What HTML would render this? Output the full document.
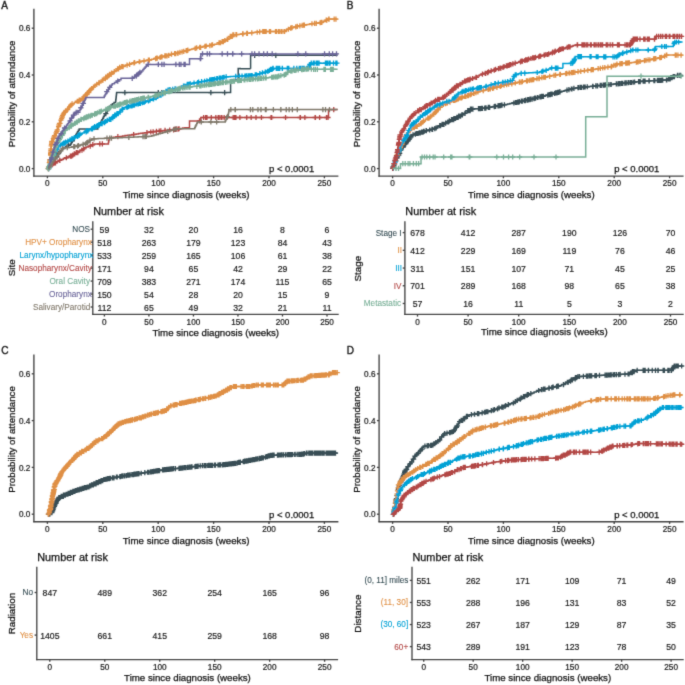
<!DOCTYPE html>
<html><head><meta charset="utf-8"><style>
html,body{margin:0;padding:0;background:#fff;width:685px;height:685px;overflow:hidden}
svg{display:block;font-family:"Liberation Sans", sans-serif}
</style></head><body>
<svg width="685" height="685" viewBox="0 0 685 685">
<defs><filter id="bl" x="0" y="0" width="685" height="685" filterUnits="userSpaceOnUse"><feConvolveMatrix order="3" kernelMatrix="0.0144 0.0912 0.0144 0.0912 0.5776 0.0912 0.0144 0.0912 0.0144" divisor="1" preserveAlpha="false" edgeMode="duplicate"/></filter></defs>
<rect width="685" height="685" fill="#fff"/>
<g filter="url(#bl)">
<text x="1.30" y="9.00" font-size="10.0" text-anchor="start" fill="#222" font-weight="normal" stroke="#222" stroke-width="0.4" >A</text>
<text x="346.70" y="9.00" font-size="10.0" text-anchor="start" fill="#222" font-weight="normal" stroke="#222" stroke-width="0.4" >B</text>
<text x="1.30" y="354.40" font-size="10.0" text-anchor="start" fill="#222" font-weight="normal" stroke="#222" stroke-width="0.4" >C</text>
<text x="346.70" y="354.40" font-size="10.0" text-anchor="start" fill="#222" font-weight="normal" stroke="#222" stroke-width="0.4" >D</text>
<line x1="33.90" y1="8.80" x2="33.90" y2="176.70" stroke="#444" stroke-width="1.35"/>
<line x1="33.30" y1="176.10" x2="338.40" y2="176.10" stroke="#444" stroke-width="1.35"/>
<line x1="47.40" y1="176.10" x2="47.40" y2="178.30" stroke="#444" stroke-width="1.35"/>
<text transform="translate(47.40,186.00) scale(1,1.07)" x="0" y="0" font-size="8.2" text-anchor="middle" fill="#222" font-weight="normal" stroke="#222" stroke-width="0.22" >0</text>
<line x1="102.80" y1="176.10" x2="102.80" y2="178.30" stroke="#444" stroke-width="1.35"/>
<text transform="translate(102.80,186.00) scale(1,1.07)" x="0" y="0" font-size="8.2" text-anchor="middle" fill="#222" font-weight="normal" stroke="#222" stroke-width="0.22" >50</text>
<line x1="158.20" y1="176.10" x2="158.20" y2="178.30" stroke="#444" stroke-width="1.35"/>
<text transform="translate(158.20,186.00) scale(1,1.07)" x="0" y="0" font-size="8.2" text-anchor="middle" fill="#222" font-weight="normal" stroke="#222" stroke-width="0.22" >100</text>
<line x1="213.60" y1="176.10" x2="213.60" y2="178.30" stroke="#444" stroke-width="1.35"/>
<text transform="translate(213.60,186.00) scale(1,1.07)" x="0" y="0" font-size="8.2" text-anchor="middle" fill="#222" font-weight="normal" stroke="#222" stroke-width="0.22" >150</text>
<line x1="269.00" y1="176.10" x2="269.00" y2="178.30" stroke="#444" stroke-width="1.35"/>
<text transform="translate(269.00,186.00) scale(1,1.07)" x="0" y="0" font-size="8.2" text-anchor="middle" fill="#222" font-weight="normal" stroke="#222" stroke-width="0.22" >200</text>
<line x1="324.40" y1="176.10" x2="324.40" y2="178.30" stroke="#444" stroke-width="1.35"/>
<text transform="translate(324.40,186.00) scale(1,1.07)" x="0" y="0" font-size="8.2" text-anchor="middle" fill="#222" font-weight="normal" stroke="#222" stroke-width="0.22" >250</text>
<line x1="31.70" y1="168.60" x2="33.90" y2="168.60" stroke="#444" stroke-width="1.35"/>
<text transform="translate(30.30,171.85) scale(1,1.07)" x="0" y="0" font-size="8.2" text-anchor="end" fill="#222" font-weight="normal" stroke="#222" stroke-width="0.22" >0.0</text>
<line x1="31.70" y1="121.80" x2="33.90" y2="121.80" stroke="#444" stroke-width="1.35"/>
<text transform="translate(30.30,125.05) scale(1,1.07)" x="0" y="0" font-size="8.2" text-anchor="end" fill="#222" font-weight="normal" stroke="#222" stroke-width="0.22" >0.2</text>
<line x1="31.70" y1="75.00" x2="33.90" y2="75.00" stroke="#444" stroke-width="1.35"/>
<text transform="translate(30.30,78.25) scale(1,1.07)" x="0" y="0" font-size="8.2" text-anchor="end" fill="#222" font-weight="normal" stroke="#222" stroke-width="0.22" >0.4</text>
<line x1="31.70" y1="28.20" x2="33.90" y2="28.20" stroke="#444" stroke-width="1.35"/>
<text transform="translate(30.30,31.45) scale(1,1.07)" x="0" y="0" font-size="8.2" text-anchor="end" fill="#222" font-weight="normal" stroke="#222" stroke-width="0.22" >0.6</text>
<text x="186.15" y="197.90" font-size="9.7" text-anchor="middle" fill="#111" font-weight="normal" stroke="#111" stroke-width="0.25" >Time since diagnosis (weeks)</text>
<text x="15.00" y="93.90" font-size="9.7" text-anchor="middle" fill="#111" font-weight="normal" stroke="#111" stroke-width="0.25" transform="rotate(-90 15.00 93.90)">Probability of attendance</text>
<text x="269.00" y="172.40" font-size="9.5" text-anchor="start" fill="#111" font-weight="normal" stroke="#111" stroke-width="0.25" >p &lt; 0.0001</text>
<line x1="379.10" y1="8.80" x2="379.10" y2="176.70" stroke="#444" stroke-width="1.35"/>
<line x1="378.50" y1="176.10" x2="683.60" y2="176.10" stroke="#444" stroke-width="1.35"/>
<line x1="392.60" y1="176.10" x2="392.60" y2="178.30" stroke="#444" stroke-width="1.35"/>
<text transform="translate(392.60,186.00) scale(1,1.07)" x="0" y="0" font-size="8.2" text-anchor="middle" fill="#222" font-weight="normal" stroke="#222" stroke-width="0.22" >0</text>
<line x1="448.00" y1="176.10" x2="448.00" y2="178.30" stroke="#444" stroke-width="1.35"/>
<text transform="translate(448.00,186.00) scale(1,1.07)" x="0" y="0" font-size="8.2" text-anchor="middle" fill="#222" font-weight="normal" stroke="#222" stroke-width="0.22" >50</text>
<line x1="503.40" y1="176.10" x2="503.40" y2="178.30" stroke="#444" stroke-width="1.35"/>
<text transform="translate(503.40,186.00) scale(1,1.07)" x="0" y="0" font-size="8.2" text-anchor="middle" fill="#222" font-weight="normal" stroke="#222" stroke-width="0.22" >100</text>
<line x1="558.80" y1="176.10" x2="558.80" y2="178.30" stroke="#444" stroke-width="1.35"/>
<text transform="translate(558.80,186.00) scale(1,1.07)" x="0" y="0" font-size="8.2" text-anchor="middle" fill="#222" font-weight="normal" stroke="#222" stroke-width="0.22" >150</text>
<line x1="614.20" y1="176.10" x2="614.20" y2="178.30" stroke="#444" stroke-width="1.35"/>
<text transform="translate(614.20,186.00) scale(1,1.07)" x="0" y="0" font-size="8.2" text-anchor="middle" fill="#222" font-weight="normal" stroke="#222" stroke-width="0.22" >200</text>
<line x1="669.60" y1="176.10" x2="669.60" y2="178.30" stroke="#444" stroke-width="1.35"/>
<text transform="translate(669.60,186.00) scale(1,1.07)" x="0" y="0" font-size="8.2" text-anchor="middle" fill="#222" font-weight="normal" stroke="#222" stroke-width="0.22" >250</text>
<line x1="376.90" y1="168.60" x2="379.10" y2="168.60" stroke="#444" stroke-width="1.35"/>
<text transform="translate(375.50,171.85) scale(1,1.07)" x="0" y="0" font-size="8.2" text-anchor="end" fill="#222" font-weight="normal" stroke="#222" stroke-width="0.22" >0.0</text>
<line x1="376.90" y1="121.80" x2="379.10" y2="121.80" stroke="#444" stroke-width="1.35"/>
<text transform="translate(375.50,125.05) scale(1,1.07)" x="0" y="0" font-size="8.2" text-anchor="end" fill="#222" font-weight="normal" stroke="#222" stroke-width="0.22" >0.2</text>
<line x1="376.90" y1="75.00" x2="379.10" y2="75.00" stroke="#444" stroke-width="1.35"/>
<text transform="translate(375.50,78.25) scale(1,1.07)" x="0" y="0" font-size="8.2" text-anchor="end" fill="#222" font-weight="normal" stroke="#222" stroke-width="0.22" >0.4</text>
<line x1="376.90" y1="28.20" x2="379.10" y2="28.20" stroke="#444" stroke-width="1.35"/>
<text transform="translate(375.50,31.45) scale(1,1.07)" x="0" y="0" font-size="8.2" text-anchor="end" fill="#222" font-weight="normal" stroke="#222" stroke-width="0.22" >0.6</text>
<text x="531.35" y="197.90" font-size="9.7" text-anchor="middle" fill="#111" font-weight="normal" stroke="#111" stroke-width="0.25" >Time since diagnosis (weeks)</text>
<text x="360.20" y="93.90" font-size="9.7" text-anchor="middle" fill="#111" font-weight="normal" stroke="#111" stroke-width="0.25" transform="rotate(-90 360.20 93.90)">Probability of attendance</text>
<text x="614.20" y="172.40" font-size="9.5" text-anchor="start" fill="#111" font-weight="normal" stroke="#111" stroke-width="0.25" >p &lt; 0.0001</text>
<line x1="33.90" y1="354.40" x2="33.90" y2="522.30" stroke="#444" stroke-width="1.35"/>
<line x1="33.30" y1="521.70" x2="338.40" y2="521.70" stroke="#444" stroke-width="1.35"/>
<line x1="47.40" y1="521.70" x2="47.40" y2="523.90" stroke="#444" stroke-width="1.35"/>
<text transform="translate(47.40,531.60) scale(1,1.07)" x="0" y="0" font-size="8.2" text-anchor="middle" fill="#222" font-weight="normal" stroke="#222" stroke-width="0.22" >0</text>
<line x1="102.80" y1="521.70" x2="102.80" y2="523.90" stroke="#444" stroke-width="1.35"/>
<text transform="translate(102.80,531.60) scale(1,1.07)" x="0" y="0" font-size="8.2" text-anchor="middle" fill="#222" font-weight="normal" stroke="#222" stroke-width="0.22" >50</text>
<line x1="158.20" y1="521.70" x2="158.20" y2="523.90" stroke="#444" stroke-width="1.35"/>
<text transform="translate(158.20,531.60) scale(1,1.07)" x="0" y="0" font-size="8.2" text-anchor="middle" fill="#222" font-weight="normal" stroke="#222" stroke-width="0.22" >100</text>
<line x1="213.60" y1="521.70" x2="213.60" y2="523.90" stroke="#444" stroke-width="1.35"/>
<text transform="translate(213.60,531.60) scale(1,1.07)" x="0" y="0" font-size="8.2" text-anchor="middle" fill="#222" font-weight="normal" stroke="#222" stroke-width="0.22" >150</text>
<line x1="269.00" y1="521.70" x2="269.00" y2="523.90" stroke="#444" stroke-width="1.35"/>
<text transform="translate(269.00,531.60) scale(1,1.07)" x="0" y="0" font-size="8.2" text-anchor="middle" fill="#222" font-weight="normal" stroke="#222" stroke-width="0.22" >200</text>
<line x1="324.40" y1="521.70" x2="324.40" y2="523.90" stroke="#444" stroke-width="1.35"/>
<text transform="translate(324.40,531.60) scale(1,1.07)" x="0" y="0" font-size="8.2" text-anchor="middle" fill="#222" font-weight="normal" stroke="#222" stroke-width="0.22" >250</text>
<line x1="31.70" y1="514.20" x2="33.90" y2="514.20" stroke="#444" stroke-width="1.35"/>
<text transform="translate(30.30,517.45) scale(1,1.07)" x="0" y="0" font-size="8.2" text-anchor="end" fill="#222" font-weight="normal" stroke="#222" stroke-width="0.22" >0.0</text>
<line x1="31.70" y1="467.40" x2="33.90" y2="467.40" stroke="#444" stroke-width="1.35"/>
<text transform="translate(30.30,470.65) scale(1,1.07)" x="0" y="0" font-size="8.2" text-anchor="end" fill="#222" font-weight="normal" stroke="#222" stroke-width="0.22" >0.2</text>
<line x1="31.70" y1="420.60" x2="33.90" y2="420.60" stroke="#444" stroke-width="1.35"/>
<text transform="translate(30.30,423.85) scale(1,1.07)" x="0" y="0" font-size="8.2" text-anchor="end" fill="#222" font-weight="normal" stroke="#222" stroke-width="0.22" >0.4</text>
<line x1="31.70" y1="373.80" x2="33.90" y2="373.80" stroke="#444" stroke-width="1.35"/>
<text transform="translate(30.30,377.05) scale(1,1.07)" x="0" y="0" font-size="8.2" text-anchor="end" fill="#222" font-weight="normal" stroke="#222" stroke-width="0.22" >0.6</text>
<text x="186.15" y="543.50" font-size="9.7" text-anchor="middle" fill="#111" font-weight="normal" stroke="#111" stroke-width="0.25" >Time since diagnosis (weeks)</text>
<text x="15.00" y="439.50" font-size="9.7" text-anchor="middle" fill="#111" font-weight="normal" stroke="#111" stroke-width="0.25" transform="rotate(-90 15.00 439.50)">Probability of attendance</text>
<text x="269.00" y="518.00" font-size="9.5" text-anchor="start" fill="#111" font-weight="normal" stroke="#111" stroke-width="0.25" >p &lt; 0.0001</text>
<line x1="379.10" y1="354.40" x2="379.10" y2="522.30" stroke="#444" stroke-width="1.35"/>
<line x1="378.50" y1="521.70" x2="683.60" y2="521.70" stroke="#444" stroke-width="1.35"/>
<line x1="392.60" y1="521.70" x2="392.60" y2="523.90" stroke="#444" stroke-width="1.35"/>
<text transform="translate(392.60,531.60) scale(1,1.07)" x="0" y="0" font-size="8.2" text-anchor="middle" fill="#222" font-weight="normal" stroke="#222" stroke-width="0.22" >0</text>
<line x1="448.00" y1="521.70" x2="448.00" y2="523.90" stroke="#444" stroke-width="1.35"/>
<text transform="translate(448.00,531.60) scale(1,1.07)" x="0" y="0" font-size="8.2" text-anchor="middle" fill="#222" font-weight="normal" stroke="#222" stroke-width="0.22" >50</text>
<line x1="503.40" y1="521.70" x2="503.40" y2="523.90" stroke="#444" stroke-width="1.35"/>
<text transform="translate(503.40,531.60) scale(1,1.07)" x="0" y="0" font-size="8.2" text-anchor="middle" fill="#222" font-weight="normal" stroke="#222" stroke-width="0.22" >100</text>
<line x1="558.80" y1="521.70" x2="558.80" y2="523.90" stroke="#444" stroke-width="1.35"/>
<text transform="translate(558.80,531.60) scale(1,1.07)" x="0" y="0" font-size="8.2" text-anchor="middle" fill="#222" font-weight="normal" stroke="#222" stroke-width="0.22" >150</text>
<line x1="614.20" y1="521.70" x2="614.20" y2="523.90" stroke="#444" stroke-width="1.35"/>
<text transform="translate(614.20,531.60) scale(1,1.07)" x="0" y="0" font-size="8.2" text-anchor="middle" fill="#222" font-weight="normal" stroke="#222" stroke-width="0.22" >200</text>
<line x1="669.60" y1="521.70" x2="669.60" y2="523.90" stroke="#444" stroke-width="1.35"/>
<text transform="translate(669.60,531.60) scale(1,1.07)" x="0" y="0" font-size="8.2" text-anchor="middle" fill="#222" font-weight="normal" stroke="#222" stroke-width="0.22" >250</text>
<line x1="376.90" y1="514.20" x2="379.10" y2="514.20" stroke="#444" stroke-width="1.35"/>
<text transform="translate(375.50,517.45) scale(1,1.07)" x="0" y="0" font-size="8.2" text-anchor="end" fill="#222" font-weight="normal" stroke="#222" stroke-width="0.22" >0.0</text>
<line x1="376.90" y1="467.40" x2="379.10" y2="467.40" stroke="#444" stroke-width="1.35"/>
<text transform="translate(375.50,470.65) scale(1,1.07)" x="0" y="0" font-size="8.2" text-anchor="end" fill="#222" font-weight="normal" stroke="#222" stroke-width="0.22" >0.2</text>
<line x1="376.90" y1="420.60" x2="379.10" y2="420.60" stroke="#444" stroke-width="1.35"/>
<text transform="translate(375.50,423.85) scale(1,1.07)" x="0" y="0" font-size="8.2" text-anchor="end" fill="#222" font-weight="normal" stroke="#222" stroke-width="0.22" >0.4</text>
<line x1="376.90" y1="373.80" x2="379.10" y2="373.80" stroke="#444" stroke-width="1.35"/>
<text transform="translate(375.50,377.05) scale(1,1.07)" x="0" y="0" font-size="8.2" text-anchor="end" fill="#222" font-weight="normal" stroke="#222" stroke-width="0.22" >0.6</text>
<text x="531.35" y="543.50" font-size="9.7" text-anchor="middle" fill="#111" font-weight="normal" stroke="#111" stroke-width="0.25" >Time since diagnosis (weeks)</text>
<text x="360.20" y="439.50" font-size="9.7" text-anchor="middle" fill="#111" font-weight="normal" stroke="#111" stroke-width="0.25" transform="rotate(-90 360.20 439.50)">Probability of attendance</text>
<text x="614.20" y="518.00" font-size="9.5" text-anchor="start" fill="#111" font-weight="normal" stroke="#111" stroke-width="0.25" >p &lt; 0.0001</text>
<path d="M48.20,168.60H49.17V167.09H50.14V165.57H51.11V164.06H52.09V162.54H53.06V161.03H54.03V159.51H55.00V158.00H56.13V156.53H57.26V155.06H58.39V153.59H59.51V152.11H60.64V150.64H61.77V149.17H62.90V147.70H65.40V146.43H67.90V145.17H70.40V143.90H71.32V142.32H72.24V140.74H73.16V139.16H74.08V137.58H75.00V136.00H75.84V134.58H76.68V133.16H77.52V131.74H78.36V130.32H79.20V128.90L97.00,128.90H97.81V127.36H98.62V125.83H99.44V124.29H100.25V122.75H101.06V121.21H101.88V119.67H102.69V118.14H103.50V116.60H104.33V115.13H105.16V113.66H105.99V112.19H106.81V110.71H107.64V109.24H108.47V107.77H109.30V106.30H110.88V105.05H112.45V103.80H114.02V102.55H115.60V101.30H115.77V99.85H115.93V98.40H116.10V96.95H116.27V95.50H116.43V94.05H116.60V92.60L230.60,92.60L230.60,80.00L238.20,80.00L238.20,68.60H240.27V68.63H242.33V68.67H244.40V68.70H246.47V68.73H248.53V68.77H250.60V68.80L250.60,55.30L337.60,55.30" fill="none" stroke="#374E55" stroke-width="1.5"/>
<path d="M104.34,110.71h5.20M106.94,108.11v5.20M122.26,92.60h5.20M124.86,90.00v5.20M155.69,92.60h5.20M158.29,90.00v5.20M54.10,156.53h5.20M56.70,153.93v5.20M50.88,161.03h5.20M53.48,158.43v5.20M55.89,153.59h5.20M58.49,150.99v5.20M208.26,92.60h5.20M210.86,90.00v5.20M65.86,145.17h5.20M68.46,142.57v5.20M222.04,92.60h5.20M224.64,90.00v5.20M159.22,92.60h5.20M161.82,90.00v5.20M252.05,55.30h5.20M254.65,52.70v5.20M273.20,55.30h5.20M275.80,52.70v5.20M69.75,140.74h5.20M72.35,138.14v5.20M103.23,113.66h5.20M105.83,111.06v5.20" fill="none" stroke="#374E55" stroke-width="1.3"/>
<path d="M48.20,168.60H48.46V167.09H48.71V165.58H48.97V164.07H49.22V162.56H49.48V161.04H49.73V159.53H49.99V158.02H50.24V156.51H50.50V155.00H50.62V153.49H50.74V151.98H50.87V150.47H50.99V148.96H51.11V147.44H51.23V145.93H51.36V144.42H51.48V142.91H51.60V141.40H52.31V139.97H53.03V138.54H53.74V137.11H54.46V135.69H55.17V134.26H55.89V132.83H56.60V131.40H57.17V129.80H57.75V128.20H58.32V126.60H58.89V125.00H59.46V123.40H60.04V121.80H60.61V120.20H61.18V118.60H61.75V117.00H62.33V115.40H62.90V113.80H64.16V112.37H65.41V110.94H66.67V109.51H67.93V108.09H69.19V106.66H70.44V105.23H71.70V103.80H74.20V102.53H76.70V101.27H79.20V100.00H81.50V98.45H83.80V96.90H85.06V95.50H86.31V94.10H87.57V92.70H88.83V91.30H90.09V89.90H91.34V88.50H92.60V87.10H94.47V85.69H96.34V84.27H98.21V82.86H100.09V81.44H101.96V80.03H103.83V78.61H105.70V77.20H107.57V75.80H109.44V74.40H111.31V73.00H113.19V71.60H115.06V70.20H116.93V68.80H118.80V67.40H121.00V66.67H123.20V65.93H125.40V65.20H127.60V64.47H129.80V63.73H132.00V63.00H134.19V62.59H136.38V62.17H138.56V61.76H140.75V61.35H142.94V60.94H145.12V60.53H147.31V60.11H149.50V59.70H151.69V59.15H153.88V58.60H156.07V58.05H158.26V57.50H160.45V56.95H162.64V56.40H164.83V55.85H167.02V55.30H169.21V54.75H171.40V54.20H173.67V53.62H175.93V53.03H178.20V52.45H180.47V51.87H182.73V51.28H185.00V50.70H187.27V50.13H189.53V49.57H191.80V49.00H194.07V48.43H196.33V47.87H198.60V47.30H200.86V46.88H203.12V46.45H205.39V46.02H207.65V45.60H209.91V45.17H212.17V44.75H214.44V44.32H216.70V43.90H218.95V42.77H221.20V41.65H223.45V40.52H225.70V39.40H227.97V37.90H230.23V36.40H232.50V34.90H234.77V34.64H237.03V34.39H239.30V34.13H241.57V33.88H243.83V33.62H246.10V33.37H248.37V33.11H250.63V32.86H252.90V32.60H255.17V32.23H257.43V31.87H259.70V31.50L282.30,31.50H284.57V30.37H286.83V29.23H289.10V28.10H291.35V27.53H293.60V26.95H295.85V26.38H298.10V25.80H300.37V25.46H302.64V25.12H304.91V24.78H307.18V24.44H309.45V24.10H311.72V23.76H313.99V23.42H316.26V23.08H318.53V22.74H320.80V22.40H323.07V21.30H325.33V20.20H327.60V19.10L337.60,19.10" fill="none" stroke="#DF8F44" stroke-width="1.5"/>
<path d="M64.80,109.51h5.20M67.40,106.91v5.20M203.63,46.02h5.20M206.23,43.42v5.20M168.94,54.20h5.20M171.54,51.60v5.20M48.66,145.93h5.20M51.26,143.33v5.20M217.31,42.77h5.20M219.91,40.17v5.20M96.71,82.86h5.20M99.31,80.26v5.20M136.62,61.76h5.20M139.22,59.16v5.20M272.90,31.50h5.20M275.50,28.90v5.20M80.22,98.45h5.20M82.82,95.85v5.20M164.15,55.85h5.20M166.75,53.25v5.20M230.55,34.90h5.20M233.15,32.30v5.20M326.18,19.10h5.20M328.78,16.50v5.20M124.47,65.20h5.20M127.07,62.60v5.20M59.43,117.00h5.20M62.03,114.40v5.20M47.98,155.00h5.20M50.58,152.40v5.20M244.80,33.37h5.20M247.40,30.77v5.20M289.46,27.53h5.20M292.06,24.93v5.20M222.19,40.52h5.20M224.79,37.92v5.20M181.17,51.28h5.20M183.77,48.68v5.20M278.45,31.50h5.20M281.05,28.90v5.20M146.17,60.11h5.20M148.77,57.51v5.20M48.72,145.93h5.20M51.32,143.33v5.20M207.30,45.60h5.20M209.90,43.00v5.20M263.53,31.50h5.20M266.13,28.90v5.20M115.58,68.80h5.20M118.18,66.20v5.20M47.00,161.04h5.20M49.60,158.44v5.20M61.70,112.37h5.20M64.30,109.77v5.20M48.73,145.93h5.20M51.33,143.33v5.20M57.01,123.40h5.20M59.61,120.80v5.20M115.96,68.80h5.20M118.56,66.20v5.20M50.75,138.54h5.20M53.35,135.94v5.20M173.07,53.62h5.20M175.67,51.02v5.20M276.63,31.50h5.20M279.23,28.90v5.20M88.01,89.90h5.20M90.61,87.30v5.20M108.50,74.40h5.20M111.10,71.80v5.20M318.54,22.40h5.20M321.14,19.80v5.20M63.11,110.94h5.20M65.71,108.34v5.20M77.72,100.00h5.20M80.32,97.40v5.20M185.26,50.13h5.20M187.86,47.53v5.20M45.96,167.09h5.20M48.56,164.49v5.20M111.65,71.60h5.20M114.25,69.00v5.20M317.50,22.74h5.20M320.10,20.14v5.20M159.20,56.95h5.20M161.80,54.35v5.20M216.47,42.77h5.20M219.07,40.17v5.20M297.27,25.80h5.20M299.87,23.20v5.20M288.30,28.10h5.20M290.90,25.50v5.20M117.08,67.40h5.20M119.68,64.80v5.20M53.74,132.83h5.20M56.34,130.23v5.20M48.64,145.93h5.20M51.24,143.33v5.20M69.51,103.80h5.20M72.11,101.20v5.20M103.20,77.20h5.20M105.80,74.60v5.20M45.64,168.60h5.20M48.24,166.00v5.20M53.55,132.83h5.20M56.15,130.23v5.20M47.36,159.53h5.20M49.96,156.93v5.20M194.07,47.87h5.20M196.67,45.27v5.20M82.89,95.50h5.20M85.49,92.90v5.20M108.94,73.00h5.20M111.54,70.40v5.20M281.95,31.50h5.20M284.55,28.90v5.20M141.40,60.94h5.20M144.00,58.34v5.20M51.22,137.11h5.20M53.82,134.51v5.20M103.60,77.20h5.20M106.20,74.60v5.20M260.75,31.50h5.20M263.35,28.90v5.20M47.12,161.04h5.20M49.72,158.44v5.20M162.55,55.85h5.20M165.15,53.25v5.20M168.86,54.20h5.20M171.46,51.60v5.20M164.37,55.85h5.20M166.97,53.25v5.20M285.81,29.23h5.20M288.41,26.63v5.20M84.18,94.10h5.20M86.78,91.50v5.20M62.53,112.37h5.20M65.13,109.77v5.20M166.13,55.30h5.20M168.73,52.70v5.20M99.77,80.03h5.20M102.37,77.43v5.20M279.36,31.50h5.20M281.96,28.90v5.20M281.53,31.50h5.20M284.13,28.90v5.20M273.82,31.50h5.20M276.42,28.90v5.20M75.39,101.27h5.20M77.99,98.67v5.20M106.90,74.40h5.20M109.50,71.80v5.20M47.20,159.53h5.20M49.80,156.93v5.20M84.58,94.10h5.20M87.18,91.50v5.20M319.21,22.40h5.20M321.81,19.80v5.20M313.63,23.42h5.20M316.23,20.82v5.20M319.03,22.40h5.20M321.63,19.80v5.20M74.67,101.27h5.20M77.27,98.67v5.20M68.10,105.23h5.20M70.70,102.63v5.20M198.04,47.30h5.20M200.64,44.70v5.20M267.94,31.50h5.20M270.54,28.90v5.20M209.12,45.17h5.20M211.72,42.57v5.20M51.61,137.11h5.20M54.21,134.51v5.20M301.82,25.12h5.20M304.42,22.52v5.20M240.05,33.88h5.20M242.65,31.28v5.20M65.06,109.51h5.20M67.66,106.91v5.20M102.73,78.61h5.20M105.33,76.01v5.20M323.63,20.20h5.20M326.23,17.60v5.20M120.48,66.67h5.20M123.08,64.07v5.20M230.29,34.90h5.20M232.89,32.30v5.20M56.38,125.00h5.20M58.98,122.40v5.20M299.60,25.46h5.20M302.20,22.86v5.20M59.06,118.60h5.20M61.66,116.00v5.20M331.57,19.10h5.20M334.17,16.50v5.20M106.00,75.80h5.20M108.60,73.20v5.20M56.87,123.40h5.20M59.47,120.80v5.20M324.21,20.20h5.20M326.81,17.60v5.20M164.27,55.85h5.20M166.87,53.25v5.20M131.31,63.00h5.20M133.91,60.40v5.20M261.87,31.50h5.20M264.47,28.90v5.20M82.83,95.50h5.20M85.43,92.90v5.20M80.25,98.45h5.20M82.85,95.85v5.20M84.24,94.10h5.20M86.84,91.50v5.20M57.38,123.40h5.20M59.98,120.80v5.20M105.83,75.80h5.20M108.43,73.20v5.20M184.45,50.70h5.20M187.05,48.10v5.20M127.02,64.47h5.20M129.62,61.87v5.20M154.63,58.05h5.20M157.23,55.45v5.20M162.27,55.85h5.20M164.87,53.25v5.20M131.99,62.59h5.20M134.59,59.99v5.20M45.80,168.60h5.20M48.40,166.00v5.20M63.41,110.94h5.20M66.01,108.34v5.20M231.16,34.90h5.20M233.76,32.30v5.20M100.33,80.03h5.20M102.93,77.43v5.20M175.11,53.03h5.20M177.71,50.43v5.20M54.32,131.40h5.20M56.92,128.80v5.20M81.55,96.90h5.20M84.15,94.30v5.20M249.18,32.86h5.20M251.78,30.26v5.20M177.32,52.45h5.20M179.92,49.85v5.20M301.05,25.12h5.20M303.65,22.52v5.20M192.61,48.43h5.20M195.21,45.83v5.20M159.37,56.95h5.20M161.97,54.35v5.20M137.13,61.76h5.20M139.73,59.16v5.20M146.77,60.11h5.20M149.37,57.51v5.20M225.09,39.40h5.20M227.69,36.80v5.20M311.98,23.42h5.20M314.58,20.82v5.20M175.47,53.03h5.20M178.07,50.43v5.20M260.20,31.50h5.20M262.80,28.90v5.20M55.97,126.60h5.20M58.57,124.00v5.20M49.17,141.40h5.20M51.77,138.80v5.20M49.48,141.40h5.20M52.08,138.80v5.20M254.60,32.23h5.20M257.20,29.63v5.20M60.14,115.40h5.20M62.74,112.80v5.20M209.90,44.75h5.20M212.50,42.15v5.20M293.18,26.95h5.20M295.78,24.35v5.20M76.48,101.27h5.20M79.08,98.67v5.20M119.47,66.67h5.20M122.07,64.07v5.20M333.32,19.10h5.20M335.92,16.50v5.20M60.84,113.80h5.20M63.44,111.20v5.20M158.59,56.95h5.20M161.19,54.35v5.20M68.24,105.23h5.20M70.84,102.63v5.20M227.68,36.40h5.20M230.28,33.80v5.20M172.07,53.62h5.20M174.67,51.02v5.20M46.71,162.56h5.20M49.31,159.96v5.20M197.16,47.30h5.20M199.76,44.70v5.20M48.88,144.42h5.20M51.48,141.82v5.20M257.04,31.87h5.20M259.64,29.27v5.20M54.15,131.40h5.20M56.75,128.80v5.20M48.00,155.00h5.20M50.60,152.40v5.20M86.39,91.30h5.20M88.99,88.70v5.20M127.01,64.47h5.20M129.61,61.87v5.20M262.94,31.50h5.20M265.54,28.90v5.20M59.68,117.00h5.20M62.28,114.40v5.20M179.45,51.87h5.20M182.05,49.27v5.20M51.90,135.69h5.20M54.50,133.09v5.20M219.56,41.65h5.20M222.16,39.05v5.20M49.67,141.40h5.20M52.27,138.80v5.20M202.34,46.45h5.20M204.94,43.85v5.20M51.04,138.54h5.20M53.64,135.94v5.20M48.98,142.91h5.20M51.58,140.31v5.20M136.70,61.76h5.20M139.30,59.16v5.20M173.17,53.62h5.20M175.77,51.02v5.20M85.13,92.70h5.20M87.73,90.10v5.20M162.75,55.85h5.20M165.35,53.25v5.20M54.67,129.80h5.20M57.27,127.20v5.20M48.29,150.47h5.20M50.89,147.87v5.20M96.19,82.86h5.20M98.79,80.26v5.20M244.16,33.37h5.20M246.76,30.77v5.20M153.86,58.05h5.20M156.46,55.45v5.20M105.01,75.80h5.20M107.61,73.20v5.20M81.22,96.90h5.20M83.82,94.30v5.20M233.42,34.64h5.20M236.02,32.04v5.20M67.18,106.66h5.20M69.78,104.06v5.20M309.36,23.76h5.20M311.96,21.16v5.20M266.87,31.50h5.20M269.47,28.90v5.20M153.11,58.60h5.20M155.71,56.00v5.20M117.31,67.40h5.20M119.91,64.80v5.20M220.81,41.65h5.20M223.41,39.05v5.20M104.66,77.20h5.20M107.26,74.60v5.20M224.54,39.40h5.20M227.14,36.80v5.20M119.16,66.67h5.20M121.76,64.07v5.20M48.40,148.96h5.20M51.00,146.36v5.20M49.53,141.40h5.20M52.13,138.80v5.20M82.66,95.50h5.20M85.26,92.90v5.20M51.74,137.11h5.20M54.34,134.51v5.20M288.01,28.10h5.20M290.61,25.50v5.20M89.05,88.50h5.20M91.65,85.90v5.20M90.86,87.10h5.20M93.46,84.50v5.20M59.98,115.40h5.20M62.58,112.80v5.20M86.18,92.70h5.20M88.78,90.10v5.20M323.97,20.20h5.20M326.57,17.60v5.20M81.12,98.45h5.20M83.72,95.85v5.20M96.28,82.86h5.20M98.88,80.26v5.20M45.70,168.60h5.20M48.30,166.00v5.20M145.81,60.11h5.20M148.41,57.51v5.20M68.48,105.23h5.20M71.08,102.63v5.20M45.92,167.09h5.20M48.52,164.49v5.20M52.14,135.69h5.20M54.74,133.09v5.20M48.02,153.49h5.20M50.62,150.89v5.20M94.18,84.27h5.20M96.78,81.67v5.20M183.60,50.70h5.20M186.20,48.10v5.20M240.46,33.88h5.20M243.06,31.28v5.20M229.63,36.40h5.20M232.23,33.80v5.20M114.94,68.80h5.20M117.54,66.20v5.20M326.49,19.10h5.20M329.09,16.50v5.20M229.09,36.40h5.20M231.69,33.80v5.20M48.25,151.98h5.20M50.85,149.38v5.20M294.66,26.38h5.20M297.26,23.77v5.20M234.01,34.64h5.20M236.61,32.04v5.20M58.31,120.20h5.20M60.91,117.60v5.20M157.49,57.50h5.20M160.09,54.90v5.20M275.78,31.50h5.20M278.38,28.90v5.20M184.42,50.70h5.20M187.02,48.10v5.20M217.91,42.77h5.20M220.51,40.17v5.20M76.67,100.00h5.20M79.27,97.40v5.20M57.07,123.40h5.20M59.67,120.80v5.20" fill="none" stroke="#DF8F44" stroke-width="1.3"/>
<path d="M48.20,168.60H48.90V167.20H49.60V165.80H50.30V164.40H51.00V163.00H51.62V161.44H52.24V159.88H52.86V158.32H53.48V156.76H54.10V155.20H54.81V153.77H55.53V152.34H56.24V150.91H56.96V149.49H57.67V148.06H58.39V146.63H59.10V145.20H61.20V144.15H63.30V143.10H65.40V142.05H67.50V141.00H69.60V139.95H71.70V138.90H73.78V137.68H75.85V136.45H77.92V135.22H80.00V134.00H82.09V132.96H84.17V131.91H86.26V130.87H88.34V129.83H90.43V128.79H92.51V127.74H94.60V126.70H96.69V125.66H98.77V124.61H100.86V123.57H102.94V122.53H105.03V121.49H107.11V120.44H109.20V119.40H111.03V117.94H112.85V116.48H114.67V115.01H116.50V113.55H118.33V112.09H120.15V110.62H121.97V109.16H123.80V107.70H125.89V107.09H127.97V106.47H130.06V105.86H132.14V105.24H134.23V104.63H136.31V104.01H138.40V103.40H140.49V102.77H142.57V102.14H144.66V101.51H146.74V100.89H148.83V100.26H150.91V99.63H153.00V99.00H155.09V97.74H157.17V96.49H159.26V95.23H161.34V93.97H163.43V92.71H165.51V91.46H167.60V90.20H169.67V89.72H171.73V89.23H173.80V88.75H175.87V88.27H177.93V87.78H180.00V87.30H182.50V86.00H185.00V84.70H187.26V84.28H189.53V83.85H191.79V83.42H194.05V83.00H196.31V82.58H198.57V82.15H200.84V81.72H203.10V81.30H205.36V80.85H207.62V80.40H209.88V79.95H212.14V79.50H214.40V79.05H216.66V78.60H218.92V78.15H221.18V77.70H223.44V77.25H225.70V76.80H227.97V76.70H230.23V76.60H232.50V76.50H234.77V76.40H237.03V76.30H239.30V76.20H241.57V76.10H243.83V76.00H246.10V75.90H248.37V75.80H250.63V75.70H252.90V75.60H255.16V74.92H257.42V74.24H259.68V73.56H261.94V72.88H264.20V72.20H266.18V71.25H268.15V70.30H270.12V69.35H272.10V68.40L307.20,68.40H308.05V67.10H308.90V65.80H309.75V64.50H310.60V63.20L337.60,63.20" fill="none" stroke="#00A1D5" stroke-width="1.5"/>
<path d="M62.46,143.10h5.20M65.06,140.50v5.20M181.47,86.00h5.20M184.07,83.40v5.20M204.30,80.85h5.20M206.90,78.25v5.20M160.84,92.71h5.20M163.44,90.11v5.20M263.08,72.20h5.20M265.68,69.60v5.20M166.11,90.20h5.20M168.71,87.60v5.20M214.21,78.60h5.20M216.81,76.00v5.20M244.07,75.90h5.20M246.67,73.30v5.20M54.55,149.49h5.20M57.15,146.89v5.20M239.43,76.10h5.20M242.03,73.50v5.20M245.71,75.90h5.20M248.31,73.30v5.20M163.71,91.46h5.20M166.31,88.86v5.20M160.17,93.97h5.20M162.77,91.37v5.20M253.95,74.92h5.20M256.55,72.32v5.20M209.72,79.50h5.20M212.32,76.90v5.20M71.70,137.68h5.20M74.30,135.08v5.20M246.46,75.80h5.20M249.06,73.20v5.20M184.69,84.28h5.20M187.29,81.68v5.20M53.12,152.34h5.20M55.72,149.74v5.20M220.14,77.70h5.20M222.74,75.10v5.20M221.50,77.25h5.20M224.10,74.65v5.20M170.09,89.23h5.20M172.69,86.63v5.20M154.82,96.49h5.20M157.42,93.89v5.20M276.49,68.40h5.20M279.09,65.80v5.20M333.28,63.20h5.20M335.88,60.60v5.20M48.02,164.40h5.20M50.62,161.80v5.20M269.44,69.35h5.20M272.04,66.75v5.20M150.96,99.00h5.20M153.56,96.40v5.20M89.80,128.79h5.20M92.40,126.19v5.20M89.04,128.79h5.20M91.64,126.19v5.20M70.19,138.90h5.20M72.79,136.30v5.20M311.58,63.20h5.20M314.18,60.60v5.20M268.53,69.35h5.20M271.13,66.75v5.20M294.19,68.40h5.20M296.79,65.80v5.20M93.87,126.70h5.20M96.47,124.10v5.20M160.88,92.71h5.20M163.48,90.11v5.20M45.94,168.60h5.20M48.54,166.00v5.20M153.12,97.74h5.20M155.72,95.14v5.20M69.81,138.90h5.20M72.41,136.30v5.20M115.43,113.55h5.20M118.03,110.95v5.20M46.13,168.60h5.20M48.73,166.00v5.20M273.71,68.40h5.20M276.31,65.80v5.20M307.76,64.50h5.20M310.36,61.90v5.20M279.67,68.40h5.20M282.27,65.80v5.20M128.28,105.86h5.20M130.88,103.26v5.20M323.91,63.20h5.20M326.51,60.60v5.20M126.26,106.47h5.20M128.86,103.87v5.20M104.61,120.44h5.20M107.21,117.84v5.20M60.35,144.15h5.20M62.95,141.55v5.20M108.31,119.40h5.20M110.91,116.80v5.20M98.81,123.57h5.20M101.41,120.97v5.20M167.46,89.72h5.20M170.06,87.12v5.20M131.54,105.24h5.20M134.14,102.64v5.20M298.00,68.40h5.20M300.60,65.80v5.20M207.08,80.40h5.20M209.68,77.80v5.20M322.83,63.20h5.20M325.43,60.60v5.20M236.81,76.20h5.20M239.41,73.60v5.20M242.26,76.00h5.20M244.86,73.40v5.20M249.49,75.70h5.20M252.09,73.10v5.20M106.69,119.40h5.20M109.29,116.80v5.20M307.26,64.50h5.20M309.86,61.90v5.20M157.37,95.23h5.20M159.97,92.63v5.20M111.60,116.48h5.20M114.20,113.88v5.20M315.02,63.20h5.20M317.62,60.60v5.20M214.74,78.60h5.20M217.34,76.00v5.20M180.89,86.00h5.20M183.49,83.40v5.20M75.66,135.22h5.20M78.26,132.62v5.20M89.72,128.79h5.20M92.32,126.19v5.20M163.37,91.46h5.20M165.97,88.86v5.20M304.48,68.40h5.20M307.08,65.80v5.20M150.69,99.00h5.20M153.29,96.40v5.20M83.85,130.87h5.20M86.45,128.27v5.20M119.54,109.16h5.20M122.14,106.56v5.20M94.62,125.66h5.20M97.22,123.06v5.20M186.67,84.28h5.20M189.27,81.68v5.20M248.97,75.70h5.20M251.57,73.10v5.20M141.06,102.14h5.20M143.66,99.54v5.20M130.25,105.24h5.20M132.85,102.64v5.20M53.13,152.34h5.20M55.73,149.74v5.20M311.40,63.20h5.20M314.00,60.60v5.20M166.30,90.20h5.20M168.90,87.60v5.20M277.08,68.40h5.20M279.68,65.80v5.20M102.95,121.49h5.20M105.55,118.89v5.20M136.73,103.40h5.20M139.33,100.80v5.20M330.91,63.20h5.20M333.51,60.60v5.20M270.27,68.40h5.20M272.87,65.80v5.20M49.46,161.44h5.20M52.06,158.84v5.20M286.11,68.40h5.20M288.71,65.80v5.20M191.45,83.00h5.20M194.05,80.40v5.20M135.65,104.01h5.20M138.25,101.41v5.20M299.53,68.40h5.20M302.13,65.80v5.20M314.71,63.20h5.20M317.31,60.60v5.20M61.02,143.10h5.20M63.62,140.50v5.20M172.61,88.75h5.20M175.21,86.15v5.20M327.49,63.20h5.20M330.09,60.60v5.20M211.27,79.50h5.20M213.87,76.90v5.20M153.64,97.74h5.20M156.24,95.14v5.20M50.75,158.32h5.20M53.35,155.72v5.20M96.00,125.66h5.20M98.60,123.06v5.20M210.23,79.50h5.20M212.83,76.90v5.20M67.53,139.95h5.20M70.13,137.35v5.20M208.86,79.95h5.20M211.46,77.35v5.20M62.95,142.05h5.20M65.55,139.45v5.20M172.40,88.75h5.20M175.00,86.15v5.20M134.18,104.01h5.20M136.78,101.41v5.20M196.00,82.15h5.20M198.60,79.55v5.20M111.09,116.48h5.20M113.69,113.88v5.20M325.40,63.20h5.20M328.00,60.60v5.20M286.18,68.40h5.20M288.78,65.80v5.20M94.60,125.66h5.20M97.20,123.06v5.20M327.03,63.20h5.20M329.63,60.60v5.20M112.11,115.01h5.20M114.71,112.41v5.20M164.32,91.46h5.20M166.92,88.86v5.20M142.59,101.51h5.20M145.19,98.91v5.20M218.41,78.15h5.20M221.01,75.55v5.20M92.07,126.70h5.20M94.67,124.10v5.20M120.14,109.16h5.20M122.74,106.56v5.20M223.55,76.80h5.20M226.15,74.20v5.20M263.06,72.20h5.20M265.66,69.60v5.20M165.42,90.20h5.20M168.02,87.60v5.20M316.42,63.20h5.20M319.02,60.60v5.20M267.98,69.35h5.20M270.58,66.75v5.20M91.50,127.74h5.20M94.10,125.14v5.20M110.16,117.94h5.20M112.76,115.34v5.20M163.30,91.46h5.20M165.90,88.86v5.20M90.78,127.74h5.20M93.38,125.14v5.20M218.46,78.15h5.20M221.06,75.55v5.20M71.99,137.68h5.20M74.59,135.08v5.20M89.86,128.79h5.20M92.46,126.19v5.20M69.21,138.90h5.20M71.81,136.30v5.20M53.21,152.34h5.20M55.81,149.74v5.20M300.51,68.40h5.20M303.11,65.80v5.20M243.49,76.00h5.20M246.09,73.40v5.20M307.43,64.50h5.20M310.03,61.90v5.20M83.52,131.91h5.20M86.12,129.31v5.20M245.84,75.80h5.20M248.44,73.20v5.20M217.18,78.15h5.20M219.78,75.55v5.20M130.23,105.24h5.20M132.83,102.64v5.20M77.41,134.00h5.20M80.01,131.40v5.20M107.24,119.40h5.20M109.84,116.80v5.20M311.34,63.20h5.20M313.94,60.60v5.20M313.60,63.20h5.20M316.20,60.60v5.20M125.00,107.09h5.20M127.60,104.49v5.20M284.68,68.40h5.20M287.28,65.80v5.20M51.84,155.20h5.20M54.44,152.60v5.20M129.37,105.86h5.20M131.97,103.26v5.20M84.42,130.87h5.20M87.02,128.27v5.20M270.56,68.40h5.20M273.16,65.80v5.20M141.66,102.14h5.20M144.26,99.54v5.20M252.65,74.92h5.20M255.25,72.32v5.20M49.68,159.88h5.20M52.28,157.28v5.20M305.67,67.10h5.20M308.27,64.50v5.20M247.80,75.80h5.20M250.40,73.20v5.20M119.87,109.16h5.20M122.47,106.56v5.20M324.66,63.20h5.20M327.26,60.60v5.20M101.84,122.53h5.20M104.44,119.93v5.20M114.40,113.55h5.20M117.00,110.95v5.20M46.13,168.60h5.20M48.73,166.00v5.20M305.99,67.10h5.20M308.59,64.50v5.20M308.65,63.20h5.20M311.25,60.60v5.20M95.08,125.66h5.20M97.68,123.06v5.20M333.76,63.20h5.20M336.36,60.60v5.20M132.15,104.63h5.20M134.75,102.03v5.20M147.26,100.26h5.20M149.86,97.66v5.20M307.31,64.50h5.20M309.91,61.90v5.20M265.03,71.25h5.20M267.63,68.65v5.20M296.63,68.40h5.20M299.23,65.80v5.20M198.98,81.72h5.20M201.58,79.12v5.20M114.56,113.55h5.20M117.16,110.95v5.20M257.26,73.56h5.20M259.86,70.96v5.20M85.23,130.87h5.20M87.83,128.27v5.20M96.31,124.61h5.20M98.91,122.01v5.20M49.98,159.88h5.20M52.58,157.28v5.20M117.51,112.09h5.20M120.11,109.49v5.20M304.17,68.40h5.20M306.77,65.80v5.20M102.60,121.49h5.20M105.20,118.89v5.20M59.65,144.15h5.20M62.25,141.55v5.20M233.18,76.40h5.20M235.78,73.80v5.20M94.96,125.66h5.20M97.56,123.06v5.20M202.02,81.30h5.20M204.62,78.70v5.20M247.69,75.80h5.20M250.29,73.20v5.20M216.59,78.15h5.20M219.19,75.55v5.20M279.81,68.40h5.20M282.41,65.80v5.20M185.51,84.28h5.20M188.11,81.68v5.20M243.95,75.90h5.20M246.55,73.30v5.20M96.68,124.61h5.20M99.28,122.01v5.20M75.08,136.45h5.20M77.68,133.85v5.20M187.66,83.85h5.20M190.26,81.25v5.20M137.87,103.40h5.20M140.47,100.80v5.20M165.48,90.20h5.20M168.08,87.60v5.20M266.84,70.30h5.20M269.44,67.70v5.20M310.76,63.20h5.20M313.36,60.60v5.20M158.37,95.23h5.20M160.97,92.63v5.20M301.59,68.40h5.20M304.19,65.80v5.20M50.44,158.32h5.20M53.04,155.72v5.20M65.30,141.00h5.20M67.90,138.40v5.20M323.75,63.20h5.20M326.35,60.60v5.20M307.47,64.50h5.20M310.07,61.90v5.20M285.26,68.40h5.20M287.86,65.80v5.20M101.97,122.53h5.20M104.57,119.93v5.20M310.86,63.20h5.20M313.46,60.60v5.20M195.12,82.58h5.20M197.72,79.98v5.20M90.68,127.74h5.20M93.28,125.14v5.20M69.52,138.90h5.20M72.12,136.30v5.20M99.51,123.57h5.20M102.11,120.97v5.20M212.26,79.05h5.20M214.86,76.45v5.20M47.23,165.80h5.20M49.83,163.20v5.20M221.26,77.25h5.20M223.86,74.65v5.20M112.45,115.01h5.20M115.05,112.41v5.20M262.68,72.20h5.20M265.28,69.60v5.20M53.00,152.34h5.20M55.60,149.74v5.20M136.95,103.40h5.20M139.55,100.80v5.20M207.49,79.95h5.20M210.09,77.35v5.20M76.77,135.22h5.20M79.37,132.62v5.20M140.56,102.14h5.20M143.16,99.54v5.20M113.81,115.01h5.20M116.41,112.41v5.20M113.11,115.01h5.20M115.71,112.41v5.20M124.15,107.09h5.20M126.75,104.49v5.20M304.48,68.40h5.20M307.08,65.80v5.20M125.78,106.47h5.20M128.38,103.87v5.20M239.43,76.10h5.20M242.03,73.50v5.20M46.93,167.20h5.20M49.53,164.60v5.20M145.85,100.89h5.20M148.45,98.29v5.20M139.73,102.77h5.20M142.33,100.17v5.20M154.91,96.49h5.20M157.51,93.89v5.20M47.39,165.80h5.20M49.99,163.20v5.20M209.34,79.95h5.20M211.94,77.35v5.20M57.81,145.20h5.20M60.41,142.60v5.20M128.51,105.86h5.20M131.11,103.26v5.20M71.76,137.68h5.20M74.36,135.08v5.20M173.11,88.75h5.20M175.71,86.15v5.20M61.73,143.10h5.20M64.33,140.50v5.20M265.48,71.25h5.20M268.08,68.65v5.20M83.92,130.87h5.20M86.52,128.27v5.20M334.34,63.20h5.20M336.94,60.60v5.20M158.85,93.97h5.20M161.45,91.37v5.20M307.48,64.50h5.20M310.08,61.90v5.20M291.27,68.40h5.20M293.87,65.80v5.20M275.13,68.40h5.20M277.73,65.80v5.20M259.84,72.88h5.20M262.44,70.28v5.20" fill="none" stroke="#00A1D5" stroke-width="1.3"/>
<path d="M48.20,168.60H49.13V167.40H50.07V166.20H51.00V165.00H52.55V163.90H54.10V162.80H56.60V161.55H59.10V160.30H61.20V159.45H63.30V158.60H65.40V157.75H67.50V156.90H69.60V156.05H71.70V155.20H73.78V153.95H75.87V152.70H77.95V151.45H80.03V150.20H82.12V148.95H84.20V147.70H86.22V146.94H88.24V146.18H90.26V145.42H92.28V144.66H94.30V143.90L108.10,143.90H108.40V142.35H108.70V140.80H109.00V139.25H109.30V137.70H111.44V137.44H113.58V137.18H115.72V136.92H117.86V136.66H120.00V136.40H122.53V136.00H125.07V135.60H127.60V135.20H129.79V134.88H131.98V134.56H134.17V134.24H136.36V133.92H138.55V133.60H140.74V133.28H142.93V132.96H145.12V132.64H147.31V132.32H149.50V132.00H151.69V131.78H153.88V131.56H156.07V131.34H158.26V131.12H160.45V130.90H162.64V130.68H164.83V130.46H167.02V130.24H169.21V130.02H171.40V129.80H173.67V129.45H175.93V129.10H178.20V128.75H180.47V128.40H182.73V128.05H185.00V127.70L189.50,127.70L189.50,120.90L200.80,120.90L200.80,117.50L328.50,117.50L328.50,109.60L337.60,109.60" fill="none" stroke="#B24745" stroke-width="1.5"/>
<path d="M144.37,132.64h5.20M146.97,130.04v5.20M221.56,117.50h5.20M224.16,114.90v5.20M97.22,143.90h5.20M99.82,141.30v5.20M176.47,128.75h5.20M179.07,126.15v5.20M71.70,153.95h5.20M74.30,151.35v5.20M312.78,117.50h5.20M315.38,114.90v5.20M52.91,162.80h5.20M55.51,160.20v5.20M203.07,117.50h5.20M205.67,114.90v5.20M213.23,117.50h5.20M215.83,114.90v5.20M268.44,117.50h5.20M271.04,114.90v5.20M237.30,117.50h5.20M239.90,114.90v5.20M148.18,132.00h5.20M150.78,129.40v5.20M150.53,131.78h5.20M153.13,129.18v5.20M156.62,131.12h5.20M159.22,128.52v5.20M49.36,165.00h5.20M51.96,162.40v5.20M167.13,130.02h5.20M169.73,127.42v5.20M297.80,117.50h5.20M300.40,114.90v5.20M158.24,130.90h5.20M160.84,128.30v5.20M162.46,130.46h5.20M165.06,127.86v5.20M72.08,153.95h5.20M74.68,151.35v5.20M63.73,157.75h5.20M66.33,155.15v5.20M173.43,129.10h5.20M176.03,126.50v5.20M208.70,117.50h5.20M211.30,114.90v5.20M297.50,117.50h5.20M300.10,114.90v5.20M173.46,129.10h5.20M176.06,126.50v5.20M171.92,129.45h5.20M174.52,126.85v5.20M215.59,117.50h5.20M218.19,114.90v5.20M325.41,117.50h5.20M328.01,114.90v5.20M302.27,117.50h5.20M304.87,114.90v5.20M87.62,146.18h5.20M90.22,143.58v5.20M170.97,129.80h5.20M173.57,127.20v5.20M219.28,117.50h5.20M221.88,114.90v5.20M317.04,117.50h5.20M319.64,114.90v5.20M57.24,160.30h5.20M59.84,157.70v5.20M218.47,117.50h5.20M221.07,114.90v5.20M233.32,117.50h5.20M235.92,114.90v5.20M216.53,117.50h5.20M219.13,114.90v5.20M173.15,129.45h5.20M175.75,126.85v5.20M90.21,144.66h5.20M92.81,142.06v5.20M171.79,129.45h5.20M174.39,126.85v5.20M51.96,162.80h5.20M54.56,160.20v5.20M79.38,150.20h5.20M81.98,147.60v5.20M312.54,117.50h5.20M315.14,114.90v5.20M81.15,148.95h5.20M83.75,146.35v5.20M70.21,155.20h5.20M72.81,152.60v5.20M244.14,117.50h5.20M246.74,114.90v5.20M269.10,117.50h5.20M271.70,114.90v5.20M196.87,120.90h5.20M199.47,118.30v5.20M69.09,156.05h5.20M71.69,153.45v5.20M248.55,117.50h5.20M251.15,114.90v5.20M232.01,117.50h5.20M234.61,114.90v5.20M331.15,109.60h5.20M333.75,107.00v5.20M131.05,134.56h5.20M133.65,131.96v5.20M153.86,131.34h5.20M156.46,128.74v5.20M204.37,117.50h5.20M206.97,114.90v5.20M230.59,117.50h5.20M233.19,114.90v5.20M323.86,117.50h5.20M326.46,114.90v5.20M282.95,117.50h5.20M285.55,114.90v5.20M115.26,136.66h5.20M117.86,134.06v5.20M50.18,163.90h5.20M52.78,161.30v5.20M253.40,117.50h5.20M256.00,114.90v5.20M175.36,129.10h5.20M177.96,126.50v5.20M73.74,152.70h5.20M76.34,150.10v5.20M201.05,117.50h5.20M203.65,114.90v5.20M45.93,168.60h5.20M48.53,166.00v5.20M67.75,156.05h5.20M70.35,153.45v5.20M99.75,143.90h5.20M102.35,141.30v5.20M224.27,117.50h5.20M226.87,114.90v5.20M258.84,117.50h5.20M261.44,114.90v5.20M75.22,152.70h5.20M77.82,150.10v5.20" fill="none" stroke="#B24745" stroke-width="1.3"/>
<path d="M48.20,168.60H48.77V167.00H49.33V165.40H49.90V163.80H50.47V162.20H51.03V160.60H51.60V159.00H52.05V157.52H52.51V156.04H52.96V154.55H53.42V153.07H53.87V151.59H54.33V150.11H54.78V148.63H55.24V147.15H55.69V145.66H56.15V144.18H56.60V142.70H57.58V141.17H58.56V139.63H59.53V138.10H60.51V136.57H61.49V135.03H62.47V133.50H63.44V131.97H64.42V130.43H65.40V128.90H67.49V127.54H69.57V126.19H71.66V124.83H73.74V123.47H75.83V122.11H77.91V120.76H80.00V119.40H82.09V118.57H84.17V117.74H86.26V116.91H88.34V116.09H90.43V115.26H92.51V114.43H94.60V113.60H96.69V112.76H98.77V111.91H100.86V111.07H102.94V110.23H105.03V109.39H107.11V108.54H109.20V107.70H111.29V106.97H113.37V106.24H115.46V105.51H117.54V104.79H119.63V104.06H121.71V103.33H123.80V102.60H125.89V102.09H127.97V101.57H130.06V101.06H132.14V100.54H134.23V100.03H136.31V99.51H138.40V99.00H140.49V98.59H142.57V98.17H144.66V97.76H146.74V97.34H148.83V96.93H150.91V96.51H153.00V96.10H155.09V95.47H157.17V94.84H159.26V94.21H161.34V93.59H163.43V92.96H165.51V92.33H167.60V91.70H169.67V91.12H171.73V90.53H173.80V89.95H175.87V89.37H177.93V88.78H180.00V88.20H182.12V87.93H184.25V87.66H186.37V87.39H188.49V87.12H190.62V86.85H192.74V86.58H194.86V86.32H196.98V86.05H199.11V85.78H201.23V85.51H203.35V85.24H205.48V84.97H207.60V84.70H209.87V84.36H212.14V84.02H214.41V83.68H216.68V83.34H218.95V83.00H221.22V82.66H223.49V82.32H225.76V81.98H228.03V81.64H230.30V81.30H232.56V81.07H234.82V80.84H237.08V80.61H239.34V80.38H241.60V80.15H243.86V79.92H246.12V79.69H248.38V79.46H250.64V79.23H252.90V79.00H255.16V78.78H257.42V78.56H259.68V78.34H261.94V78.12H264.20V77.90H266.46V77.68H268.72V77.46H270.98V77.24H273.24V77.02H275.50V76.80H277.77V76.22H280.05V75.65H282.33V75.08H284.60V74.50H286.10V73.37H287.60V72.23H289.10V71.10H291.36V70.81H293.62V70.52H295.89V70.24H298.15V69.95H300.41V69.66H302.68V69.38H304.94V69.09H307.20V68.80H309.45V69.05H311.70V69.30L337.60,69.30" fill="none" stroke="#79AF97" stroke-width="1.5"/>
<path d="M86.05,116.09h5.20M88.65,113.49v5.20M55.60,141.17h5.20M58.20,138.57v5.20M288.27,71.10h5.20M290.87,68.50v5.20M132.18,100.03h5.20M134.78,97.43v5.20M47.10,165.40h5.20M49.70,162.80v5.20M182.39,87.66h5.20M184.99,85.06v5.20M212.82,83.68h5.20M215.42,81.08v5.20M328.10,69.30h5.20M330.70,66.70v5.20M89.71,115.26h5.20M92.31,112.66v5.20M50.15,156.04h5.20M52.75,153.44v5.20M134.21,99.51h5.20M136.81,96.91v5.20M51.63,151.59h5.20M54.23,148.99v5.20M47.05,165.40h5.20M49.65,162.80v5.20M312.78,69.30h5.20M315.38,66.70v5.20M76.58,120.76h5.20M79.18,118.16v5.20M166.33,91.70h5.20M168.93,89.10v5.20M271.03,77.02h5.20M273.63,74.42v5.20M105.14,108.54h5.20M107.74,105.94v5.20M50.77,154.55h5.20M53.37,151.95v5.20M260.96,78.12h5.20M263.56,75.52v5.20M46.65,167.00h5.20M49.25,164.40v5.20M246.83,79.46h5.20M249.43,76.86v5.20M244.54,79.69h5.20M247.14,77.09v5.20M81.79,117.74h5.20M84.39,115.14v5.20M83.74,116.91h5.20M86.34,114.31v5.20M114.42,105.51h5.20M117.02,102.91v5.20M229.61,81.30h5.20M232.21,78.70v5.20M235.08,80.61h5.20M237.68,78.01v5.20M180.45,87.93h5.20M183.05,85.33v5.20M262.78,77.90h5.20M265.38,75.30v5.20M93.34,113.60h5.20M95.94,111.00v5.20M314.72,69.30h5.20M317.32,66.70v5.20M288.80,70.81h5.20M291.40,68.21v5.20M92.49,113.60h5.20M95.09,111.00v5.20M247.92,79.46h5.20M250.52,76.86v5.20M246.52,79.46h5.20M249.12,76.86v5.20M289.51,70.81h5.20M292.11,68.21v5.20M87.64,116.09h5.20M90.24,113.49v5.20M206.57,84.70h5.20M209.17,82.10v5.20M220.84,82.66h5.20M223.44,80.06v5.20M156.32,94.84h5.20M158.92,92.24v5.20M229.64,81.30h5.20M232.24,78.70v5.20M145.65,97.34h5.20M148.25,94.74v5.20M186.55,87.12h5.20M189.15,84.52v5.20M78.70,119.40h5.20M81.30,116.80v5.20M53.05,147.15h5.20M55.65,144.55v5.20M61.85,130.43h5.20M64.45,127.83v5.20M56.86,139.63h5.20M59.46,137.03v5.20M115.24,104.79h5.20M117.84,102.19v5.20M48.46,160.60h5.20M51.06,158.00v5.20M229.13,81.30h5.20M231.73,78.70v5.20M229.37,81.30h5.20M231.97,78.70v5.20M52.00,150.11h5.20M54.60,147.51v5.20M122.91,102.60h5.20M125.51,100.00v5.20M274.93,76.80h5.20M277.53,74.20v5.20M52.12,150.11h5.20M54.72,147.51v5.20M304.47,69.09h5.20M307.07,66.49v5.20M56.16,139.63h5.20M58.76,137.03v5.20M56.97,138.10h5.20M59.57,135.50v5.20M281.57,75.08h5.20M284.17,72.48v5.20M209.14,84.36h5.20M211.74,81.76v5.20M207.92,84.36h5.20M210.52,81.76v5.20M55.07,141.17h5.20M57.67,138.57v5.20M250.76,79.00h5.20M253.36,76.40v5.20M107.48,107.70h5.20M110.08,105.10v5.20M47.45,163.80h5.20M50.05,161.20v5.20M97.66,111.91h5.20M100.26,109.31v5.20M121.87,102.60h5.20M124.47,100.00v5.20M322.15,69.30h5.20M324.75,66.70v5.20M282.93,74.50h5.20M285.53,71.90v5.20M48.67,160.60h5.20M51.27,158.00v5.20M145.76,97.34h5.20M148.36,94.74v5.20M116.41,104.79h5.20M119.01,102.19v5.20M175.78,88.78h5.20M178.38,86.18v5.20M285.14,72.23h5.20M287.74,69.63v5.20M273.29,76.80h5.20M275.89,74.20v5.20M45.71,168.60h5.20M48.31,166.00v5.20M254.77,78.78h5.20M257.37,76.18v5.20M45.88,168.60h5.20M48.48,166.00v5.20M162.49,92.96h5.20M165.09,90.36v5.20M72.17,123.47h5.20M74.77,120.87v5.20M116.68,104.79h5.20M119.28,102.19v5.20M93.97,113.60h5.20M96.57,111.00v5.20M98.70,111.07h5.20M101.30,108.47v5.20M231.09,81.07h5.20M233.69,78.47v5.20M57.56,138.10h5.20M60.16,135.50v5.20M53.45,145.66h5.20M56.05,143.06v5.20M229.48,81.30h5.20M232.08,78.70v5.20M205.81,84.70h5.20M208.41,82.10v5.20M132.45,100.03h5.20M135.05,97.43v5.20M293.48,70.24h5.20M296.08,67.64v5.20M293.34,70.24h5.20M295.94,67.64v5.20M75.86,120.76h5.20M78.46,118.16v5.20M298.95,69.66h5.20M301.55,67.06v5.20M127.22,101.57h5.20M129.82,98.97v5.20M84.62,116.91h5.20M87.22,114.31v5.20M174.83,89.37h5.20M177.43,86.77v5.20M249.50,79.23h5.20M252.10,76.63v5.20M115.62,104.79h5.20M118.22,102.19v5.20M66.64,127.54h5.20M69.24,124.94v5.20M218.03,83.00h5.20M220.63,80.40v5.20M67.89,126.19h5.20M70.49,123.59v5.20M256.13,78.56h5.20M258.73,75.96v5.20M59.34,135.03h5.20M61.94,132.43v5.20M291.56,70.52h5.20M294.16,67.92v5.20M73.86,122.11h5.20M76.46,119.51v5.20M231.87,81.07h5.20M234.47,78.47v5.20M63.13,128.90h5.20M65.73,126.30v5.20M88.51,115.26h5.20M91.11,112.66v5.20M169.47,90.53h5.20M172.07,87.93v5.20M111.17,106.24h5.20M113.77,103.64v5.20M327.97,69.30h5.20M330.57,66.70v5.20M56.90,139.63h5.20M59.50,137.03v5.20M56.33,139.63h5.20M58.93,137.03v5.20M329.69,69.30h5.20M332.29,66.70v5.20M242.24,79.92h5.20M244.84,77.32v5.20M74.56,122.11h5.20M77.16,119.51v5.20M56.16,139.63h5.20M58.76,137.03v5.20M127.53,101.06h5.20M130.13,98.46v5.20M133.28,100.03h5.20M135.88,97.43v5.20M228.83,81.30h5.20M231.43,78.70v5.20M208.32,84.36h5.20M210.92,81.76v5.20M62.41,130.43h5.20M65.01,127.83v5.20M135.26,99.51h5.20M137.86,96.91v5.20M301.05,69.38h5.20M303.65,66.78v5.20M187.48,87.12h5.20M190.08,84.52v5.20M138.36,98.59h5.20M140.96,95.99v5.20M238.73,80.38h5.20M241.33,77.78v5.20M256.40,78.56h5.20M259.00,75.96v5.20M283.02,74.50h5.20M285.62,71.90v5.20M210.57,84.02h5.20M213.17,81.42v5.20M107.91,107.70h5.20M110.51,105.10v5.20M55.39,141.17h5.20M57.99,138.57v5.20M260.95,78.12h5.20M263.55,75.52v5.20M205.57,84.70h5.20M208.17,82.10v5.20M140.92,98.17h5.20M143.52,95.57v5.20M203.75,84.97h5.20M206.35,82.37v5.20M223.00,82.32h5.20M225.60,79.72v5.20M72.51,123.47h5.20M75.11,120.87v5.20M257.96,78.34h5.20M260.56,75.74v5.20M162.86,92.96h5.20M165.46,90.36v5.20M49.25,159.00h5.20M51.85,156.40v5.20M66.52,127.54h5.20M69.12,124.94v5.20M322.55,69.30h5.20M325.15,66.70v5.20M56.52,139.63h5.20M59.12,137.03v5.20M176.82,88.78h5.20M179.42,86.18v5.20M168.39,91.12h5.20M170.99,88.52v5.20M276.36,76.22h5.20M278.96,73.62v5.20M137.78,99.00h5.20M140.38,96.40v5.20M78.83,119.40h5.20M81.43,116.80v5.20M131.13,100.54h5.20M133.73,97.94v5.20M59.85,135.03h5.20M62.45,132.43v5.20M117.15,104.06h5.20M119.75,101.46v5.20M94.92,112.76h5.20M97.52,110.16v5.20M46.97,165.40h5.20M49.57,162.80v5.20M139.34,98.59h5.20M141.94,95.99v5.20M117.58,104.06h5.20M120.18,101.46v5.20M83.12,117.74h5.20M85.72,115.14v5.20M322.75,69.30h5.20M325.35,66.70v5.20M81.16,118.57h5.20M83.76,115.97v5.20M129.99,100.54h5.20M132.59,97.94v5.20M60.63,133.50h5.20M63.23,130.90v5.20M269.81,77.24h5.20M272.41,74.64v5.20M155.74,94.84h5.20M158.34,92.24v5.20M83.58,117.74h5.20M86.18,115.14v5.20M118.36,104.06h5.20M120.96,101.46v5.20M272.48,77.02h5.20M275.08,74.42v5.20M153.10,95.47h5.20M155.70,92.87v5.20M177.67,88.20h5.20M180.27,85.60v5.20M278.26,75.65h5.20M280.86,73.05v5.20M282.40,74.50h5.20M285.00,71.90v5.20M123.81,102.09h5.20M126.41,99.49v5.20M140.36,98.17h5.20M142.96,95.57v5.20M46.01,168.60h5.20M48.61,166.00v5.20M96.68,111.91h5.20M99.28,109.31v5.20M103.43,109.39h5.20M106.03,106.79v5.20M141.30,98.17h5.20M143.90,95.57v5.20M217.17,83.00h5.20M219.77,80.40v5.20M308.77,69.05h5.20M311.37,66.45v5.20M51.19,153.07h5.20M53.79,150.47v5.20M299.59,69.66h5.20M302.19,67.06v5.20M62.64,130.43h5.20M65.24,127.83v5.20M207.30,84.36h5.20M209.90,81.76v5.20M47.27,165.40h5.20M49.87,162.80v5.20M214.65,83.34h5.20M217.25,80.74v5.20M56.10,139.63h5.20M58.70,137.03v5.20M85.28,116.91h5.20M87.88,114.31v5.20M115.26,104.79h5.20M117.86,102.19v5.20M299.60,69.66h5.20M302.20,67.06v5.20M68.83,126.19h5.20M71.43,123.59v5.20M200.29,85.51h5.20M202.89,82.91v5.20M220.65,82.66h5.20M223.25,80.06v5.20M263.50,77.90h5.20M266.10,75.30v5.20M74.67,122.11h5.20M77.27,119.51v5.20M172.73,89.95h5.20M175.33,87.35v5.20M145.98,97.34h5.20M148.58,94.74v5.20M180.08,87.93h5.20M182.68,85.33v5.20M83.95,116.91h5.20M86.55,114.31v5.20M160.95,92.96h5.20M163.55,90.36v5.20M152.79,95.47h5.20M155.39,92.87v5.20M161.87,92.96h5.20M164.47,90.36v5.20M177.12,88.78h5.20M179.72,86.18v5.20M46.64,167.00h5.20M49.24,164.40v5.20M153.66,95.47h5.20M156.26,92.87v5.20M220.53,82.66h5.20M223.13,80.06v5.20M124.16,102.09h5.20M126.76,99.49v5.20M311.05,69.30h5.20M313.65,66.70v5.20M208.71,84.36h5.20M211.31,81.76v5.20M48.78,160.60h5.20M51.38,158.00v5.20M225.27,81.98h5.20M227.87,79.38v5.20M112.82,106.24h5.20M115.42,103.64v5.20M168.07,91.12h5.20M170.67,88.52v5.20M295.63,69.95h5.20M298.23,67.35v5.20M238.15,80.38h5.20M240.75,77.78v5.20M114.65,105.51h5.20M117.25,102.91v5.20M122.19,102.60h5.20M124.79,100.00v5.20M172.79,89.95h5.20M175.39,87.35v5.20M78.31,119.40h5.20M80.91,116.80v5.20M139.04,98.59h5.20M141.64,95.99v5.20M275.84,76.22h5.20M278.44,73.62v5.20M276.09,76.22h5.20M278.69,73.62v5.20M165.56,91.70h5.20M168.16,89.10v5.20M167.01,91.70h5.20M169.61,89.10v5.20M215.88,83.34h5.20M218.48,80.74v5.20M111.43,106.24h5.20M114.03,103.64v5.20M103.65,109.39h5.20M106.25,106.79v5.20M209.05,84.36h5.20M211.65,81.76v5.20M49.78,157.52h5.20M52.38,154.92v5.20M292.26,70.52h5.20M294.86,67.92v5.20M50.50,154.55h5.20M53.10,151.95v5.20M46.27,167.00h5.20M48.87,164.40v5.20M305.97,68.80h5.20M308.57,66.20v5.20M218.14,83.00h5.20M220.74,80.40v5.20M301.46,69.38h5.20M304.06,66.78v5.20M202.08,85.24h5.20M204.68,82.64v5.20M229.05,81.30h5.20M231.65,78.70v5.20M223.64,81.98h5.20M226.24,79.38v5.20M219.66,82.66h5.20M222.26,80.06v5.20M252.79,78.78h5.20M255.39,76.18v5.20M69.13,124.83h5.20M71.73,122.23v5.20M259.15,78.34h5.20M261.75,75.74v5.20M214.92,83.34h5.20M217.52,80.74v5.20M274.69,76.80h5.20M277.29,74.20v5.20M182.19,87.66h5.20M184.79,85.06v5.20M103.31,109.39h5.20M105.91,106.79v5.20M107.50,107.70h5.20M110.10,105.10v5.20M211.66,84.02h5.20M214.26,81.42v5.20M51.08,153.07h5.20M53.68,150.47v5.20M49.51,157.52h5.20M52.11,154.92v5.20M269.68,77.24h5.20M272.28,74.64v5.20M303.35,69.09h5.20M305.95,66.49v5.20M46.95,165.40h5.20M49.55,162.80v5.20M194.25,86.32h5.20M196.85,83.72v5.20M321.41,69.30h5.20M324.01,66.70v5.20M136.01,99.00h5.20M138.61,96.40v5.20M212.29,83.68h5.20M214.89,81.08v5.20M62.83,128.90h5.20M65.43,126.30v5.20M45.99,168.60h5.20M48.59,166.00v5.20M59.83,135.03h5.20M62.43,132.43v5.20M54.85,142.70h5.20M57.45,140.10v5.20M59.88,133.50h5.20M62.48,130.90v5.20M237.29,80.38h5.20M239.89,77.78v5.20M241.68,79.92h5.20M244.28,77.32v5.20M50.72,154.55h5.20M53.32,151.95v5.20M236.41,80.61h5.20M239.01,78.01v5.20M241.45,79.92h5.20M244.05,77.32v5.20M206.61,84.70h5.20M209.21,82.10v5.20M152.34,96.10h5.20M154.94,93.50v5.20M91.93,114.43h5.20M94.53,111.83v5.20M236.77,80.38h5.20M239.37,77.78v5.20M47.10,165.40h5.20M49.70,162.80v5.20M270.82,77.02h5.20M273.42,74.42v5.20M106.04,108.54h5.20M108.64,105.94v5.20M68.77,126.19h5.20M71.37,123.59v5.20M158.87,93.59h5.20M161.47,90.99v5.20M122.40,102.60h5.20M125.00,100.00v5.20M145.55,97.34h5.20M148.15,94.74v5.20M62.60,130.43h5.20M65.20,127.83v5.20M120.46,103.33h5.20M123.06,100.73v5.20M205.95,84.70h5.20M208.55,82.10v5.20M129.10,101.06h5.20M131.70,98.46v5.20M329.42,69.30h5.20M332.02,66.70v5.20M184.39,87.39h5.20M186.99,84.79v5.20M51.72,151.59h5.20M54.32,148.99v5.20M231.83,81.07h5.20M234.43,78.47v5.20M112.04,106.24h5.20M114.64,103.64v5.20M330.63,69.30h5.20M333.23,66.70v5.20M197.16,85.78h5.20M199.76,83.18v5.20M141.82,98.17h5.20M144.42,95.57v5.20M124.71,102.09h5.20M127.31,99.49v5.20M198.41,85.78h5.20M201.01,83.18v5.20M269.02,77.24h5.20M271.62,74.64v5.20M45.75,168.60h5.20M48.35,166.00v5.20M139.11,98.59h5.20M141.71,95.99v5.20M272.65,77.02h5.20M275.25,74.42v5.20M49.83,157.52h5.20M52.43,154.92v5.20M270.34,77.24h5.20M272.94,74.64v5.20M186.47,87.12h5.20M189.07,84.52v5.20M283.21,74.50h5.20M285.81,71.90v5.20M227.50,81.64h5.20M230.10,79.04v5.20" fill="none" stroke="#79AF97" stroke-width="1.3"/>
<path d="M48.20,168.60H48.62V167.09H49.05V165.57H49.48V164.06H49.90V162.55H50.33V161.04H50.75V159.53H51.18V158.01H51.60V156.50H52.02V155.03H52.43V153.57H52.85V152.10H53.27V150.63H53.68V149.17H54.10V147.70H54.73V146.14H55.35V144.57H55.98V143.01H56.60V141.45H57.23V139.89H57.85V138.32H58.48V136.76H59.10V135.20H60.17V133.76H61.24V132.31H62.31V130.87H63.39V129.43H64.46V127.99H65.53V126.54H66.60V125.10H67.55V123.69H68.50V122.27H69.45V120.86H70.40V119.45H71.35V118.04H72.30V116.62H73.25V115.21H74.20V113.80H76.13V112.27H78.07V110.73H80.00V109.20H80.72V107.74H81.45V106.28H82.17V104.81H82.90V103.35H83.62V101.89H84.35V100.42H85.08V98.96H85.80V97.50L103.40,97.50H104.23V96.04H105.06V94.59H105.89V93.13H106.71V91.67H107.54V90.21H108.37V88.76H109.20V87.30H110.23V86.13H111.27V84.97H112.30V83.80H114.47V82.42H116.65V81.05H118.83V79.67H121.00V78.30L132.00,78.30H133.43V77.20H134.87V76.10H136.30V75.00H137.95V73.65H139.60V72.30H141.25V70.95H142.90V69.60H144.00V68.30H145.10V67.00H146.20V65.70H147.30V64.40L189.50,64.40L189.50,58.70L200.80,58.70L200.80,53.90L337.60,53.90" fill="none" stroke="#6A6599" stroke-width="1.5"/>
<path d="M104.18,91.67h5.20M106.78,89.07v5.20M178.35,64.40h5.20M180.95,61.80v5.20M71.36,115.21h5.20M73.96,112.61v5.20M230.22,53.90h5.20M232.82,51.30v5.20M173.30,64.40h5.20M175.90,61.80v5.20M134.04,75.00h5.20M136.64,72.40v5.20M80.84,103.35h5.20M83.44,100.75v5.20M261.09,53.90h5.20M263.69,51.30v5.20M53.88,143.01h5.20M56.48,140.41v5.20M230.06,53.90h5.20M232.66,51.30v5.20M182.55,64.40h5.20M185.15,61.80v5.20M269.59,53.90h5.20M272.19,51.30v5.20M136.32,73.65h5.20M138.92,71.05v5.20M68.93,118.04h5.20M71.53,115.44v5.20M67.52,120.86h5.20M70.12,118.26v5.20M107.18,87.30h5.20M109.78,84.70v5.20M115.17,81.05h5.20M117.77,78.45v5.20M61.90,127.99h5.20M64.50,125.39v5.20M249.37,53.90h5.20M251.97,51.30v5.20M55.65,138.32h5.20M58.25,135.72v5.20M219.56,53.90h5.20M222.16,51.30v5.20M159.26,64.40h5.20M161.86,61.80v5.20M145.57,64.40h5.20M148.17,61.80v5.20M48.57,159.53h5.20M51.17,156.93v5.20M264.73,53.90h5.20M267.33,51.30v5.20M155.74,64.40h5.20M158.34,61.80v5.20M256.47,53.90h5.20M259.07,51.30v5.20M303.16,53.90h5.20M305.76,51.30v5.20M330.00,53.90h5.20M332.60,51.30v5.20M80.33,103.35h5.20M82.93,100.75v5.20M70.82,115.21h5.20M73.42,112.61v5.20M52.78,144.57h5.20M55.38,141.97v5.20M181.44,64.40h5.20M184.04,61.80v5.20M133.62,76.10h5.20M136.22,73.50v5.20M206.98,53.90h5.20M209.58,51.30v5.20M161.47,64.40h5.20M164.07,61.80v5.20M58.60,133.76h5.20M61.20,131.16v5.20M80.71,103.35h5.20M83.31,100.75v5.20M197.71,58.70h5.20M200.31,56.10v5.20M251.98,53.90h5.20M254.58,51.30v5.20M129.63,78.30h5.20M132.23,75.70v5.20M333.87,53.90h5.20M336.47,51.30v5.20M73.61,112.27h5.20M76.21,109.67v5.20M80.56,103.35h5.20M83.16,100.75v5.20M321.95,53.90h5.20M324.55,51.30v5.20M204.64,53.90h5.20M207.24,51.30v5.20M295.27,53.90h5.20M297.87,51.30v5.20M198.04,58.70h5.20M200.64,56.10v5.20M50.31,152.10h5.20M52.91,149.50v5.20M326.71,53.90h5.20M329.31,51.30v5.20M239.07,53.90h5.20M241.67,51.30v5.20M176.68,64.40h5.20M179.28,61.80v5.20M55.45,138.32h5.20M58.05,135.72v5.20M80.39,103.35h5.20M82.99,100.75v5.20M137.28,72.30h5.20M139.88,69.70v5.20M78.23,107.74h5.20M80.83,105.14v5.20M199.93,53.90h5.20M202.53,51.30v5.20M224.89,53.90h5.20M227.49,51.30v5.20M48.97,158.01h5.20M51.57,155.41v5.20M75.34,112.27h5.20M77.94,109.67v5.20" fill="none" stroke="#6A6599" stroke-width="1.3"/>
<path d="M48.20,168.60H49.17V167.17H50.13V165.73H51.10V164.30H52.07V162.87H53.03V161.43H54.00V160.00H55.02V158.54H56.04V157.08H57.06V155.62H58.08V154.16H59.10V152.70H60.05V151.45H61.00V150.20H61.95V148.95H62.90V147.70H65.10V147.55H67.30V147.40H69.50V147.25H71.70V147.10H73.78V146.57H75.87V146.03H77.95V145.50H80.03V144.97H82.12V144.43H84.20V143.90H86.10V142.65H88.00V141.40H89.90V140.15H91.80V138.90H93.88V138.80H95.97V138.70H98.05V138.60H100.13V138.50H102.22V138.40H104.30V138.30H106.54V138.21H108.79V138.13H111.03V138.04H113.27V137.96H115.51V137.87H117.76V137.79H120.00V137.70H122.27V137.59H124.54V137.48H126.81V137.38H129.08V137.27H131.35V137.16H133.62V137.05H135.88V136.95H138.15V136.84H140.42V136.73H142.69V136.62H144.96V136.52H147.23V136.41H149.50V136.30H151.69V135.68H153.88V135.05H156.07V134.43H158.27V133.80H160.46V133.18H162.65V132.55H164.84V131.93H167.03V131.30H169.23V130.68H171.42V130.05H173.61V129.43H175.80V128.80L194.00,128.80H194.68V127.44H195.36V126.08H196.04V124.72H196.72V123.36H197.40V122.00L224.60,122.00H225.28V120.64H225.96V119.28H226.64V117.92H227.32V116.56H228.00V115.20H228.28V113.80H228.55V112.40H228.82V111.00H229.10V109.60L337.60,109.60" fill="none" stroke="#80796B" stroke-width="1.5"/>
<path d="M322.92,109.60h5.20M325.52,107.00v5.20M72.12,146.57h5.20M74.72,143.97v5.20M60.23,148.95h5.20M62.83,146.35v5.20M294.68,109.60h5.20M297.28,107.00v5.20M165.18,131.30h5.20M167.78,128.70v5.20M278.31,109.60h5.20M280.91,107.00v5.20M198.68,122.00h5.20M201.28,119.40v5.20M91.40,138.80h5.20M94.00,136.20v5.20M286.54,109.60h5.20M289.14,107.00v5.20M75.08,146.03h5.20M77.68,143.43v5.20M107.11,138.13h5.20M109.71,135.53v5.20M75.91,145.50h5.20M78.51,142.90v5.20M262.79,109.60h5.20M265.39,107.00v5.20M80.54,144.43h5.20M83.14,141.83v5.20M126.26,137.38h5.20M128.86,134.78v5.20M64.65,147.55h5.20M67.25,144.95v5.20M54.35,157.08h5.20M56.95,154.48v5.20M224.86,116.56h5.20M227.46,113.96v5.20M171.64,129.43h5.20M174.24,126.83v5.20M104.40,138.21h5.20M107.00,135.61v5.20M142.34,136.62h5.20M144.94,134.02v5.20M326.87,109.60h5.20M329.47,107.00v5.20M59.62,148.95h5.20M62.22,146.35v5.20M232.74,109.60h5.20M235.34,107.00v5.20M258.35,109.60h5.20M260.95,107.00v5.20M228.24,109.60h5.20M230.84,107.00v5.20M263.49,109.60h5.20M266.09,107.00v5.20M71.19,146.57h5.20M73.79,143.97v5.20M283.63,109.60h5.20M286.23,107.00v5.20M84.33,142.65h5.20M86.93,140.05v5.20M250.18,109.60h5.20M252.78,107.00v5.20M198.56,122.00h5.20M201.16,119.40v5.20M83.06,143.90h5.20M85.66,141.30v5.20M247.84,109.60h5.20M250.44,107.00v5.20M56.58,152.70h5.20M59.18,150.10v5.20M208.28,122.00h5.20M210.88,119.40v5.20M108.89,138.04h5.20M111.49,135.44v5.20M214.05,122.00h5.20M216.65,119.40v5.20M289.75,109.60h5.20M292.35,107.00v5.20M87.42,140.15h5.20M90.02,137.55v5.20M270.78,109.60h5.20M273.38,107.00v5.20M232.51,109.60h5.20M235.11,107.00v5.20M262.87,109.60h5.20M265.47,107.00v5.20M320.30,109.60h5.20M322.90,107.00v5.20M173.48,128.80h5.20M176.08,126.20v5.20M278.21,109.60h5.20M280.81,107.00v5.20M255.39,109.60h5.20M257.99,107.00v5.20M85.08,142.65h5.20M87.68,140.05v5.20M140.46,136.62h5.20M143.06,134.02v5.20M143.71,136.52h5.20M146.31,133.92v5.20" fill="none" stroke="#80796B" stroke-width="1.3"/>
<path d="M392.50,168.40H393.11V166.91H393.72V165.42H394.33V163.93H394.94V162.44H395.56V160.96H396.17V159.47H396.78V157.98H397.39V156.49H398.00V155.00H398.92V153.40H399.83V151.80H400.75V150.20H401.67V148.60H402.58V147.00H403.50V145.40H404.67V143.90H405.84V142.40H407.01V140.90H408.19V139.40H409.36V137.90H410.53V136.40H411.70V134.90H414.04V134.20H416.38V133.50H418.72V132.80H421.06V132.10H423.40V131.40H425.72V130.70H428.04V130.00H430.36V129.30H432.68V128.60H435.00V127.90H437.34V126.72H439.68V125.54H442.02V124.36H444.36V123.18H446.70V122.00H449.04V120.84H451.38V119.68H453.72V118.52H456.06V117.36H458.40V116.20H460.74V114.80H463.08V113.40H465.42V112.00H467.76V110.60H470.10V109.20H472.33V109.03H474.57V108.87H476.80V108.70H479.03V108.53H481.27V108.37H483.50V108.20H485.69V107.82H487.88V107.44H490.07V107.06H492.26V106.68H494.45V106.30H496.64V105.92H498.83V105.54H501.02V105.16H503.21V104.78H505.40V104.40H507.64V103.93H509.87V103.45H512.11V102.98H514.35V102.51H516.58V102.04H518.82V101.56H521.05V101.09H523.29V100.62H525.53V100.15H527.76V99.67H530.00V99.20H532.26V98.63H534.52V98.06H536.78V97.49H539.04V96.92H541.30V96.35H543.56V95.78H545.82V95.21H548.08V94.64H550.34V94.07H552.60V93.50H554.87V92.94H557.14V92.38H559.41V91.82H561.68V91.26H563.95V90.70H566.22V90.14H568.49V89.58H570.76V89.02H573.03V88.46H575.30V87.90H577.56V87.67H579.82V87.44H582.08V87.21H584.34V86.98H586.60V86.75H588.86V86.52H591.12V86.29H593.38V86.06H595.64V85.83H597.90V85.60H600.16V85.38H602.42V85.16H604.68V84.94H606.94V84.72H609.20V84.50H611.46V84.28H613.72V84.06H615.98V83.84H618.24V83.62H620.50V83.40H622.76V83.17H625.02V82.94H627.28V82.71H629.54V82.48H631.80V82.25H634.06V82.02H636.32V81.79H638.58V81.56H640.84V81.33H643.10V81.10H645.37V80.99H647.64V80.88H649.91V80.77H652.18V80.66H654.45V80.55H656.72V80.44H658.99V80.33H661.26V80.22H663.53V80.11H665.80V80.00H668.05V78.85H670.30V77.70H672.55V76.55H674.80V75.40L682.60,75.40" fill="none" stroke="#374E55" stroke-width="1.5"/>
<path d="M390.22,168.40h5.20M392.82,165.80v5.20M497.36,105.54h5.20M499.96,102.94v5.20M406.42,139.40h5.20M409.02,136.80v5.20M617.60,83.62h5.20M620.20,81.02v5.20M459.80,114.80h5.20M462.40,112.20v5.20M475.88,108.70h5.20M478.48,106.10v5.20M397.12,153.40h5.20M399.72,150.80v5.20M666.56,78.85h5.20M669.16,76.25v5.20M519.64,101.09h5.20M522.24,98.49v5.20M525.21,99.67h5.20M527.81,97.07v5.20M668.20,77.70h5.20M670.80,75.10v5.20M421.04,131.40h5.20M423.64,128.80v5.20M441.33,124.36h5.20M443.93,121.76v5.20M393.01,160.96h5.20M395.61,158.36v5.20M575.40,87.67h5.20M578.00,85.07v5.20M392.10,163.93h5.20M394.70,161.33v5.20M539.88,96.35h5.20M542.48,93.75v5.20M577.45,87.44h5.20M580.05,84.84v5.20M637.60,81.56h5.20M640.20,78.96v5.20M394.86,156.49h5.20M397.46,153.89v5.20M512.87,102.51h5.20M515.47,99.91v5.20M446.73,120.84h5.20M449.33,118.24v5.20M483.39,107.82h5.20M485.99,105.22v5.20M545.17,95.21h5.20M547.77,92.61v5.20M412.78,134.20h5.20M415.38,131.60v5.20M593.41,85.83h5.20M596.01,83.23v5.20M622.28,83.17h5.20M624.88,80.57v5.20M479.61,108.37h5.20M482.21,105.77v5.20M625.87,82.71h5.20M628.47,80.11v5.20M482.96,108.20h5.20M485.56,105.60v5.20M602.85,84.94h5.20M605.45,82.34v5.20M437.86,125.54h5.20M440.46,122.94v5.20M496.19,105.92h5.20M498.79,103.32v5.20M615.44,83.84h5.20M618.04,81.24v5.20M617.56,83.62h5.20M620.16,81.02v5.20M395.87,155.00h5.20M398.47,152.40v5.20M667.55,78.85h5.20M670.15,76.25v5.20M440.41,124.36h5.20M443.01,121.76v5.20M555.37,92.38h5.20M557.97,89.78v5.20M523.08,100.15h5.20M525.68,97.55v5.20M492.96,106.30h5.20M495.56,103.70v5.20M391.82,163.93h5.20M394.42,161.33v5.20M669.45,77.70h5.20M672.05,75.10v5.20M660.10,80.22h5.20M662.70,77.62v5.20M615.38,83.84h5.20M617.98,81.24v5.20M640.58,81.10h5.20M643.18,78.50v5.20M557.41,91.82h5.20M560.01,89.22v5.20M568.78,89.02h5.20M571.38,86.42v5.20M529.49,99.20h5.20M532.09,96.60v5.20M552.84,92.94h5.20M555.44,90.34v5.20M521.66,100.62h5.20M524.26,98.02v5.20M663.85,80.00h5.20M666.45,77.40v5.20M454.98,117.36h5.20M457.58,114.76v5.20M406.28,139.40h5.20M408.88,136.80v5.20M666.61,78.85h5.20M669.21,76.25v5.20M445.19,122.00h5.20M447.79,119.40v5.20M525.50,99.67h5.20M528.10,97.07v5.20M406.91,137.90h5.20M409.51,135.30v5.20M452.07,118.52h5.20M454.67,115.92v5.20M449.35,119.68h5.20M451.95,117.08v5.20M400.48,147.00h5.20M403.08,144.40v5.20M626.06,82.71h5.20M628.66,80.11v5.20M537.91,96.92h5.20M540.51,94.32v5.20M429.41,129.30h5.20M432.01,126.70v5.20M501.81,104.78h5.20M504.41,102.18v5.20M548.80,94.07h5.20M551.40,91.47v5.20M456.37,116.20h5.20M458.97,113.60v5.20M433.60,127.90h5.20M436.20,125.30v5.20M477.74,108.53h5.20M480.34,105.93v5.20M391.34,165.42h5.20M393.94,162.82v5.20M632.00,82.02h5.20M634.60,79.42v5.20M533.03,98.06h5.20M535.63,95.46v5.20M451.09,119.68h5.20M453.69,117.08v5.20M452.93,118.52h5.20M455.53,115.92v5.20M413.94,133.50h5.20M416.54,130.90v5.20M636.97,81.56h5.20M639.57,78.96v5.20M396.67,153.40h5.20M399.27,150.80v5.20M495.65,105.92h5.20M498.25,103.32v5.20M403.51,142.40h5.20M406.11,139.80v5.20M667.11,78.85h5.20M669.71,76.25v5.20M414.57,133.50h5.20M417.17,130.90v5.20M466.74,110.60h5.20M469.34,108.00v5.20M551.93,93.50h5.20M554.53,90.90v5.20M619.07,83.40h5.20M621.67,80.80v5.20M590.20,86.29h5.20M592.80,83.69v5.20M598.63,85.38h5.20M601.23,82.78v5.20M608.20,84.50h5.20M610.80,81.90v5.20M652.14,80.55h5.20M654.74,77.95v5.20M635.99,81.56h5.20M638.59,78.96v5.20M601.14,85.16h5.20M603.74,82.56v5.20M516.13,102.04h5.20M518.73,99.44v5.20M537.38,96.92h5.20M539.98,94.32v5.20M606.31,84.72h5.20M608.91,82.12v5.20M548.60,94.07h5.20M551.20,91.47v5.20M499.42,105.16h5.20M502.02,102.56v5.20M584.66,86.75h5.20M587.26,84.15v5.20M479.91,108.37h5.20M482.51,105.77v5.20M477.15,108.53h5.20M479.75,105.93v5.20M608.52,84.50h5.20M611.12,81.90v5.20M514.97,102.04h5.20M517.57,99.44v5.20M421.51,131.40h5.20M424.11,128.80v5.20M410.45,134.90h5.20M413.05,132.30v5.20M538.90,96.35h5.20M541.50,93.75v5.20M654.86,80.44h5.20M657.46,77.84v5.20M628.83,82.48h5.20M631.43,79.88v5.20M665.91,78.85h5.20M668.51,76.25v5.20M491.65,106.68h5.20M494.25,104.08v5.20M390.54,166.91h5.20M393.14,164.31v5.20M535.30,97.49h5.20M537.90,94.89v5.20M655.88,80.44h5.20M658.48,77.84v5.20M527.40,99.67h5.20M530.00,97.07v5.20M519.61,101.09h5.20M522.21,98.49v5.20M571.31,88.46h5.20M573.91,85.86v5.20M468.83,109.20h5.20M471.43,106.60v5.20M467.38,110.60h5.20M469.98,108.00v5.20M569.35,89.02h5.20M571.95,86.42v5.20M402.51,143.90h5.20M405.11,141.30v5.20M482.13,108.20h5.20M484.73,105.60v5.20M538.43,96.92h5.20M541.03,94.32v5.20M668.80,77.70h5.20M671.40,75.10v5.20M495.41,105.92h5.20M498.01,103.32v5.20M674.88,75.40h5.20M677.48,72.80v5.20M524.75,100.15h5.20M527.35,97.55v5.20M419.20,132.10h5.20M421.80,129.50v5.20M671.81,76.55h5.20M674.41,73.95v5.20M518.70,101.09h5.20M521.30,98.49v5.20M646.61,80.88h5.20M649.21,78.28v5.20M620.14,83.40h5.20M622.74,80.80v5.20M641.46,81.10h5.20M644.06,78.50v5.20M414.46,133.50h5.20M417.06,130.90v5.20M519.58,101.09h5.20M522.18,98.49v5.20M423.54,130.70h5.20M426.14,128.10v5.20M555.91,92.38h5.20M558.51,89.78v5.20M467.49,110.60h5.20M470.09,108.00v5.20M556.91,91.82h5.20M559.51,89.22v5.20M487.00,107.44h5.20M489.60,104.84v5.20M455.08,117.36h5.20M457.68,114.76v5.20M390.09,168.40h5.20M392.69,165.80v5.20M626.00,82.71h5.20M628.60,80.11v5.20M566.34,89.58h5.20M568.94,86.98v5.20M515.22,102.04h5.20M517.82,99.44v5.20M445.61,122.00h5.20M448.21,119.40v5.20M525.16,100.15h5.20M527.76,97.55v5.20M537.37,96.92h5.20M539.97,94.32v5.20M405.77,139.40h5.20M408.37,136.80v5.20M597.80,85.38h5.20M600.40,82.78v5.20M402.27,143.90h5.20M404.87,141.30v5.20M522.53,100.62h5.20M525.13,98.02v5.20M549.56,94.07h5.20M552.16,91.47v5.20M396.33,153.40h5.20M398.93,150.80v5.20M600.55,85.16h5.20M603.15,82.56v5.20M582.54,86.98h5.20M585.14,84.38v5.20M419.08,132.10h5.20M421.68,129.50v5.20M403.13,143.90h5.20M405.73,141.30v5.20M539.49,96.35h5.20M542.09,93.75v5.20M499.26,105.16h5.20M501.86,102.56v5.20M396.22,155.00h5.20M398.82,152.40v5.20M540.87,96.35h5.20M543.47,93.75v5.20M495.40,105.92h5.20M498.00,103.32v5.20M439.52,124.36h5.20M442.12,121.76v5.20M658.33,80.33h5.20M660.93,77.73v5.20M457.90,116.20h5.20M460.50,113.60v5.20M616.33,83.62h5.20M618.93,81.02v5.20M547.65,94.64h5.20M550.25,92.04v5.20M513.87,102.51h5.20M516.47,99.91v5.20M437.99,125.54h5.20M440.59,122.94v5.20M582.24,86.98h5.20M584.84,84.38v5.20M457.85,116.20h5.20M460.45,113.60v5.20M511.28,102.98h5.20M513.88,100.38v5.20M437.49,125.54h5.20M440.09,122.94v5.20M467.92,109.20h5.20M470.52,106.60v5.20M670.60,76.55h5.20M673.20,73.95v5.20M532.18,98.06h5.20M534.78,95.46v5.20M526.03,99.67h5.20M528.63,97.07v5.20M483.23,107.82h5.20M485.83,105.22v5.20M406.55,139.40h5.20M409.15,136.80v5.20M465.73,110.60h5.20M468.33,108.00v5.20M423.78,130.70h5.20M426.38,128.10v5.20M437.16,125.54h5.20M439.76,122.94v5.20M564.40,90.14h5.20M567.00,87.54v5.20M415.43,133.50h5.20M418.03,130.90v5.20M401.22,145.40h5.20M403.82,142.80v5.20M622.71,82.94h5.20M625.31,80.34v5.20M498.06,105.54h5.20M500.66,102.94v5.20M613.74,83.84h5.20M616.34,81.24v5.20M466.85,110.60h5.20M469.45,108.00v5.20M476.34,108.70h5.20M478.94,106.10v5.20M429.97,129.30h5.20M432.57,126.70v5.20M516.73,101.56h5.20M519.33,98.96v5.20M498.71,105.16h5.20M501.31,102.56v5.20M577.81,87.44h5.20M580.41,84.84v5.20M646.37,80.88h5.20M648.97,78.28v5.20M470.28,109.03h5.20M472.88,106.43v5.20M548.22,94.07h5.20M550.82,91.47v5.20M636.26,81.56h5.20M638.86,78.96v5.20M519.67,101.09h5.20M522.27,98.49v5.20M445.91,122.00h5.20M448.51,119.40v5.20M477.90,108.53h5.20M480.50,105.93v5.20M534.88,97.49h5.20M537.48,94.89v5.20M478.86,108.37h5.20M481.46,105.77v5.20M420.45,132.10h5.20M423.05,129.50v5.20M459.69,114.80h5.20M462.29,112.20v5.20M403.90,142.40h5.20M406.50,139.80v5.20M468.62,109.20h5.20M471.22,106.60v5.20M451.27,118.52h5.20M453.87,115.92v5.20M456.33,116.20h5.20M458.93,113.60v5.20M407.60,137.90h5.20M410.20,135.30v5.20M449.72,119.68h5.20M452.32,117.08v5.20M651.34,80.66h5.20M653.94,78.06v5.20M642.46,81.10h5.20M645.06,78.50v5.20M408.25,136.40h5.20M410.85,133.80v5.20M393.37,160.96h5.20M395.97,158.36v5.20M564.42,90.14h5.20M567.02,87.54v5.20M486.72,107.44h5.20M489.32,104.84v5.20M575.52,87.67h5.20M578.12,85.07v5.20M627.74,82.48h5.20M630.34,79.88v5.20M554.95,92.38h5.20M557.55,89.78v5.20M405.48,140.90h5.20M408.08,138.30v5.20M590.13,86.29h5.20M592.73,83.69v5.20M394.20,157.98h5.20M396.80,155.38v5.20M416.58,132.80h5.20M419.18,130.20v5.20M454.35,117.36h5.20M456.95,114.76v5.20M394.37,157.98h5.20M396.97,155.38v5.20M557.22,91.82h5.20M559.82,89.22v5.20M625.97,82.71h5.20M628.57,80.11v5.20M582.32,86.98h5.20M584.92,84.38v5.20M495.54,105.92h5.20M498.14,103.32v5.20M465.16,110.60h5.20M467.76,108.00v5.20M624.17,82.94h5.20M626.77,80.34v5.20M448.88,119.68h5.20M451.48,117.08v5.20M630.57,82.25h5.20M633.17,79.65v5.20M394.94,156.49h5.20M397.54,153.89v5.20M405.34,140.90h5.20M407.94,138.30v5.20M432.20,128.60h5.20M434.80,126.00v5.20M593.23,85.83h5.20M595.83,83.23v5.20M575.85,87.67h5.20M578.45,85.07v5.20M594.91,85.83h5.20M597.51,83.23v5.20M448.99,119.68h5.20M451.59,117.08v5.20M664.15,80.00h5.20M666.75,77.40v5.20M657.96,80.33h5.20M660.56,77.73v5.20M590.40,86.29h5.20M593.00,83.69v5.20M553.30,92.94h5.20M555.90,90.34v5.20M396.04,155.00h5.20M398.64,152.40v5.20M492.97,106.30h5.20M495.57,103.70v5.20M656.68,80.33h5.20M659.28,77.73v5.20M597.66,85.38h5.20M600.26,82.78v5.20M579.04,87.44h5.20M581.64,84.84v5.20M443.04,123.18h5.20M445.64,120.58v5.20M669.13,77.70h5.20M671.73,75.10v5.20M527.96,99.20h5.20M530.56,96.60v5.20M396.64,153.40h5.20M399.24,150.80v5.20M485.72,107.44h5.20M488.32,104.84v5.20M456.12,116.20h5.20M458.72,113.60v5.20M580.99,87.21h5.20M583.59,84.61v5.20M437.65,125.54h5.20M440.25,122.94v5.20M519.45,101.09h5.20M522.05,98.49v5.20M659.46,80.22h5.20M662.06,77.62v5.20M455.53,117.36h5.20M458.13,114.76v5.20M410.42,134.90h5.20M413.02,132.30v5.20M462.39,113.40h5.20M464.99,110.80v5.20M531.38,98.63h5.20M533.98,96.03v5.20M417.68,132.80h5.20M420.28,130.20v5.20M546.52,94.64h5.20M549.12,92.04v5.20M601.70,85.16h5.20M604.30,82.56v5.20M404.75,140.90h5.20M407.35,138.30v5.20M467.96,109.20h5.20M470.56,106.60v5.20M396.57,153.40h5.20M399.17,150.80v5.20M427.07,130.00h5.20M429.67,127.40v5.20M496.48,105.54h5.20M499.08,102.94v5.20M459.24,114.80h5.20M461.84,112.20v5.20M467.88,109.20h5.20M470.48,106.60v5.20M398.16,150.20h5.20M400.76,147.60v5.20M678.05,75.40h5.20M680.65,72.80v5.20M400.64,147.00h5.20M403.24,144.40v5.20M676.60,75.40h5.20M679.20,72.80v5.20M403.82,142.40h5.20M406.42,139.80v5.20M492.27,106.30h5.20M494.87,103.70v5.20M527.42,99.20h5.20M530.02,96.60v5.20M655.58,80.44h5.20M658.18,77.84v5.20M554.39,92.94h5.20M556.99,90.34v5.20" fill="none" stroke="#374E55" stroke-width="1.3"/>
<path d="M392.50,168.40H393.00V166.91H393.50V165.42H394.00V163.93H394.50V162.44H395.00V160.95H395.50V159.45H396.00V157.96H396.50V156.47H397.00V154.98H397.50V153.49H398.00V152.00H398.71V150.45H399.42V148.89H400.13V147.34H400.84V145.78H401.55V144.23H402.25V142.67H402.96V141.12H403.67V139.56H404.38V138.01H405.09V136.45H405.80V134.90H407.27V133.43H408.75V131.95H410.23V130.47H411.70V129.00H413.65V127.65H415.60V126.30H417.55V124.95H419.50V123.60H421.45V122.25H423.40V120.90H425.33V119.53H427.27V118.17H429.20V116.80H431.13V115.43H433.07V114.07H435.00V112.70H436.17V111.33H437.33V109.97H438.50V108.60H439.67V107.23H440.83V105.87H442.00V104.50H444.12V103.68H446.24V102.86H448.36V102.04H450.48V101.22H452.60V100.40H454.92V99.60H457.24V98.80H459.56V98.00H461.88V97.20H464.20V96.40H466.46V95.64H468.71V94.89H470.97V94.13H473.23V93.37H475.49V92.61H477.74V91.86H480.00V91.10H482.12V90.57H484.23V90.03H486.35V89.50H488.47V88.97H490.58V88.43H492.70V87.90H494.82V87.37H496.93V86.83H499.05V86.30H501.17V85.77H503.28V85.23H505.40V84.70H507.64V84.27H509.87V83.85H512.11V83.42H514.35V82.99H516.58V82.56H518.82V82.14H521.05V81.71H523.29V81.28H525.53V80.85H527.76V80.43H530.00V80.00H532.26V79.54H534.52V79.08H536.78V78.62H539.04V78.16H541.30V77.70H543.56V77.24H545.82V76.78H548.08V76.32H550.34V75.86H552.60V75.40H554.87V75.06H557.14V74.72H559.41V74.38H561.68V74.04H563.95V73.70H566.22V73.36H568.49V73.02H570.76V72.68H573.03V72.34H575.30V72.00H577.56V71.67H579.82V71.34H582.08V71.01H584.34V70.68H586.60V70.35H588.86V70.02H591.12V69.69H593.38V69.36H595.64V69.03H597.90V68.70H600.17V68.32H602.43V67.93H604.70V67.55H606.97V67.17H609.23V66.78H611.50V66.40H613.75V65.25H616.00V64.10H618.27V63.86H620.53V63.61H622.80V63.37H625.07V63.12H627.33V62.88H629.60V62.63H631.87V62.39H634.13V62.14H636.40V61.90H638.66V61.48H640.93V61.06H643.19V60.65H645.45V60.23H647.72V59.81H649.98V59.39H652.25V58.97H654.51V58.55H656.77V58.14H659.04V57.72H661.30V57.30H663.55V56.20H665.80V55.10L682.60,55.10" fill="none" stroke="#DF8F44" stroke-width="1.5"/>
<path d="M557.38,74.38h5.20M559.98,71.78v5.20M432.56,112.70h5.20M435.16,110.10v5.20M392.79,160.95h5.20M395.39,158.35v5.20M623.14,63.12h5.20M625.74,60.52v5.20M418.14,123.60h5.20M420.74,121.00v5.20M626.83,62.88h5.20M629.43,60.28v5.20M414.53,126.30h5.20M417.13,123.70v5.20M619.62,63.61h5.20M622.22,61.01v5.20M452.75,99.60h5.20M455.35,97.00v5.20M618.66,63.61h5.20M621.26,61.01v5.20M465.10,95.64h5.20M467.70,93.04v5.20M465.73,95.64h5.20M468.33,93.04v5.20M430.55,114.07h5.20M433.15,111.47v5.20M531.08,79.54h5.20M533.68,76.94v5.20M617.27,63.86h5.20M619.87,61.26v5.20M647.26,59.81h5.20M649.86,57.21v5.20M506.15,84.27h5.20M508.75,81.67v5.20M411.63,127.65h5.20M414.23,125.05v5.20M534.36,78.62h5.20M536.96,76.02v5.20M570.80,72.34h5.20M573.40,69.74v5.20M490.04,88.43h5.20M492.64,85.83v5.20M399.68,142.67h5.20M402.28,140.07v5.20M486.27,88.97h5.20M488.87,86.37v5.20M581.75,70.68h5.20M584.35,68.08v5.20M624.41,63.12h5.20M627.01,60.52v5.20M605.33,67.17h5.20M607.93,64.57v5.20M440.80,104.50h5.20M443.40,101.90v5.20M512.69,82.99h5.20M515.29,80.39v5.20M455.66,98.80h5.20M458.26,96.20v5.20M563.23,73.70h5.20M565.83,71.10v5.20M645.49,59.81h5.20M648.09,57.21v5.20M444.58,102.86h5.20M447.18,100.26v5.20M528.19,80.00h5.20M530.79,77.40v5.20M420.96,120.90h5.20M423.56,118.30v5.20M451.07,100.40h5.20M453.67,97.80v5.20M678.47,55.10h5.20M681.07,52.50v5.20M633.74,62.14h5.20M636.34,59.54v5.20M673.61,55.10h5.20M676.21,52.50v5.20M611.29,65.25h5.20M613.89,62.65v5.20M567.27,73.02h5.20M569.87,70.42v5.20M444.85,102.86h5.20M447.45,100.26v5.20M662.03,56.20h5.20M664.63,53.60v5.20M557.49,74.38h5.20M560.09,71.78v5.20M459.01,98.00h5.20M461.61,95.40v5.20M392.49,160.95h5.20M395.09,158.35v5.20M566.91,73.02h5.20M569.51,70.42v5.20M399.41,144.23h5.20M402.01,141.63v5.20M467.43,94.89h5.20M470.03,92.29v5.20M480.64,90.57h5.20M483.24,87.97v5.20M528.30,80.00h5.20M530.90,77.40v5.20M402.62,136.45h5.20M405.22,133.85v5.20M641.83,60.65h5.20M644.43,58.05v5.20M403.10,136.45h5.20M405.70,133.85v5.20M433.68,111.33h5.20M436.28,108.73v5.20M516.78,82.14h5.20M519.38,79.54v5.20M504.04,84.70h5.20M506.64,82.10v5.20M427.71,116.80h5.20M430.31,114.20v5.20M402.85,136.45h5.20M405.45,133.85v5.20M536.62,78.16h5.20M539.22,75.56v5.20M475.31,91.86h5.20M477.91,89.26v5.20M487.69,88.97h5.20M490.29,86.37v5.20M524.53,80.85h5.20M527.13,78.25v5.20M595.56,68.70h5.20M598.16,66.10v5.20M675.32,55.10h5.20M677.92,52.50v5.20M401.66,139.56h5.20M404.26,136.96v5.20M471.02,93.37h5.20M473.62,90.77v5.20M672.66,55.10h5.20M675.26,52.50v5.20M600.14,67.93h5.20M602.74,65.33v5.20M602.23,67.55h5.20M604.83,64.95v5.20M431.19,114.07h5.20M433.79,111.47v5.20M391.70,163.93h5.20M394.30,161.33v5.20M425.25,118.17h5.20M427.85,115.57v5.20M578.18,71.34h5.20M580.78,68.74v5.20M642.00,60.65h5.20M644.60,58.05v5.20M635.07,61.90h5.20M637.67,59.30v5.20M651.62,58.97h5.20M654.22,56.37v5.20M414.45,126.30h5.20M417.05,123.70v5.20M458.73,98.00h5.20M461.33,95.40v5.20M570.03,72.68h5.20M572.63,70.08v5.20M403.75,134.90h5.20M406.35,132.30v5.20M590.66,69.69h5.20M593.26,67.09v5.20M581.84,70.68h5.20M584.44,68.08v5.20M541.19,77.24h5.20M543.79,74.64v5.20M524.72,80.85h5.20M527.32,78.25v5.20M403.15,136.45h5.20M405.75,133.85v5.20M566.47,73.02h5.20M569.07,70.42v5.20M419.72,122.25h5.20M422.32,119.65v5.20M623.78,63.12h5.20M626.38,60.52v5.20M402.51,136.45h5.20M405.11,133.85v5.20M403.06,136.45h5.20M405.66,133.85v5.20M417.98,123.60h5.20M420.58,121.00v5.20M442.98,103.68h5.20M445.58,101.08v5.20M468.70,94.13h5.20M471.30,91.53v5.20M637.28,61.48h5.20M639.88,58.88v5.20M572.26,72.34h5.20M574.86,69.74v5.20M658.73,57.30h5.20M661.33,54.70v5.20M457.31,98.00h5.20M459.91,95.40v5.20M509.23,83.85h5.20M511.83,81.25v5.20M608.98,66.40h5.20M611.58,63.80v5.20M418.50,123.60h5.20M421.10,121.00v5.20M569.05,72.68h5.20M571.65,70.08v5.20M498.90,85.77h5.20M501.50,83.17v5.20M625.63,62.88h5.20M628.23,60.28v5.20M635.18,61.90h5.20M637.78,59.30v5.20M397.76,147.34h5.20M400.36,144.74v5.20M426.40,118.17h5.20M429.00,115.57v5.20M536.54,78.16h5.20M539.14,75.56v5.20M413.70,126.30h5.20M416.30,123.70v5.20M497.67,86.30h5.20M500.27,83.70v5.20M471.43,93.37h5.20M474.03,90.77v5.20M390.69,166.91h5.20M393.29,164.31v5.20M454.69,98.80h5.20M457.29,96.20v5.20M494.30,87.37h5.20M496.90,84.77v5.20M394.47,154.98h5.20M397.07,152.38v5.20M564.24,73.36h5.20M566.84,70.76v5.20M437.65,107.23h5.20M440.25,104.63v5.20M435.40,109.97h5.20M438.00,107.37v5.20M518.36,82.14h5.20M520.96,79.54v5.20M663.77,55.10h5.20M666.37,52.50v5.20M529.14,80.00h5.20M531.74,77.40v5.20M635.55,61.90h5.20M638.15,59.30v5.20M551.44,75.40h5.20M554.04,72.80v5.20M462.24,96.40h5.20M464.84,93.80v5.20M608.61,66.78h5.20M611.21,64.18v5.20M657.98,57.72h5.20M660.58,55.12v5.20M447.38,102.04h5.20M449.98,99.44v5.20M589.67,69.69h5.20M592.27,67.09v5.20M553.07,75.06h5.20M555.67,72.46v5.20M523.84,80.85h5.20M526.44,78.25v5.20M396.35,150.45h5.20M398.95,147.85v5.20M452.29,100.40h5.20M454.89,97.80v5.20M501.46,85.23h5.20M504.06,82.63v5.20M430.92,114.07h5.20M433.52,111.47v5.20M459.59,97.20h5.20M462.19,94.60v5.20M390.84,166.91h5.20M393.44,164.31v5.20M491.04,87.90h5.20M493.64,85.30v5.20M530.34,79.54h5.20M532.94,76.94v5.20M413.13,126.30h5.20M415.73,123.70v5.20M444.29,102.86h5.20M446.89,100.26v5.20M585.25,70.35h5.20M587.85,67.75v5.20M657.21,57.72h5.20M659.81,55.12v5.20M650.97,58.97h5.20M653.57,56.37v5.20M398.36,145.78h5.20M400.96,143.18v5.20M536.41,78.62h5.20M539.01,76.02v5.20M463.35,96.40h5.20M465.95,93.80v5.20M485.59,89.50h5.20M488.19,86.90v5.20M397.16,148.89h5.20M399.76,146.29v5.20M643.48,60.23h5.20M646.08,57.63v5.20M434.76,109.97h5.20M437.36,107.37v5.20M413.52,126.30h5.20M416.12,123.70v5.20M575.45,71.67h5.20M578.05,69.07v5.20M473.34,92.61h5.20M475.94,90.01v5.20M542.91,77.24h5.20M545.51,74.64v5.20M557.26,74.38h5.20M559.86,71.78v5.20M588.44,70.02h5.20M591.04,67.42v5.20M541.14,77.24h5.20M543.74,74.64v5.20M613.12,65.25h5.20M615.72,62.65v5.20M457.28,98.00h5.20M459.88,95.40v5.20M419.90,122.25h5.20M422.50,119.65v5.20M637.51,61.48h5.20M640.11,58.88v5.20M652.39,58.55h5.20M654.99,55.95v5.20M454.06,99.60h5.20M456.66,97.00v5.20M557.73,74.38h5.20M560.33,71.78v5.20M566.66,73.02h5.20M569.26,70.42v5.20M395.69,152.00h5.20M398.29,149.40v5.20M394.71,154.98h5.20M397.31,152.38v5.20M455.79,98.80h5.20M458.39,96.20v5.20M539.28,77.70h5.20M541.88,75.10v5.20M494.36,86.83h5.20M496.96,84.23v5.20M653.19,58.55h5.20M655.79,55.95v5.20M664.14,55.10h5.20M666.74,52.50v5.20M547.12,76.32h5.20M549.72,73.72v5.20M452.54,99.60h5.20M455.14,97.00v5.20M411.33,127.65h5.20M413.93,125.05v5.20M597.77,68.32h5.20M600.37,65.72v5.20M614.36,64.10h5.20M616.96,61.50v5.20M519.77,81.71h5.20M522.37,79.11v5.20M526.63,80.43h5.20M529.23,77.83v5.20M541.71,77.24h5.20M544.31,74.64v5.20M589.10,69.69h5.20M591.70,67.09v5.20" fill="none" stroke="#DF8F44" stroke-width="1.3"/>
<path d="M392.50,168.40H393.01V166.91H393.52V165.42H394.03V163.93H394.54V162.44H395.05V160.95H395.55V159.45H396.06V157.96H396.57V156.47H397.08V154.98H397.59V153.49H398.10V152.00H398.78V150.59H399.45V149.18H400.12V147.76H400.80V146.35H401.48V144.94H402.15V143.52H402.82V142.11H403.50V140.70H404.25V139.22H404.99V137.74H405.74V136.25H406.48V134.77H407.23V133.29H407.97V131.81H408.72V130.33H409.46V128.85H410.21V127.36H410.95V125.88H411.70V124.40H413.37V122.90H415.04V121.40H416.71V119.90H418.39V118.40H420.06V116.90H421.73V115.40H423.40V113.90H425.33V112.53H427.27V111.17H429.20V109.80H431.13V108.43H433.07V107.07H435.00V105.70H437.35V104.83H439.70V103.95H442.05V103.08H444.40V102.20H446.73V101.43H449.07V100.67H451.40V99.90H452.80V98.48H454.20V97.06H455.60V95.64H457.00V94.22H458.40V92.80H460.74V92.10H463.08V91.40H465.42V90.70H467.76V90.00H470.10V89.30H472.38V88.90H474.67V88.50H476.95V88.10H479.23V87.70H481.52V87.30H483.80V86.90H485.98V86.24H488.16V85.58H490.34V84.92H492.52V84.26H494.70V83.60H496.90V83.20H499.10V82.80H501.30V82.40H503.50V82.00H505.70V81.60H507.90V81.20H510.10V80.80H512.30V80.40H512.82V79.03H513.35V77.65H513.88V76.28H514.40V74.90H516.27V74.37H518.13V73.83H520.00V73.30H522.19V73.19H524.38V73.08H526.56V72.96H528.75V72.85H530.94V72.74H533.12V72.62H535.31V72.51H537.50V72.40H539.70V71.75H541.90V71.10H544.10V70.45H546.30V69.80H548.45V68.90H550.60V68.00H552.65V68.05H554.70V68.10H556.75V68.15H558.80V68.20H560.85V68.25H562.90V68.30L562.90,63.60H565.30V63.50H567.70V63.40H570.10V63.30H572.50V63.20H573.04V61.88H573.58V60.56H574.12V59.24H574.66V57.92H575.20V56.60H577.35V56.62H579.49V56.63H581.64V56.65H583.79V56.66H585.94V56.68H588.08V56.69H590.23V56.71H592.38V56.73H594.53V56.74H596.67V56.76H598.82V56.77H600.97V56.79H603.12V56.81H605.26V56.82H607.41V56.84H609.56V56.85H611.71V56.87H613.85V56.88H616.00V56.90H617.50V55.77H619.00V54.63H620.50V53.50H622.76V52.80H625.02V52.10H627.28V51.40H629.54V50.70H631.80V50.00L654.50,50.00H654.87V48.83H655.23V47.67H655.60V46.50L672.60,46.50H673.33V45.00H674.07V43.50H674.80V42.00L682.60,42.00" fill="none" stroke="#00A1D5" stroke-width="1.5"/>
<path d="M576.39,56.62h5.20M578.99,54.02v5.20M601.18,56.81h5.20M603.78,54.21v5.20M602.61,56.81h5.20M605.21,54.21v5.20M492.71,83.60h5.20M495.31,81.00v5.20M513.56,74.90h5.20M516.16,72.30v5.20M406.12,130.33h5.20M408.72,127.73v5.20M500.14,82.40h5.20M502.74,79.80v5.20M601.29,56.81h5.20M603.89,54.21v5.20M673.98,42.00h5.20M676.58,39.40v5.20M594.27,56.76h5.20M596.87,54.16v5.20M392.51,160.95h5.20M395.11,158.35v5.20M396.51,150.59h5.20M399.11,147.99v5.20M522.17,73.08h5.20M524.77,70.48v5.20M659.22,46.50h5.20M661.82,43.90v5.20M408.49,125.88h5.20M411.09,123.28v5.20M587.46,56.69h5.20M590.06,54.09v5.20M410.82,122.90h5.20M413.42,120.30v5.20M603.18,56.82h5.20M605.78,54.22v5.20M676.09,42.00h5.20M678.69,39.40v5.20M552.81,68.10h5.20M555.41,65.50v5.20M612.24,56.88h5.20M614.84,54.28v5.20M452.86,97.06h5.20M455.46,94.46v5.20M402.94,137.74h5.20M405.54,135.14v5.20M397.29,149.18h5.20M399.89,146.58v5.20M476.32,88.10h5.20M478.92,85.50v5.20M396.56,150.59h5.20M399.16,147.99v5.20M478.73,87.70h5.20M481.33,85.10v5.20M663.66,46.50h5.20M666.26,43.90v5.20M425.15,111.17h5.20M427.75,108.57v5.20M433.42,105.70h5.20M436.02,103.10v5.20M426.99,109.80h5.20M429.59,107.20v5.20M595.45,56.76h5.20M598.05,54.16v5.20M446.45,101.43h5.20M449.05,98.83v5.20M423.83,112.53h5.20M426.43,109.93v5.20M410.54,124.40h5.20M413.14,121.80v5.20M635.27,50.00h5.20M637.87,47.40v5.20M593.69,56.74h5.20M596.29,54.14v5.20M440.23,103.08h5.20M442.83,100.48v5.20M505.06,81.60h5.20M507.66,79.00v5.20M411.91,122.90h5.20M414.51,120.30v5.20M540.30,71.10h5.20M542.90,68.50v5.20M534.64,72.51h5.20M537.24,69.91v5.20M422.51,113.90h5.20M425.11,111.30v5.20M462.30,91.40h5.20M464.90,88.80v5.20M633.34,50.00h5.20M635.94,47.40v5.20M651.78,50.00h5.20M654.38,47.40v5.20M444.19,101.43h5.20M446.79,98.83v5.20M403.86,136.25h5.20M406.46,133.65v5.20M390.87,166.91h5.20M393.47,164.31v5.20M408.90,125.88h5.20M411.50,123.28v5.20M401.03,140.70h5.20M403.63,138.10v5.20M569.95,63.20h5.20M572.55,60.60v5.20M455.69,94.22h5.20M458.29,91.62v5.20M578.79,56.63h5.20M581.39,54.03v5.20M671.49,43.50h5.20M674.09,40.90v5.20M428.13,109.80h5.20M430.73,107.20v5.20M570.46,61.88h5.20M573.06,59.28v5.20M509.82,80.40h5.20M512.42,77.80v5.20M483.61,86.24h5.20M486.21,83.64v5.20M392.44,162.44h5.20M395.04,159.84v5.20M451.43,98.48h5.20M454.03,95.88v5.20M404.25,134.77h5.20M406.85,132.17v5.20M406.44,130.33h5.20M409.04,127.73v5.20M415.26,119.90h5.20M417.86,117.30v5.20M408.90,125.88h5.20M411.50,123.28v5.20M507.75,80.80h5.20M510.35,78.20v5.20M459.30,92.10h5.20M461.90,89.50v5.20M652.39,48.83h5.20M654.99,46.23v5.20M424.60,112.53h5.20M427.20,109.93v5.20M645.80,50.00h5.20M648.40,47.40v5.20M437.52,103.95h5.20M440.12,101.35v5.20M434.91,104.83h5.20M437.51,102.23v5.20M394.23,156.47h5.20M396.83,153.87v5.20M477.90,87.70h5.20M480.50,85.10v5.20M460.50,91.40h5.20M463.10,88.80v5.20M570.79,61.88h5.20M573.39,59.28v5.20M518.60,73.30h5.20M521.20,70.70v5.20M571.51,60.56h5.20M574.11,57.96v5.20M645.49,50.00h5.20M648.09,47.40v5.20M475.08,88.10h5.20M477.68,85.50v5.20M483.32,86.90h5.20M485.92,84.30v5.20M470.66,88.90h5.20M473.26,86.30v5.20M476.96,87.70h5.20M479.56,85.10v5.20M672.24,42.00h5.20M674.84,39.40v5.20M543.54,70.45h5.20M546.14,67.85v5.20M431.65,107.07h5.20M434.25,104.47v5.20M465.72,90.00h5.20M468.32,87.40v5.20M417.65,116.90h5.20M420.25,114.30v5.20M624.19,52.10h5.20M626.79,49.50v5.20M630.32,50.00h5.20M632.92,47.40v5.20M571.70,59.24h5.20M574.30,56.64v5.20M555.28,68.15h5.20M557.88,65.55v5.20M451.56,98.48h5.20M454.16,95.88v5.20M390.28,168.40h5.20M392.88,165.80v5.20M628.09,50.70h5.20M630.69,48.10v5.20M539.29,71.75h5.20M541.89,69.15v5.20M427.82,109.80h5.20M430.42,107.20v5.20M588.45,56.71h5.20M591.05,54.11v5.20M575.59,56.62h5.20M578.19,54.02v5.20M512.94,74.90h5.20M515.54,72.30v5.20M568.27,63.30h5.20M570.87,60.70v5.20M549.11,68.00h5.20M551.71,65.40v5.20M425.85,111.17h5.20M428.45,108.57v5.20M436.89,104.83h5.20M439.49,102.23v5.20M500.29,82.40h5.20M502.89,79.80v5.20M512.69,74.90h5.20M515.29,72.30v5.20M423.01,112.53h5.20M425.61,109.93v5.20M661.99,46.50h5.20M664.59,43.90v5.20M512.78,74.90h5.20M515.38,72.30v5.20M615.26,55.77h5.20M617.86,53.17v5.20M413.82,121.40h5.20M416.42,118.80v5.20M495.71,83.20h5.20M498.31,80.60v5.20M619.92,53.50h5.20M622.52,50.90v5.20M630.18,50.00h5.20M632.78,47.40v5.20M469.40,89.30h5.20M472.00,86.70v5.20M616.58,54.63h5.20M619.18,52.03v5.20M409.52,124.40h5.20M412.12,121.80v5.20M401.91,139.22h5.20M404.51,136.62v5.20M614.18,56.90h5.20M616.78,54.30v5.20M492.29,83.60h5.20M494.89,81.00v5.20M474.34,88.50h5.20M476.94,85.90v5.20M571.76,59.24h5.20M574.36,56.64v5.20M502.66,82.00h5.20M505.26,79.40v5.20M594.40,56.76h5.20M597.00,54.16v5.20M568.38,63.30h5.20M570.98,60.70v5.20M511.40,76.28h5.20M514.00,73.68v5.20M463.62,90.70h5.20M466.22,88.10v5.20M467.54,89.30h5.20M470.14,86.70v5.20M420.08,115.40h5.20M422.68,112.80v5.20M395.62,152.00h5.20M398.22,149.40v5.20M577.48,56.63h5.20M580.08,54.03v5.20M451.94,97.06h5.20M454.54,94.46v5.20M620.37,52.80h5.20M622.97,50.20v5.20M553.86,68.10h5.20M556.46,65.50v5.20M419.84,115.40h5.20M422.44,112.80v5.20M610.43,56.87h5.20M613.03,54.27v5.20M462.92,90.70h5.20M465.52,88.10v5.20M488.54,84.92h5.20M491.14,82.32v5.20M575.38,56.62h5.20M577.98,54.02v5.20M478.11,87.70h5.20M480.71,85.10v5.20" fill="none" stroke="#00A1D5" stroke-width="1.3"/>
<path d="M392.50,168.40H392.95V166.82H393.40V165.24H393.85V163.66H394.30V162.08H394.75V160.50H395.20V158.92H395.65V157.34H396.10V155.76H396.55V154.18H397.00V152.60H397.25V151.12H397.50V149.65H397.75V148.18H398.00V146.70H398.25V145.22H398.50V143.75H398.75V142.28H399.00V140.80H399.25V139.32H399.50V137.85H399.75V136.38H400.00V134.90H400.83V133.40H401.66V131.90H402.49V130.40H403.31V128.90H404.14V127.40H404.97V125.90H405.80V124.40H406.78V122.83H407.77V121.27H408.75V119.70H409.73V118.13H410.72V116.57H411.70V115.00H413.65V113.65H415.60V112.30H417.55V110.95H419.50V109.60H421.45V108.25H423.40V106.90H425.72V105.60H428.04V104.30H430.36V103.00H432.68V101.70H435.00V100.40H437.35V99.40H439.70V98.40H442.05V97.40H444.40V96.40H446.33V94.83H448.27V93.27H450.20V91.70H451.68V90.22H453.15V88.75H454.62V87.28H456.10V85.80H458.43V84.27H460.77V82.73H463.10V81.20H465.43V80.53H467.75V79.85H470.07V79.17H472.40V78.50H474.67V77.30H476.93V76.10H479.20V74.90H481.39V74.11H483.57V73.33H485.76V72.54H487.94V71.76H490.13V70.97H492.31V70.19H494.50V69.40H496.69V68.71H498.88V68.03H501.06V67.34H503.25V66.65H505.44V65.96H507.62V65.28H509.81V64.59H512.00V63.90H514.25V63.23H516.50V62.55H518.75V61.88H521.00V61.20H523.25V60.52H525.50V59.85H527.75V59.17H530.00V58.50H532.26V57.92H534.52V57.35H536.79V56.77H539.05V56.20H541.31V55.62H543.58V55.05H545.84V54.48H548.10V53.90H550.36V53.00H552.62V52.10H554.88V51.20H557.14V50.30H559.40V49.40H561.67V48.76H563.94V48.11H566.21V47.47H568.49V46.83H570.76V46.19H573.03V45.54H575.30V44.90L630.10,44.90H630.83V43.48H631.55V42.05H632.27V40.62H633.00V39.20L654.50,39.20H655.00V37.75H655.50V36.30L682.60,36.30" fill="none" stroke="#B24745" stroke-width="1.5"/>
<path d="M592.01,44.90h5.20M594.61,42.30v5.20M464.17,80.53h5.20M466.77,77.93v5.20M634.52,39.20h5.20M637.12,36.60v5.20M672.19,36.30h5.20M674.79,33.70v5.20M459.72,82.73h5.20M462.32,80.13v5.20M449.18,90.22h5.20M451.78,87.62v5.20M593.49,44.90h5.20M596.09,42.30v5.20M508.30,64.59h5.20M510.90,61.99v5.20M646.68,39.20h5.20M649.28,36.60v5.20M392.42,160.50h5.20M395.02,157.90v5.20M488.54,70.97h5.20M491.14,68.37v5.20M595.44,44.90h5.20M598.04,42.30v5.20M491.66,70.19h5.20M494.26,67.59v5.20M479.86,74.11h5.20M482.46,71.51v5.20M504.64,65.96h5.20M507.24,63.36v5.20M556.21,50.30h5.20M558.81,47.70v5.20M467.57,79.17h5.20M470.17,76.58v5.20M558.06,49.40h5.20M560.66,46.80v5.20M614.89,44.90h5.20M617.49,42.30v5.20M400.07,130.40h5.20M402.67,127.80v5.20M396.35,142.28h5.20M398.95,139.68v5.20M397.47,134.90h5.20M400.07,132.30v5.20M603.63,44.90h5.20M606.23,42.30v5.20M394.82,151.12h5.20M397.42,148.53v5.20M566.98,46.83h5.20M569.58,44.23v5.20M394.82,151.12h5.20M397.42,148.53v5.20M473.39,77.30h5.20M475.99,74.70v5.20M675.04,36.30h5.20M677.64,33.70v5.20M629.78,40.62h5.20M632.38,38.02v5.20M451.31,88.75h5.20M453.91,86.15v5.20M390.79,166.82h5.20M393.39,164.22v5.20M435.37,99.40h5.20M437.97,96.80v5.20M446.16,93.27h5.20M448.76,90.67v5.20M627.90,44.90h5.20M630.50,42.30v5.20M503.76,65.96h5.20M506.36,63.36v5.20M394.48,152.60h5.20M397.08,150.00v5.20M629.53,42.05h5.20M632.13,39.45v5.20M627.69,44.90h5.20M630.29,42.30v5.20M415.05,110.95h5.20M417.65,108.35v5.20M510.24,63.90h5.20M512.84,61.30v5.20M488.60,70.97h5.20M491.20,68.37v5.20M525.97,59.17h5.20M528.57,56.57v5.20M583.67,44.90h5.20M586.27,42.30v5.20M642.36,39.20h5.20M644.96,36.60v5.20M394.48,152.60h5.20M397.08,150.00v5.20M510.32,63.90h5.20M512.92,61.30v5.20M519.13,61.20h5.20M521.73,58.60v5.20M436.62,99.40h5.20M439.22,96.80v5.20M441.12,97.40h5.20M443.72,94.80v5.20M605.15,44.90h5.20M607.75,42.30v5.20M485.20,72.54h5.20M487.80,69.94v5.20M482.89,73.33h5.20M485.49,70.73v5.20M395.01,149.65h5.20M397.61,147.05v5.20M543.35,54.48h5.20M545.95,51.88v5.20M628.28,43.48h5.20M630.88,40.88v5.20M530.07,57.92h5.20M532.67,55.32v5.20M642.46,39.20h5.20M645.06,36.60v5.20M600.00,44.90h5.20M602.60,42.30v5.20M556.07,50.30h5.20M558.67,47.70v5.20M442.21,96.40h5.20M444.81,93.80v5.20M580.69,44.90h5.20M583.29,42.30v5.20M634.85,39.20h5.20M637.45,36.60v5.20M397.48,134.90h5.20M400.08,132.30v5.20M624.81,44.90h5.20M627.41,42.30v5.20M473.56,77.30h5.20M476.16,74.70v5.20M432.18,101.70h5.20M434.78,99.10v5.20M559.42,48.76h5.20M562.02,46.16v5.20M395.07,149.65h5.20M397.67,147.05v5.20M393.88,155.76h5.20M396.48,153.16v5.20M442.25,96.40h5.20M444.85,93.80v5.20M525.87,59.17h5.20M528.47,56.57v5.20M518.75,61.20h5.20M521.35,58.60v5.20M637.37,39.20h5.20M639.97,36.60v5.20M581.02,44.90h5.20M583.62,42.30v5.20M626.41,44.90h5.20M629.01,42.30v5.20M465.23,79.85h5.20M467.83,77.25v5.20M461.99,81.20h5.20M464.59,78.60v5.20M422.07,106.90h5.20M424.67,104.30v5.20M397.27,136.38h5.20M399.87,133.78v5.20M596.26,44.90h5.20M598.86,42.30v5.20M557.06,49.40h5.20M559.66,46.80v5.20M579.39,44.90h5.20M581.99,42.30v5.20M651.82,39.20h5.20M654.42,36.60v5.20M667.16,36.30h5.20M669.76,33.70v5.20M440.27,97.40h5.20M442.87,94.80v5.20M599.91,44.90h5.20M602.51,42.30v5.20M651.95,39.20h5.20M654.55,36.60v5.20M495.98,68.71h5.20M498.58,66.11v5.20M530.89,57.92h5.20M533.49,55.32v5.20M396.68,139.32h5.20M399.28,136.72v5.20M436.85,99.40h5.20M439.45,96.80v5.20M585.15,44.90h5.20M587.75,42.30v5.20M631.10,39.20h5.20M633.70,36.60v5.20M531.85,57.92h5.20M534.45,55.32v5.20M453.42,87.28h5.20M456.02,84.68v5.20M550.13,52.10h5.20M552.73,49.50v5.20M451.21,88.75h5.20M453.81,86.15v5.20M429.48,103.00h5.20M432.08,100.40v5.20M410.64,115.00h5.20M413.24,112.40v5.20M441.93,96.40h5.20M444.53,93.80v5.20M518.62,61.20h5.20M521.22,58.60v5.20M517.92,61.88h5.20M520.52,59.27v5.20M530.71,57.92h5.20M533.31,55.32v5.20M393.28,157.34h5.20M395.88,154.74v5.20M397.94,134.90h5.20M400.54,132.30v5.20M402.85,125.90h5.20M405.45,123.30v5.20M454.37,85.80h5.20M456.97,83.20v5.20M552.65,51.20h5.20M555.25,48.60v5.20M409.04,116.57h5.20M411.64,113.97v5.20M450.32,90.22h5.20M452.92,87.62v5.20M630.02,40.62h5.20M632.62,38.02v5.20M405.26,121.27h5.20M407.86,118.67v5.20M632.92,39.20h5.20M635.52,36.60v5.20M497.45,68.03h5.20M500.05,65.43v5.20M400.27,130.40h5.20M402.87,127.80v5.20M407.66,118.13h5.20M410.26,115.53v5.20M501.45,66.65h5.20M504.05,64.05v5.20M415.74,110.95h5.20M418.34,108.35v5.20M417.15,109.60h5.20M419.75,107.00v5.20M427.46,104.30h5.20M430.06,101.70v5.20M500.41,67.34h5.20M503.01,64.74v5.20M391.67,163.66h5.20M394.27,161.06v5.20M495.82,68.71h5.20M498.42,66.11v5.20M522.20,60.52h5.20M524.80,57.92v5.20M424.86,105.60h5.20M427.46,103.00v5.20M405.43,121.27h5.20M408.03,118.67v5.20M392.78,158.92h5.20M395.38,156.32v5.20M505.66,65.28h5.20M508.26,62.68v5.20M632.21,39.20h5.20M634.81,36.60v5.20M523.43,59.85h5.20M526.03,57.25v5.20M531.44,57.92h5.20M534.04,55.32v5.20M566.03,46.83h5.20M568.63,44.23v5.20M429.15,103.00h5.20M431.75,100.40v5.20M654.02,36.30h5.20M656.62,33.70v5.20M538.02,56.20h5.20M540.62,53.60v5.20M591.45,44.90h5.20M594.05,42.30v5.20M598.01,44.90h5.20M600.61,42.30v5.20M630.63,39.20h5.20M633.23,36.60v5.20M664.06,36.30h5.20M666.66,33.70v5.20M470.00,78.50h5.20M472.60,75.90v5.20M429.46,103.00h5.20M432.06,100.40v5.20M557.14,49.40h5.20M559.74,46.80v5.20M452.23,87.28h5.20M454.83,84.68v5.20M415.38,110.95h5.20M417.98,108.35v5.20M450.51,90.22h5.20M453.11,87.62v5.20M674.35,36.30h5.20M676.95,33.70v5.20M492.99,69.40h5.20M495.59,66.80v5.20M622.46,44.90h5.20M625.06,42.30v5.20M607.57,44.90h5.20M610.17,42.30v5.20M416.17,110.95h5.20M418.77,108.35v5.20M615.81,44.90h5.20M618.41,42.30v5.20M397.08,137.85h5.20M399.68,135.25v5.20M453.88,85.80h5.20M456.48,83.20v5.20M671.13,36.30h5.20M673.73,33.70v5.20M580.09,44.90h5.20M582.69,42.30v5.20M624.05,44.90h5.20M626.65,42.30v5.20M646.42,39.20h5.20M649.02,36.60v5.20M616.66,44.90h5.20M619.26,42.30v5.20M528.38,58.50h5.20M530.98,55.90v5.20M615.69,44.90h5.20M618.29,42.30v5.20M629.89,40.62h5.20M632.49,38.02v5.20M667.31,36.30h5.20M669.91,33.70v5.20M656.04,36.30h5.20M658.64,33.70v5.20M674.24,36.30h5.20M676.84,33.70v5.20M429.71,103.00h5.20M432.31,100.40v5.20M423.58,105.60h5.20M426.18,103.00v5.20M485.86,71.76h5.20M488.46,69.16v5.20M498.26,68.03h5.20M500.86,65.43v5.20M560.69,48.76h5.20M563.29,46.16v5.20M466.97,79.85h5.20M469.57,77.25v5.20M610.12,44.90h5.20M612.72,42.30v5.20M675.28,36.30h5.20M677.88,33.70v5.20M470.00,78.50h5.20M472.60,75.90v5.20M549.65,53.00h5.20M552.25,50.40v5.20M452.90,87.28h5.20M455.50,84.68v5.20M616.15,44.90h5.20M618.75,42.30v5.20M390.12,168.40h5.20M392.72,165.80v5.20M391.30,163.66h5.20M393.90,161.06v5.20M595.64,44.90h5.20M598.24,42.30v5.20M532.96,57.35h5.20M535.56,54.75v5.20M450.87,88.75h5.20M453.47,86.15v5.20M455.47,85.80h5.20M458.07,83.20v5.20M537.11,56.20h5.20M539.71,53.60v5.20M396.72,139.32h5.20M399.32,136.72v5.20M564.62,47.47h5.20M567.22,44.87v5.20M551.84,52.10h5.20M554.44,49.50v5.20M401.28,128.90h5.20M403.88,126.30v5.20M393.87,155.76h5.20M396.47,153.16v5.20M411.58,113.65h5.20M414.18,111.05v5.20M662.72,36.30h5.20M665.32,33.70v5.20M422.86,106.90h5.20M425.46,104.30v5.20M536.21,56.77h5.20M538.81,54.17v5.20M466.31,79.85h5.20M468.91,77.25v5.20M666.63,36.30h5.20M669.23,33.70v5.20M658.03,36.30h5.20M660.63,33.70v5.20M581.59,44.90h5.20M584.19,42.30v5.20M507.21,64.59h5.20M509.81,61.99v5.20M410.94,115.00h5.20M413.54,112.40v5.20M484.93,72.54h5.20M487.53,69.94v5.20M428.58,103.00h5.20M431.18,100.40v5.20M397.86,134.90h5.20M400.46,132.30v5.20M628.60,43.48h5.20M631.20,40.88v5.20M462.66,81.20h5.20M465.26,78.60v5.20M644.73,39.20h5.20M647.33,36.60v5.20M396.06,143.75h5.20M398.66,141.15v5.20M483.07,73.33h5.20M485.67,70.73v5.20M457.38,84.27h5.20M459.98,81.67v5.20M541.83,55.05h5.20M544.43,52.45v5.20M506.50,65.28h5.20M509.10,62.68v5.20M641.11,39.20h5.20M643.71,36.60v5.20M458.11,84.27h5.20M460.71,81.67v5.20M395.11,149.65h5.20M397.71,147.05v5.20M558.07,49.40h5.20M560.67,46.80v5.20M482.61,73.33h5.20M485.21,70.73v5.20M646.07,39.20h5.20M648.67,36.60v5.20M574.62,44.90h5.20M577.22,42.30v5.20M447.80,91.70h5.20M450.40,89.10v5.20M677.06,36.30h5.20M679.66,33.70v5.20M404.76,122.83h5.20M407.36,120.23v5.20M523.01,59.85h5.20M525.61,57.25v5.20M466.89,79.85h5.20M469.49,77.25v5.20M546.13,53.90h5.20M548.73,51.30v5.20M588.66,44.90h5.20M591.26,42.30v5.20M512.60,63.23h5.20M515.20,60.62v5.20M670.48,36.30h5.20M673.08,33.70v5.20M609.77,44.90h5.20M612.37,42.30v5.20M462.74,81.20h5.20M465.34,78.60v5.20M567.45,46.83h5.20M570.05,44.23v5.20M435.13,99.40h5.20M437.73,96.80v5.20M524.76,59.85h5.20M527.36,57.25v5.20M591.73,44.90h5.20M594.33,42.30v5.20M403.71,124.40h5.20M406.31,121.80v5.20M633.89,39.20h5.20M636.49,36.60v5.20M582.05,44.90h5.20M584.65,42.30v5.20M445.77,93.27h5.20M448.37,90.67v5.20M442.54,96.40h5.20M445.14,93.80v5.20M678.97,36.30h5.20M681.57,33.70v5.20M411.65,113.65h5.20M414.25,111.05v5.20M658.25,36.30h5.20M660.85,33.70v5.20M448.25,91.70h5.20M450.85,89.10v5.20M399.27,131.90h5.20M401.87,129.30v5.20M466.05,79.85h5.20M468.65,77.25v5.20M660.13,36.30h5.20M662.73,33.70v5.20M418.67,109.60h5.20M421.27,107.00v5.20M484.99,72.54h5.20M487.59,69.94v5.20M545.00,54.48h5.20M547.60,51.88v5.20M445.96,93.27h5.20M448.56,90.67v5.20M598.47,44.90h5.20M601.07,42.30v5.20M519.91,61.20h5.20M522.51,58.60v5.20M587.79,44.90h5.20M590.39,42.30v5.20M457.97,84.27h5.20M460.57,81.67v5.20M507.84,64.59h5.20M510.44,61.99v5.20M541.56,55.05h5.20M544.16,52.45v5.20M574.96,44.90h5.20M577.56,42.30v5.20M603.74,44.90h5.20M606.34,42.30v5.20M455.69,85.80h5.20M458.29,83.20v5.20M432.97,100.40h5.20M435.57,97.80v5.20M395.79,145.22h5.20M398.39,142.62v5.20M609.86,44.90h5.20M612.46,42.30v5.20M473.90,77.30h5.20M476.50,74.70v5.20" fill="none" stroke="#B24745" stroke-width="1.3"/>
<path d="M392.50,168.40L400.50,168.40L400.50,163.70L421.00,163.70L421.00,157.00L585.70,157.00L585.70,116.80L607.00,116.80L607.00,76.20L682.60,76.20" fill="none" stroke="#79AF97" stroke-width="1.5"/>
<path d="M393.40,168.40h5.20M396.00,165.80v5.20M395.90,168.40h5.20M398.50,165.80v5.20M400.20,163.70h5.20M402.80,161.10v5.20M402.60,163.70h5.20M405.20,161.10v5.20M405.50,163.70h5.20M408.10,161.10v5.20M407.30,163.70h5.20M409.90,161.10v5.20M410.80,163.70h5.20M413.40,161.10v5.20M413.70,163.70h5.20M416.30,161.10v5.20M416.00,163.70h5.20M418.60,161.10v5.20M419.50,157.00h5.20M422.10,154.40v5.20M421.90,157.00h5.20M424.50,154.40v5.20M424.20,157.00h5.20M426.80,154.40v5.20M427.10,157.00h5.20M429.70,154.40v5.20M430.60,157.00h5.20M433.20,154.40v5.20M432.40,157.00h5.20M435.00,154.40v5.20M441.10,157.00h5.20M443.70,154.40v5.20M448.10,157.00h5.20M450.70,154.40v5.20M449.30,157.00h5.20M451.90,154.40v5.20M466.60,157.00h5.20M469.20,154.40v5.20M467.20,157.00h5.20M469.80,154.40v5.20M494.20,157.00h5.20M496.80,154.40v5.20M500.90,157.00h5.20M503.50,154.40v5.20M506.00,157.00h5.20M508.60,154.40v5.20M510.10,157.00h5.20M512.70,154.40v5.20M517.10,157.00h5.20M519.70,154.40v5.20M531.40,157.00h5.20M534.00,154.40v5.20M553.40,157.00h5.20M556.00,154.40v5.20M638.40,76.20h5.20M641.00,73.60v5.20M678.40,76.20h5.20M681.00,73.60v5.20" fill="none" stroke="#79AF97" stroke-width="1.3"/>
<path d="M48.20,514.10H50.10V512.55H52.00V511.00H52.64V509.48H53.28V507.96H53.92V506.44H54.56V504.92H55.20V503.40H56.08V501.92H56.95V500.45H57.83V498.98H58.70V497.50H61.05V496.35H63.40V495.20H65.72V494.26H68.04V493.32H70.36V492.38H72.68V491.44H75.00V490.50H77.34V489.80H79.68V489.10H82.02V488.40H84.36V487.70H86.70V487.00H89.06V485.93H91.41V484.86H93.77V483.79H96.13V482.71H98.49V481.64H100.84V480.57H103.20V479.50H105.39V479.09H107.58V478.68H109.76V478.26H111.95V477.85H114.14V477.44H116.33V477.02H118.51V476.61H120.70V476.20H122.89V475.87H125.08V475.54H127.27V475.21H129.46V474.88H131.65V474.55H133.84V474.22H136.03V473.89H138.22V473.56H140.41V473.23H142.60V472.90H144.79V472.57H146.98V472.24H149.17V471.91H151.36V471.58H153.55V471.25H155.74V470.92H157.93V470.59H160.12V470.26H162.31V469.93H164.50V469.60H166.69V469.38H168.88V469.16H171.07V468.94H173.26V468.72H175.45V468.50H177.64V468.28H179.83V468.06H182.02V467.84H184.21V467.62H186.40V467.40H188.67V467.13H190.93V466.87H193.20V466.60H195.47V466.33H197.73V466.07H200.00V465.80H202.12V465.70H204.24V465.60H206.36V465.50H208.48V465.40H210.60V465.30H212.72V465.20H214.84V465.10H216.96V465.00H219.08V464.90H221.20V464.80H223.32V464.58H225.44V464.36H227.56V464.14H229.68V463.92H231.80V463.70H233.90V463.28H236.00V462.86H238.10V462.44H240.20V462.02H242.30V461.60H244.43V461.20H246.55V460.80H248.68V460.40H250.80V460.00H252.93V459.60H255.05V459.20H257.18V458.80H259.30V458.40H261.42V457.78H263.54V457.16H265.66V456.54H267.78V455.92H269.90V455.30H272.16V455.22H274.43V455.14H276.69V455.06H278.96V454.99H281.22V454.91H283.49V454.83H285.75V454.75H288.01V454.67H290.28V454.59H292.54V454.51H294.81V454.44H297.07V454.36H299.34V454.28H301.60V454.20H303.70V453.65H305.80V453.10L337.60,453.10" fill="none" stroke="#374E55" stroke-width="1.5"/>
<path d="M63.83,494.26h5.20M66.43,491.66v5.20M222.77,464.58h5.20M225.37,461.98v5.20M217.95,464.90h5.20M220.55,462.30v5.20M259.66,457.78h5.20M262.26,455.18v5.20M326.81,453.10h5.20M329.41,450.50v5.20M125.53,475.21h5.20M128.13,472.61v5.20M268.09,455.30h5.20M270.69,452.70v5.20M83.80,487.70h5.20M86.40,485.10v5.20M184.98,467.40h5.20M187.58,464.80v5.20M231.09,463.70h5.20M233.69,461.10v5.20M68.55,492.38h5.20M71.15,489.78v5.20M54.71,500.45h5.20M57.31,497.85v5.20M176.91,468.28h5.20M179.51,465.68v5.20M230.41,463.70h5.20M233.01,461.10v5.20M145.64,472.24h5.20M148.24,469.64v5.20M106.82,478.68h5.20M109.42,476.07v5.20M264.84,456.54h5.20M267.44,453.94v5.20M73.97,490.50h5.20M76.57,487.90v5.20M253.51,459.20h5.20M256.11,456.60v5.20M300.89,454.20h5.20M303.49,451.60v5.20M252.07,459.60h5.20M254.67,457.00v5.20M224.70,464.36h5.20M227.30,461.76v5.20M69.39,492.38h5.20M71.99,489.78v5.20M241.00,461.60h5.20M243.60,459.00v5.20M105.12,478.68h5.20M107.72,476.07v5.20M209.75,465.30h5.20M212.35,462.70v5.20M105.44,478.68h5.20M108.04,476.07v5.20M91.39,483.79h5.20M93.99,481.19v5.20M233.35,463.28h5.20M235.95,460.68v5.20M268.11,455.30h5.20M270.71,452.70v5.20M237.75,462.02h5.20M240.35,459.42v5.20M279.36,454.91h5.20M281.96,452.31v5.20M46.80,514.10h5.20M49.40,511.50v5.20M70.72,491.44h5.20M73.32,488.84v5.20M53.86,501.92h5.20M56.46,499.32v5.20M192.43,466.60h5.20M195.03,464.00v5.20M51.85,506.44h5.20M54.45,503.84v5.20M63.64,494.26h5.20M66.24,491.66v5.20M217.20,464.90h5.20M219.80,462.30v5.20M123.72,475.54h5.20M126.32,472.94v5.20M93.04,483.79h5.20M95.64,481.19v5.20M90.79,484.86h5.20M93.39,482.26v5.20M270.78,455.22h5.20M273.38,452.62v5.20M50.54,509.48h5.20M53.14,506.88v5.20M50.36,509.48h5.20M52.96,506.88v5.20M151.09,471.25h5.20M153.69,468.65v5.20M218.02,464.90h5.20M220.62,462.30v5.20M202.49,465.60h5.20M205.09,463.00v5.20M178.52,468.06h5.20M181.12,465.46v5.20M93.22,483.79h5.20M95.82,481.19v5.20M328.77,453.10h5.20M331.37,450.50v5.20M313.68,453.10h5.20M316.28,450.50v5.20M305.47,453.10h5.20M308.07,450.50v5.20M166.57,469.16h5.20M169.17,466.56v5.20M161.21,469.93h5.20M163.81,467.33v5.20M240.67,461.60h5.20M243.27,459.00v5.20M125.09,475.21h5.20M127.69,472.61v5.20M145.00,472.24h5.20M147.60,469.64v5.20M85.83,487.00h5.20M88.43,484.40v5.20M180.38,467.84h5.20M182.98,465.24v5.20M88.12,485.93h5.20M90.72,483.33v5.20M84.73,487.00h5.20M87.33,484.40v5.20M194.46,466.33h5.20M197.06,463.73v5.20M326.98,453.10h5.20M329.58,450.50v5.20M332.45,453.10h5.20M335.05,450.50v5.20M245.48,460.80h5.20M248.08,458.20v5.20M53.65,501.92h5.20M56.25,499.32v5.20M49.14,512.55h5.20M51.74,509.95v5.20M245.29,460.80h5.20M247.89,458.20v5.20M103.56,479.09h5.20M106.16,476.49v5.20M78.56,489.10h5.20M81.16,486.50v5.20M312.92,453.10h5.20M315.52,450.50v5.20M51.43,506.44h5.20M54.03,503.84v5.20M131.02,474.55h5.20M133.62,471.95v5.20M268.33,455.30h5.20M270.93,452.70v5.20M61.05,495.20h5.20M63.65,492.60v5.20M76.56,489.80h5.20M79.16,487.20v5.20M166.26,469.38h5.20M168.86,466.78v5.20M328.47,453.10h5.20M331.07,450.50v5.20M168.08,469.16h5.20M170.68,466.56v5.20M68.01,492.38h5.20M70.61,489.78v5.20M194.02,466.33h5.20M196.62,463.73v5.20M89.41,484.86h5.20M92.01,482.26v5.20M49.98,511.00h5.20M52.58,508.40v5.20M241.71,461.60h5.20M244.31,459.00v5.20M317.09,453.10h5.20M319.69,450.50v5.20M246.89,460.40h5.20M249.49,457.80v5.20M271.47,455.22h5.20M274.07,452.62v5.20M67.79,492.38h5.20M70.39,489.78v5.20M90.19,484.86h5.20M92.79,482.26v5.20M135.64,473.56h5.20M138.24,470.96v5.20M278.14,454.99h5.20M280.74,452.39v5.20M161.99,469.60h5.20M164.59,467.00v5.20M297.95,454.28h5.20M300.55,451.68v5.20M55.51,498.98h5.20M58.11,496.38v5.20M216.24,465.00h5.20M218.84,462.40v5.20M169.87,468.94h5.20M172.47,466.34v5.20M87.03,485.93h5.20M89.63,483.33v5.20M301.90,453.65h5.20M304.50,451.05v5.20M62.17,495.20h5.20M64.77,492.60v5.20M68.22,492.38h5.20M70.82,489.78v5.20M160.99,469.93h5.20M163.59,467.33v5.20M220.10,464.80h5.20M222.70,462.20v5.20M155.48,470.59h5.20M158.08,467.99v5.20M244.06,460.80h5.20M246.66,458.20v5.20M164.97,469.38h5.20M167.57,466.78v5.20M230.70,463.70h5.20M233.30,461.10v5.20M97.42,481.64h5.20M100.02,479.04v5.20M236.49,462.44h5.20M239.09,459.84v5.20M72.19,491.44h5.20M74.79,488.84v5.20M206.01,465.40h5.20M208.61,462.80v5.20M98.21,481.64h5.20M100.81,479.04v5.20M94.45,482.71h5.20M97.05,480.11v5.20M264.81,456.54h5.20M267.41,453.94v5.20M218.05,464.90h5.20M220.65,462.30v5.20M51.38,506.44h5.20M53.98,503.84v5.20M328.73,453.10h5.20M331.33,450.50v5.20M50.71,507.96h5.20M53.31,505.36v5.20M98.08,481.64h5.20M100.68,479.04v5.20M92.76,483.79h5.20M95.36,481.19v5.20M323.51,453.10h5.20M326.11,450.50v5.20M311.56,453.10h5.20M314.16,450.50v5.20M74.78,489.80h5.20M77.38,487.20v5.20M254.80,458.80h5.20M257.40,456.20v5.20M325.78,453.10h5.20M328.38,450.50v5.20M83.65,487.70h5.20M86.25,485.10v5.20M78.28,489.10h5.20M80.88,486.50v5.20M62.63,495.20h5.20M65.23,492.60v5.20M298.81,454.28h5.20M301.41,451.68v5.20M47.22,514.10h5.20M49.82,511.50v5.20M192.46,466.60h5.20M195.06,464.00v5.20M176.40,468.28h5.20M179.00,465.68v5.20M205.45,465.50h5.20M208.05,462.90v5.20M56.23,497.50h5.20M58.83,494.90v5.20M188.99,466.87h5.20M191.59,464.27v5.20M142.21,472.57h5.20M144.81,469.97v5.20M250.38,459.60h5.20M252.98,457.00v5.20M278.19,454.99h5.20M280.79,452.39v5.20M159.98,469.93h5.20M162.58,467.33v5.20M223.28,464.36h5.20M225.88,461.76v5.20M151.19,471.25h5.20M153.79,468.65v5.20M320.57,453.10h5.20M323.17,450.50v5.20M129.26,474.55h5.20M131.86,471.95v5.20M247.88,460.40h5.20M250.48,457.80v5.20M283.38,454.75h5.20M285.98,452.15v5.20M134.09,473.89h5.20M136.69,471.29v5.20M257.01,458.40h5.20M259.61,455.80v5.20M210.07,465.30h5.20M212.67,462.70v5.20M256.71,458.40h5.20M259.31,455.80v5.20M55.32,498.98h5.20M57.92,496.38v5.20M236.76,462.44h5.20M239.36,459.84v5.20M180.42,467.84h5.20M183.02,465.24v5.20M145.72,472.24h5.20M148.32,469.64v5.20M224.78,464.36h5.20M227.38,461.76v5.20M249.89,460.00h5.20M252.49,457.40v5.20M329.82,453.10h5.20M332.42,450.50v5.20M241.89,461.20h5.20M244.49,458.60v5.20M233.08,463.28h5.20M235.68,460.68v5.20M155.06,470.92h5.20M157.66,468.32v5.20M83.97,487.70h5.20M86.57,485.10v5.20M156.88,470.59h5.20M159.48,467.99v5.20M98.95,480.57h5.20M101.55,477.97v5.20M127.57,474.88h5.20M130.17,472.28v5.20M59.49,496.35h5.20M62.09,493.75v5.20M324.00,453.10h5.20M326.60,450.50v5.20M327.44,453.10h5.20M330.04,450.50v5.20M280.87,454.91h5.20M283.47,452.31v5.20M253.03,459.20h5.20M255.63,456.60v5.20M99.21,480.57h5.20M101.81,477.97v5.20M49.55,511.00h5.20M52.15,508.40v5.20M296.56,454.36h5.20M299.16,451.76v5.20M121.98,475.87h5.20M124.58,473.27v5.20M260.71,457.78h5.20M263.31,455.18v5.20M266.31,455.92h5.20M268.91,453.32v5.20M62.72,495.20h5.20M65.32,492.60v5.20M117.28,476.61h5.20M119.88,474.01v5.20M134.61,473.89h5.20M137.21,471.29v5.20M308.32,453.10h5.20M310.92,450.50v5.20M185.27,467.40h5.20M187.87,464.80v5.20M188.19,467.13h5.20M190.79,464.53v5.20M146.38,472.24h5.20M148.98,469.64v5.20M237.53,462.44h5.20M240.13,459.84v5.20M58.95,496.35h5.20M61.55,493.75v5.20M111.33,477.85h5.20M113.93,475.25v5.20M47.99,512.55h5.20M50.59,509.95v5.20M243.93,461.20h5.20M246.53,458.60v5.20M80.44,488.40h5.20M83.04,485.80v5.20M234.85,462.86h5.20M237.45,460.26v5.20M251.93,459.60h5.20M254.53,457.00v5.20M98.85,480.57h5.20M101.45,477.97v5.20M50.48,509.48h5.20M53.08,506.88v5.20M89.43,484.86h5.20M92.03,482.26v5.20M323.66,453.10h5.20M326.26,450.50v5.20M205.15,465.50h5.20M207.75,462.90v5.20M207.35,465.40h5.20M209.95,462.80v5.20M113.86,477.02h5.20M116.46,474.42v5.20M54.36,500.45h5.20M56.96,497.85v5.20M131.55,474.22h5.20M134.15,471.62v5.20M64.27,494.26h5.20M66.87,491.66v5.20M325.06,453.10h5.20M327.66,450.50v5.20M106.66,478.68h5.20M109.26,476.07v5.20M79.65,488.40h5.20M82.25,485.80v5.20M114.62,477.02h5.20M117.22,474.42v5.20M236.43,462.44h5.20M239.03,459.84v5.20M246.28,460.40h5.20M248.88,457.80v5.20M314.09,453.10h5.20M316.69,450.50v5.20M276.43,454.99h5.20M279.03,452.39v5.20M276.87,454.99h5.20M279.47,452.39v5.20M287.23,454.67h5.20M289.83,452.07v5.20M229.78,463.70h5.20M232.38,461.10v5.20M45.96,514.10h5.20M48.56,511.50v5.20M301.43,453.65h5.20M304.03,451.05v5.20M226.20,464.14h5.20M228.80,461.54v5.20M227.46,463.92h5.20M230.06,461.32v5.20M70.31,491.44h5.20M72.91,488.84v5.20M315.38,453.10h5.20M317.98,450.50v5.20M224.05,464.36h5.20M226.65,461.76v5.20M91.32,483.79h5.20M93.92,481.19v5.20M49.12,512.55h5.20M51.72,509.95v5.20M69.99,492.38h5.20M72.59,489.78v5.20M132.82,474.22h5.20M135.42,471.62v5.20M71.91,491.44h5.20M74.51,488.84v5.20M99.11,480.57h5.20M101.71,477.97v5.20M181.85,467.62h5.20M184.45,465.02v5.20M100.12,480.57h5.20M102.72,477.97v5.20M108.00,478.26h5.20M110.60,475.66v5.20M257.17,458.40h5.20M259.77,455.80v5.20M84.62,487.00h5.20M87.22,484.40v5.20M138.61,473.23h5.20M141.21,470.63v5.20M221.72,464.58h5.20M224.32,461.98v5.20M290.06,454.51h5.20M292.66,451.91v5.20M228.85,463.92h5.20M231.45,461.32v5.20M93.60,482.71h5.20M96.20,480.11v5.20M155.58,470.59h5.20M158.18,467.99v5.20M163.46,469.60h5.20M166.06,467.00v5.20M58.73,496.35h5.20M61.33,493.75v5.20M166.66,469.16h5.20M169.26,466.56v5.20M94.57,482.71h5.20M97.17,480.11v5.20M65.60,493.32h5.20M68.20,490.72v5.20M132.27,474.22h5.20M134.87,471.62v5.20M320.84,453.10h5.20M323.44,450.50v5.20M55.42,498.98h5.20M58.02,496.38v5.20M251.52,459.60h5.20M254.12,457.00v5.20M292.12,454.51h5.20M294.72,451.91v5.20M285.66,454.67h5.20M288.26,452.07v5.20M319.89,453.10h5.20M322.49,450.50v5.20M96.29,481.64h5.20M98.89,479.04v5.20M288.16,454.59h5.20M290.76,451.99v5.20M56.72,497.50h5.20M59.32,494.90v5.20M317.86,453.10h5.20M320.46,450.50v5.20M246.23,460.40h5.20M248.83,457.80v5.20M160.41,469.93h5.20M163.01,467.33v5.20M88.02,485.93h5.20M90.62,483.33v5.20M131.50,474.22h5.20M134.10,471.62v5.20M318.51,453.10h5.20M321.11,450.50v5.20M81.79,487.70h5.20M84.39,485.10v5.20M223.93,464.36h5.20M226.53,461.76v5.20M49.70,511.00h5.20M52.30,508.40v5.20M251.47,459.60h5.20M254.07,457.00v5.20M94.70,482.71h5.20M97.30,480.11v5.20M209.38,465.30h5.20M211.98,462.70v5.20M74.28,490.50h5.20M76.88,487.90v5.20M326.74,453.10h5.20M329.34,450.50v5.20M286.25,454.67h5.20M288.85,452.07v5.20M301.48,453.65h5.20M304.08,451.05v5.20M94.94,482.71h5.20M97.54,480.11v5.20M299.17,454.20h5.20M301.77,451.60v5.20M91.26,483.79h5.20M93.86,481.19v5.20M155.64,470.59h5.20M158.24,467.99v5.20M85.87,487.00h5.20M88.47,484.40v5.20M201.51,465.70h5.20M204.11,463.10v5.20M145.87,472.24h5.20M148.47,469.64v5.20M49.30,512.55h5.20M51.90,509.95v5.20M94.65,482.71h5.20M97.25,480.11v5.20M179.31,468.06h5.20M181.91,465.46v5.20M172.83,468.72h5.20M175.43,466.12v5.20M212.70,465.10h5.20M215.30,462.50v5.20M276.81,454.99h5.20M279.41,452.39v5.20M317.72,453.10h5.20M320.32,450.50v5.20M93.44,483.79h5.20M96.04,481.19v5.20M118.99,476.20h5.20M121.59,473.60v5.20M126.13,475.21h5.20M128.73,472.61v5.20M49.64,511.00h5.20M52.24,508.40v5.20M79.02,489.10h5.20M81.62,486.50v5.20M46.75,514.10h5.20M49.35,511.50v5.20M101.59,479.50h5.20M104.19,476.90v5.20M194.48,466.33h5.20M197.08,463.73v5.20M70.64,491.44h5.20M73.24,488.84v5.20M67.67,493.32h5.20M70.27,490.72v5.20M72.72,490.50h5.20M75.32,487.90v5.20M182.88,467.62h5.20M185.48,465.02v5.20M294.60,454.36h5.20M297.20,451.76v5.20M93.92,482.71h5.20M96.52,480.11v5.20M202.60,465.60h5.20M205.20,463.00v5.20M148.52,471.91h5.20M151.12,469.31v5.20M228.90,463.92h5.20M231.50,461.32v5.20M311.75,453.10h5.20M314.35,450.50v5.20M316.17,453.10h5.20M318.77,450.50v5.20M53.40,503.40h5.20M56.00,500.80v5.20M60.84,495.20h5.20M63.44,492.60v5.20M109.98,477.85h5.20M112.58,475.25v5.20M330.88,453.10h5.20M333.48,450.50v5.20M149.92,471.58h5.20M152.52,468.98v5.20M284.98,454.75h5.20M287.58,452.15v5.20M223.93,464.36h5.20M226.53,461.76v5.20M66.01,493.32h5.20M68.61,490.72v5.20M226.20,464.14h5.20M228.80,461.54v5.20M269.34,455.30h5.20M271.94,452.70v5.20M309.33,453.10h5.20M311.93,450.50v5.20M56.01,498.98h5.20M58.61,496.38v5.20M195.54,466.07h5.20M198.14,463.47v5.20M236.04,462.44h5.20M238.64,459.84v5.20M96.75,481.64h5.20M99.35,479.04v5.20M183.09,467.62h5.20M185.69,465.02v5.20M55.87,498.98h5.20M58.47,496.38v5.20M215.36,465.00h5.20M217.96,462.40v5.20M230.88,463.70h5.20M233.48,461.10v5.20M46.50,514.10h5.20M49.10,511.50v5.20M232.79,463.28h5.20M235.39,460.68v5.20M221.10,464.58h5.20M223.70,461.98v5.20M328.18,453.10h5.20M330.78,450.50v5.20M94.54,482.71h5.20M97.14,480.11v5.20M309.79,453.10h5.20M312.39,450.50v5.20M148.68,471.91h5.20M151.28,469.31v5.20M299.49,454.20h5.20M302.09,451.60v5.20M248.96,460.00h5.20M251.56,457.40v5.20M228.71,463.92h5.20M231.31,461.32v5.20M68.28,492.38h5.20M70.88,489.78v5.20M89.44,484.86h5.20M92.04,482.26v5.20M50.77,507.96h5.20M53.37,505.36v5.20M145.30,472.24h5.20M147.90,469.64v5.20M57.47,497.50h5.20M60.07,494.90v5.20M321.55,453.10h5.20M324.15,450.50v5.20M130.59,474.55h5.20M133.19,471.95v5.20M153.52,470.92h5.20M156.12,468.32v5.20M168.51,468.94h5.20M171.11,466.34v5.20M231.64,463.28h5.20M234.24,460.68v5.20M135.54,473.89h5.20M138.14,471.29v5.20M258.47,458.40h5.20M261.07,455.80v5.20M222.07,464.58h5.20M224.67,461.98v5.20M241.75,461.60h5.20M244.35,459.00v5.20M85.91,487.00h5.20M88.51,484.40v5.20M114.28,477.02h5.20M116.88,474.42v5.20M275.45,455.06h5.20M278.05,452.46v5.20M285.13,454.75h5.20M287.73,452.15v5.20M202.06,465.60h5.20M204.66,463.00v5.20M48.52,512.55h5.20M51.12,509.95v5.20M246.65,460.40h5.20M249.25,457.80v5.20M54.35,500.45h5.20M56.95,497.85v5.20M81.05,488.40h5.20M83.65,485.80v5.20M46.04,514.10h5.20M48.64,511.50v5.20M104.34,479.09h5.20M106.94,476.49v5.20M303.81,453.10h5.20M306.41,450.50v5.20M65.29,494.26h5.20M67.89,491.66v5.20M307.93,453.10h5.20M310.53,450.50v5.20M123.62,475.54h5.20M126.22,472.94v5.20M119.01,476.20h5.20M121.61,473.60v5.20M166.85,469.16h5.20M169.45,466.56v5.20M52.67,503.40h5.20M55.27,500.80v5.20M77.29,489.10h5.20M79.89,486.50v5.20M215.84,465.00h5.20M218.44,462.40v5.20M102.33,479.50h5.20M104.93,476.90v5.20M246.80,460.40h5.20M249.40,457.80v5.20M171.07,468.72h5.20M173.67,466.12v5.20M321.02,453.10h5.20M323.62,450.50v5.20M52.73,503.40h5.20M55.33,500.80v5.20M236.31,462.44h5.20M238.91,459.84v5.20M242.31,461.20h5.20M244.91,458.60v5.20M266.88,455.92h5.20M269.48,453.32v5.20M59.83,496.35h5.20M62.43,493.75v5.20M85.77,487.00h5.20M88.37,484.40v5.20M269.09,455.30h5.20M271.69,452.70v5.20M93.75,482.71h5.20M96.35,480.11v5.20M228.28,463.92h5.20M230.88,461.32v5.20M70.53,491.44h5.20M73.13,488.84v5.20M199.75,465.70h5.20M202.35,463.10v5.20M216.99,464.90h5.20M219.59,462.30v5.20M101.53,479.50h5.20M104.13,476.90v5.20M185.44,467.40h5.20M188.04,464.80v5.20M50.50,509.48h5.20M53.10,506.88v5.20M91.86,483.79h5.20M94.46,481.19v5.20M220.07,464.80h5.20M222.67,462.20v5.20M212.03,465.20h5.20M214.63,462.60v5.20M87.19,485.93h5.20M89.79,483.33v5.20M227.63,463.92h5.20M230.23,461.32v5.20M75.27,489.80h5.20M77.87,487.20v5.20M260.57,457.78h5.20M263.17,455.18v5.20M243.86,461.20h5.20M246.46,458.60v5.20M265.84,455.92h5.20M268.44,453.32v5.20M119.68,476.20h5.20M122.28,473.60v5.20M53.13,503.40h5.20M55.73,500.80v5.20M58.57,496.35h5.20M61.17,493.75v5.20M177.56,468.06h5.20M180.16,465.46v5.20M331.10,453.10h5.20M333.70,450.50v5.20M162.33,469.60h5.20M164.93,467.00v5.20M66.62,493.32h5.20M69.22,490.72v5.20M182.40,467.62h5.20M185.00,465.02v5.20M242.95,461.20h5.20M245.55,458.60v5.20M259.05,457.78h5.20M261.65,455.18v5.20M54.69,500.45h5.20M57.29,497.85v5.20M169.02,468.94h5.20M171.62,466.34v5.20M229.67,463.70h5.20M232.27,461.10v5.20M119.14,476.20h5.20M121.74,473.60v5.20M243.46,461.20h5.20M246.06,458.60v5.20M134.41,473.89h5.20M137.01,471.29v5.20M332.90,453.10h5.20M335.50,450.50v5.20M212.46,465.10h5.20M215.06,462.50v5.20M161.10,469.93h5.20M163.70,467.33v5.20M107.24,478.26h5.20M109.84,475.66v5.20M332.13,453.10h5.20M334.73,450.50v5.20M68.84,492.38h5.20M71.44,489.78v5.20M212.88,465.10h5.20M215.48,462.50v5.20M55.01,500.45h5.20M57.61,497.85v5.20M259.75,457.78h5.20M262.35,455.18v5.20M57.03,497.50h5.20M59.63,494.90v5.20M60.71,496.35h5.20M63.31,493.75v5.20M52.85,503.40h5.20M55.45,500.80v5.20M256.99,458.40h5.20M259.59,455.80v5.20M60.96,495.20h5.20M63.56,492.60v5.20M78.32,489.10h5.20M80.92,486.50v5.20M276.74,454.99h5.20M279.34,452.39v5.20M81.21,488.40h5.20M83.81,485.80v5.20M151.69,471.25h5.20M154.29,468.65v5.20M66.00,493.32h5.20M68.60,490.72v5.20M306.92,453.10h5.20M309.52,450.50v5.20M102.22,479.50h5.20M104.82,476.90v5.20M298.78,454.28h5.20M301.38,451.68v5.20M168.37,469.16h5.20M170.97,466.56v5.20M208.61,465.30h5.20M211.21,462.70v5.20M163.47,469.60h5.20M166.07,467.00v5.20M248.48,460.00h5.20M251.08,457.40v5.20M86.36,487.00h5.20M88.96,484.40v5.20M65.01,494.26h5.20M67.61,491.66v5.20M125.21,475.21h5.20M127.81,472.61v5.20M99.35,480.57h5.20M101.95,477.97v5.20M307.92,453.10h5.20M310.52,450.50v5.20M286.14,454.67h5.20M288.74,452.07v5.20M81.16,488.40h5.20M83.76,485.80v5.20M125.08,475.21h5.20M127.68,472.61v5.20M150.56,471.58h5.20M153.16,468.98v5.20M288.98,454.59h5.20M291.58,451.99v5.20M48.95,512.55h5.20M51.55,509.95v5.20M209.91,465.30h5.20M212.51,462.70v5.20M313.60,453.10h5.20M316.20,450.50v5.20M285.00,454.75h5.20M287.60,452.15v5.20M103.59,479.09h5.20M106.19,476.49v5.20M136.39,473.56h5.20M138.99,470.96v5.20M135.86,473.56h5.20M138.46,470.96v5.20M95.67,482.71h5.20M98.27,480.11v5.20M147.96,471.91h5.20M150.56,469.31v5.20M296.18,454.36h5.20M298.78,451.76v5.20M98.05,481.64h5.20M100.65,479.04v5.20M269.54,455.30h5.20M272.14,452.70v5.20M247.68,460.40h5.20M250.28,457.80v5.20M270.14,455.22h5.20M272.74,452.62v5.20M225.77,464.14h5.20M228.37,461.54v5.20M278.92,454.91h5.20M281.52,452.31v5.20M186.83,467.13h5.20M189.43,464.53v5.20M274.87,455.06h5.20M277.47,452.46v5.20M282.81,454.83h5.20M285.41,452.23v5.20M292.52,454.44h5.20M295.12,451.84v5.20M326.87,453.10h5.20M329.47,450.50v5.20M232.67,463.28h5.20M235.27,460.68v5.20M52.52,504.92h5.20M55.12,502.32v5.20M189.37,466.87h5.20M191.97,464.27v5.20M126.38,475.21h5.20M128.98,472.61v5.20M262.78,457.16h5.20M265.38,454.56v5.20M89.62,484.86h5.20M92.22,482.26v5.20M98.48,480.57h5.20M101.08,477.97v5.20M120.35,475.87h5.20M122.95,473.27v5.20M265.66,455.92h5.20M268.26,453.32v5.20M55.28,498.98h5.20M57.88,496.38v5.20M250.75,459.60h5.20M253.35,457.00v5.20M162.78,469.60h5.20M165.38,467.00v5.20M269.46,455.30h5.20M272.06,452.70v5.20M117.30,476.61h5.20M119.90,474.01v5.20M299.99,454.20h5.20M302.59,451.60v5.20M300.54,454.20h5.20M303.14,451.60v5.20M117.82,476.61h5.20M120.42,474.01v5.20M197.62,465.80h5.20M200.22,463.20v5.20M203.40,465.60h5.20M206.00,463.00v5.20M180.48,467.84h5.20M183.08,465.24v5.20M150.69,471.58h5.20M153.29,468.98v5.20M227.52,463.92h5.20M230.12,461.32v5.20M132.04,474.22h5.20M134.64,471.62v5.20M325.33,453.10h5.20M327.93,450.50v5.20M67.56,493.32h5.20M70.16,490.72v5.20M51.06,507.96h5.20M53.66,505.36v5.20M154.71,470.92h5.20M157.31,468.32v5.20M151.15,471.25h5.20M153.75,468.65v5.20M183.41,467.62h5.20M186.01,465.02v5.20M263.82,456.54h5.20M266.42,453.94v5.20M92.93,483.79h5.20M95.53,481.19v5.20M267.80,455.30h5.20M270.40,452.70v5.20M296.72,454.36h5.20M299.32,451.76v5.20M153.97,470.92h5.20M156.57,468.32v5.20M241.68,461.60h5.20M244.28,459.00v5.20M87.17,485.93h5.20M89.77,483.33v5.20M121.89,475.87h5.20M124.49,473.27v5.20M83.04,487.70h5.20M85.64,485.10v5.20M176.50,468.28h5.20M179.10,465.68v5.20M72.30,491.44h5.20M74.90,488.84v5.20M321.04,453.10h5.20M323.64,450.50v5.20M265.57,455.92h5.20M268.17,453.32v5.20M320.73,453.10h5.20M323.33,450.50v5.20M256.42,458.80h5.20M259.02,456.20v5.20M133.26,474.22h5.20M135.86,471.62v5.20M88.87,484.86h5.20M91.47,482.26v5.20M177.01,468.28h5.20M179.61,465.68v5.20M301.01,454.20h5.20M303.61,451.60v5.20M179.27,468.06h5.20M181.87,465.46v5.20M193.19,466.33h5.20M195.79,463.73v5.20M218.18,464.90h5.20M220.78,462.30v5.20M152.27,471.25h5.20M154.87,468.65v5.20M101.20,479.50h5.20M103.80,476.90v5.20M149.88,471.58h5.20M152.48,468.98v5.20M164.29,469.38h5.20M166.89,466.78v5.20M46.25,514.10h5.20M48.85,511.50v5.20M243.42,461.20h5.20M246.02,458.60v5.20M96.49,481.64h5.20M99.09,479.04v5.20" fill="none" stroke="#374E55" stroke-width="1.3"/>
<path d="M48.20,514.10H48.78V512.58H49.35V511.05H49.92V509.52H50.50V508.00H50.79V506.40H51.08V504.80H51.36V503.20H51.65V501.60H51.94V500.00H52.22V498.40H52.51V496.80H52.80V495.20H53.10V493.74H53.40V492.27H53.70V490.81H54.00V489.35H54.30V487.89H54.60V486.43H54.90V484.96H55.20V483.50H56.08V482.12H56.95V480.75H57.83V479.38H58.70V478.00H59.40V476.50H60.10V475.00H60.80V473.50H61.50V472.00H62.62V470.57H63.75V469.15H64.88V467.73H66.00V466.30H67.36V464.80H68.72V463.30H70.09V461.80H71.45V460.30H72.81V458.80H74.18V457.30H75.54V455.80H76.90V454.30H79.32V452.84H81.74V451.38H84.16V449.92H86.58V448.46H89.00V447.00H90.70V445.48H92.40V443.95H94.10V442.42H95.80V440.90H98.15V439.72H100.50V438.55H102.85V437.38H105.20V436.20H106.65V434.75H108.10V433.30H109.55V431.85H111.00V430.40H112.40V429.10H113.80V427.80H115.20V426.50H116.60V425.20H118.00V423.90H120.05V423.17H122.10V422.45H124.15V421.73H126.20V421.00H128.30V420.54H130.40V420.08H132.50V419.62H134.60V419.16H136.70V418.70H139.05V417.82H141.40V416.95H143.75V416.07H146.10V415.20H148.43V414.62H150.77V414.03H153.10V413.45H155.43V412.87H157.77V412.28H160.10V411.70H162.40V411.10H164.70V410.50H166.47V408.93H168.23V407.37H170.00V405.80H172.40V405.20H174.80V404.60H177.20V404.00H179.60V403.40H182.00V402.80H184.25V402.35H186.50V401.90H188.75V401.45H191.00V401.00H193.25V400.55H195.50V400.10H197.75V399.65H200.00V399.20H202.11V398.74H204.23V398.29H206.34V397.83H208.46V397.37H210.57V396.91H212.69V396.46H214.80V396.00H216.93V394.81H219.05V393.62H221.18V392.44H223.30V391.25H225.43V390.06H227.55V388.88H229.68V387.69H231.80V386.50L248.70,386.50H250.80V386.00H252.90V385.50H255.00V385.00L282.60,385.00H284.00V383.73H285.40V382.47H286.80V381.20H288.91V381.04H291.03V380.89H293.14V380.73H295.26V380.57H297.37V380.41H299.49V380.26H301.60V380.10H303.73V379.05H305.85V378.00H307.98V376.95H310.10V375.90H312.21V375.76H314.33V375.62H316.44V375.49H318.55V375.35H320.66V375.21H322.77V375.07H324.89V374.94H327.00V374.80H329.10V373.75H331.20V372.70L337.60,372.70" fill="none" stroke="#DF8F44" stroke-width="1.5"/>
<path d="M162.41,410.50h5.20M165.01,407.90v5.20M192.68,400.55h5.20M195.28,397.95v5.20M73.74,455.80h5.20M76.34,453.20v5.20M228.67,387.69h5.20M231.27,385.09v5.20M226.46,388.88h5.20M229.06,386.27v5.20M91.23,443.95h5.20M93.83,441.35v5.20M305.49,376.95h5.20M308.09,374.35v5.20M312.66,375.62h5.20M315.26,373.02v5.20M52.32,484.96h5.20M54.92,482.36v5.20M271.10,385.00h5.20M273.70,382.40v5.20M61.67,469.15h5.20M64.27,466.55v5.20M205.85,397.83h5.20M208.45,395.23v5.20M108.06,431.85h5.20M110.66,429.25v5.20M84.46,448.46h5.20M87.06,445.86v5.20M65.32,464.80h5.20M67.92,462.20v5.20M195.83,399.65h5.20M198.43,397.05v5.20M65.06,464.80h5.20M67.66,462.20v5.20M52.36,484.96h5.20M54.96,482.36v5.20M103.33,436.20h5.20M105.93,433.60v5.20M69.50,460.30h5.20M72.10,457.70v5.20M138.74,417.82h5.20M141.34,415.22v5.20M155.04,412.87h5.20M157.64,410.27v5.20M148.63,414.03h5.20M151.23,411.43v5.20M186.48,401.45h5.20M189.08,398.85v5.20M66.22,463.30h5.20M68.82,460.70v5.20M224.88,390.06h5.20M227.48,387.46v5.20M126.44,420.54h5.20M129.04,417.94v5.20M132.74,419.16h5.20M135.34,416.56v5.20M219.41,392.44h5.20M222.01,389.84v5.20M64.58,466.30h5.20M67.18,463.70v5.20M179.41,402.80h5.20M182.01,400.20v5.20M281.02,385.00h5.20M283.62,382.40v5.20M112.08,427.80h5.20M114.68,425.20v5.20M304.10,378.00h5.20M306.70,375.40v5.20M134.80,418.70h5.20M137.40,416.10v5.20M173.79,404.60h5.20M176.39,402.00v5.20M245.24,386.50h5.20M247.84,383.90v5.20M61.56,469.15h5.20M64.16,466.55v5.20M282.51,383.73h5.20M285.11,381.13v5.20M187.67,401.45h5.20M190.27,398.85v5.20M108.32,431.85h5.20M110.92,429.25v5.20M173.17,404.60h5.20M175.77,402.00v5.20M69.01,460.30h5.20M71.61,457.70v5.20M298.58,380.26h5.20M301.18,377.66v5.20M48.28,506.40h5.20M50.88,503.80v5.20M151.66,413.45h5.20M154.26,410.85v5.20M113.85,426.50h5.20M116.45,423.90v5.20M110.54,429.10h5.20M113.14,426.50v5.20M308.85,375.90h5.20M311.45,373.30v5.20M148.94,414.03h5.20M151.54,411.43v5.20M120.75,422.45h5.20M123.35,419.85v5.20M259.59,385.00h5.20M262.19,382.40v5.20M114.54,425.20h5.20M117.14,422.60v5.20M113.88,426.50h5.20M116.48,423.90v5.20M168.06,405.80h5.20M170.66,403.20v5.20M106.69,433.30h5.20M109.29,430.70v5.20M65.70,464.80h5.20M68.30,462.20v5.20M47.96,508.00h5.20M50.56,505.40v5.20M50.74,493.74h5.20M53.34,491.14v5.20M62.53,467.73h5.20M65.13,465.12v5.20M50.28,495.20h5.20M52.88,492.60v5.20M241.37,386.50h5.20M243.97,383.90v5.20M303.14,379.05h5.20M305.74,376.45v5.20M174.41,404.60h5.20M177.01,402.00v5.20M53.41,483.50h5.20M56.01,480.90v5.20M134.55,418.70h5.20M137.15,416.10v5.20M243.71,386.50h5.20M246.31,383.90v5.20M119.69,422.45h5.20M122.29,419.85v5.20M290.02,380.89h5.20M292.62,378.29v5.20M190.60,401.00h5.20M193.20,398.40v5.20M49.07,501.60h5.20M51.67,499.00v5.20M58.22,473.50h5.20M60.82,470.90v5.20M226.29,388.88h5.20M228.89,386.27v5.20M56.21,478.00h5.20M58.81,475.40v5.20M69.68,460.30h5.20M72.28,457.70v5.20M216.39,394.81h5.20M218.99,392.21v5.20M113.97,426.50h5.20M116.57,423.90v5.20M137.37,417.82h5.20M139.97,415.22v5.20M86.80,447.00h5.20M89.40,444.40v5.20M326.49,374.80h5.20M329.09,372.20v5.20M223.20,390.06h5.20M225.80,387.46v5.20M69.06,460.30h5.20M71.66,457.70v5.20M110.83,429.10h5.20M113.43,426.50v5.20M50.66,493.74h5.20M53.26,491.14v5.20M216.52,393.62h5.20M219.12,391.02v5.20M138.31,417.82h5.20M140.91,415.22v5.20M182.67,402.35h5.20M185.27,399.75v5.20M291.81,380.73h5.20M294.41,378.13v5.20M107.52,431.85h5.20M110.12,429.25v5.20M313.54,375.62h5.20M316.14,373.02v5.20M304.44,378.00h5.20M307.04,375.40v5.20M61.35,469.15h5.20M63.95,466.55v5.20M118.87,423.17h5.20M121.47,420.57v5.20M46.06,514.10h5.20M48.66,511.50v5.20M266.61,385.00h5.20M269.21,382.40v5.20M46.63,512.58h5.20M49.23,509.98v5.20M129.21,420.08h5.20M131.81,417.48v5.20M181.04,402.80h5.20M183.64,400.20v5.20M127.72,420.54h5.20M130.32,417.94v5.20M320.02,375.21h5.20M322.62,372.61v5.20M195.86,399.65h5.20M198.46,397.05v5.20M115.95,423.90h5.20M118.55,421.30v5.20M300.68,380.10h5.20M303.28,377.50v5.20M275.07,385.00h5.20M277.67,382.40v5.20M333.00,372.70h5.20M335.60,370.10v5.20M103.70,436.20h5.20M106.30,433.60v5.20M89.14,445.48h5.20M91.74,442.88v5.20M64.57,466.30h5.20M67.17,463.70v5.20M153.48,412.87h5.20M156.08,410.27v5.20M305.55,376.95h5.20M308.15,374.35v5.20M309.10,375.90h5.20M311.70,373.30v5.20M63.13,467.73h5.20M65.73,465.12v5.20M181.44,402.80h5.20M184.04,400.20v5.20M184.86,401.90h5.20M187.46,399.30v5.20M307.68,375.90h5.20M310.28,373.30v5.20M250.52,385.50h5.20M253.12,382.90v5.20M91.69,442.42h5.20M94.29,439.82v5.20M287.25,381.04h5.20M289.85,378.44v5.20M233.54,386.50h5.20M236.14,383.90v5.20M240.16,386.50h5.20M242.76,383.90v5.20M53.91,482.12h5.20M56.51,479.52v5.20M227.53,387.69h5.20M230.13,385.09v5.20M208.56,396.91h5.20M211.16,394.31v5.20M115.29,425.20h5.20M117.89,422.60v5.20M313.83,375.62h5.20M316.43,373.02v5.20M133.20,419.16h5.20M135.80,416.56v5.20M273.34,385.00h5.20M275.94,382.40v5.20M143.18,416.07h5.20M145.78,413.47v5.20M125.60,421.00h5.20M128.20,418.40v5.20M148.44,414.03h5.20M151.04,411.43v5.20M231.65,386.50h5.20M234.25,383.90v5.20M216.56,393.62h5.20M219.16,391.02v5.20M332.06,372.70h5.20M334.66,370.10v5.20M231.42,386.50h5.20M234.02,383.90v5.20M202.42,398.29h5.20M205.02,395.69v5.20M85.95,448.46h5.20M88.55,445.86v5.20M48.90,503.20h5.20M51.50,500.60v5.20M52.56,484.96h5.20M55.16,482.36v5.20M294.84,380.41h5.20M297.44,377.81v5.20M146.93,414.62h5.20M149.53,412.02v5.20M228.62,387.69h5.20M231.22,385.09v5.20M109.71,430.40h5.20M112.31,427.80v5.20M69.04,460.30h5.20M71.64,457.70v5.20M255.71,385.00h5.20M258.31,382.40v5.20M70.89,458.80h5.20M73.49,456.20v5.20M107.19,431.85h5.20M109.79,429.25v5.20M308.50,375.90h5.20M311.10,373.30v5.20M259.31,385.00h5.20M261.91,382.40v5.20M301.59,379.05h5.20M304.19,376.45v5.20M300.30,380.10h5.20M302.90,377.50v5.20M326.02,374.80h5.20M328.62,372.20v5.20M200.64,398.74h5.20M203.24,396.14v5.20M282.02,383.73h5.20M284.62,381.13v5.20M55.15,480.75h5.20M57.75,478.15v5.20M271.22,385.00h5.20M273.82,382.40v5.20M233.12,386.50h5.20M235.72,383.90v5.20M145.42,415.20h5.20M148.02,412.60v5.20M322.13,375.07h5.20M324.73,372.47v5.20M65.69,464.80h5.20M68.29,462.20v5.20M173.17,404.60h5.20M175.77,402.00v5.20M66.31,463.30h5.20M68.91,460.70v5.20M146.98,414.62h5.20M149.58,412.02v5.20M90.43,443.95h5.20M93.03,441.35v5.20M174.03,404.60h5.20M176.63,402.00v5.20M186.51,401.45h5.20M189.11,398.85v5.20M293.43,380.57h5.20M296.03,377.97v5.20M320.14,375.21h5.20M322.74,372.61v5.20M60.68,470.57h5.20M63.28,467.97v5.20M323.10,374.94h5.20M325.70,372.34v5.20M170.55,405.20h5.20M173.15,402.60v5.20M48.53,504.80h5.20M51.13,502.20v5.20M58.40,473.50h5.20M61.00,470.90v5.20M200.70,398.74h5.20M203.30,396.14v5.20M315.29,375.49h5.20M317.89,372.89v5.20M113.93,426.50h5.20M116.53,423.90v5.20M202.78,398.29h5.20M205.38,395.69v5.20M285.62,381.20h5.20M288.22,378.60v5.20M113.45,426.50h5.20M116.05,423.90v5.20M100.18,438.55h5.20M102.78,435.95v5.20M86.33,448.46h5.20M88.93,445.86v5.20M50.80,492.27h5.20M53.40,489.67v5.20M172.69,404.60h5.20M175.29,402.00v5.20M160.07,411.10h5.20M162.67,408.50v5.20M270.87,385.00h5.20M273.47,382.40v5.20M220.54,392.44h5.20M223.14,389.84v5.20M332.94,372.70h5.20M335.54,370.10v5.20M224.95,388.88h5.20M227.55,386.27v5.20M49.75,498.40h5.20M52.35,495.80v5.20M322.95,374.94h5.20M325.55,372.34v5.20M177.02,403.40h5.20M179.62,400.80v5.20M131.80,419.62h5.20M134.40,417.02v5.20M188.00,401.45h5.20M190.60,398.85v5.20M46.87,511.05h5.20M49.47,508.45v5.20M69.98,460.30h5.20M72.58,457.70v5.20M55.17,480.75h5.20M57.77,478.15v5.20M91.30,443.95h5.20M93.90,441.35v5.20M162.67,410.50h5.20M165.27,407.90v5.20M323.14,374.94h5.20M325.74,372.34v5.20M220.84,391.25h5.20M223.44,388.65v5.20M279.48,385.00h5.20M282.08,382.40v5.20M56.62,478.00h5.20M59.22,475.40v5.20M90.05,443.95h5.20M92.65,441.35v5.20M113.53,426.50h5.20M116.13,423.90v5.20M318.05,375.35h5.20M320.65,372.75v5.20M332.59,372.70h5.20M335.19,370.10v5.20M208.31,396.91h5.20M210.91,394.31v5.20M238.52,386.50h5.20M241.12,383.90v5.20M113.86,426.50h5.20M116.46,423.90v5.20M86.64,447.00h5.20M89.24,444.40v5.20M63.60,466.30h5.20M66.20,463.70v5.20M187.95,401.45h5.20M190.55,398.85v5.20M65.45,464.80h5.20M68.05,462.20v5.20M180.66,402.80h5.20M183.26,400.20v5.20M128.94,420.08h5.20M131.54,417.48v5.20M47.36,509.52h5.20M49.96,506.92v5.20M132.50,419.16h5.20M135.10,416.56v5.20M233.29,386.50h5.20M235.89,383.90v5.20M259.06,385.00h5.20M261.66,382.40v5.20M53.89,482.12h5.20M56.49,479.52v5.20M120.19,422.45h5.20M122.79,419.85v5.20M246.57,386.50h5.20M249.17,383.90v5.20M216.10,394.81h5.20M218.70,392.21v5.20M142.33,416.07h5.20M144.93,413.47v5.20M306.66,376.95h5.20M309.26,374.35v5.20M68.94,460.30h5.20M71.54,457.70v5.20M52.10,486.43h5.20M54.70,483.82v5.20M53.17,483.50h5.20M55.77,480.90v5.20M132.65,419.16h5.20M135.25,416.56v5.20M163.75,410.50h5.20M166.35,407.90v5.20M84.35,448.46h5.20M86.95,445.86v5.20M101.01,437.38h5.20M103.61,434.77v5.20M302.63,379.05h5.20M305.23,376.45v5.20M134.49,418.70h5.20M137.09,416.10v5.20M49.37,500.00h5.20M51.97,497.40v5.20M280.91,385.00h5.20M283.51,382.40v5.20M64.25,466.30h5.20M66.85,463.70v5.20M50.35,495.20h5.20M52.95,492.60v5.20M107.10,431.85h5.20M109.70,429.25v5.20M241.31,386.50h5.20M243.91,383.90v5.20M160.19,411.10h5.20M162.79,408.50v5.20M215.25,394.81h5.20M217.85,392.21v5.20M212.39,396.00h5.20M214.99,393.40v5.20M299.01,380.10h5.20M301.61,377.50v5.20M77.68,452.84h5.20M80.28,450.24v5.20M71.69,457.30h5.20M74.29,454.70v5.20M220.69,392.44h5.20M223.29,389.84v5.20M107.34,431.85h5.20M109.94,429.25v5.20M214.80,394.81h5.20M217.40,392.21v5.20M125.05,421.00h5.20M127.65,418.40v5.20M134.47,418.70h5.20M137.07,416.10v5.20M51.26,490.81h5.20M53.86,488.21v5.20M334.49,372.70h5.20M337.09,370.10v5.20M54.79,480.75h5.20M57.39,478.15v5.20M153.29,412.87h5.20M155.89,410.27v5.20M215.38,394.81h5.20M217.98,392.21v5.20M260.46,385.00h5.20M263.06,382.40v5.20M309.22,375.90h5.20M311.82,373.30v5.20M148.50,414.03h5.20M151.10,411.43v5.20M150.80,413.45h5.20M153.40,410.85v5.20M220.06,392.44h5.20M222.66,389.84v5.20M183.85,402.35h5.20M186.45,399.75v5.20M49.54,500.00h5.20M52.14,497.40v5.20M255.52,385.00h5.20M258.12,382.40v5.20M104.13,434.75h5.20M106.73,432.15v5.20M185.53,401.90h5.20M188.13,399.30v5.20M110.77,429.10h5.20M113.37,426.50v5.20M115.00,425.20h5.20M117.60,422.60v5.20M93.16,442.42h5.20M95.76,439.82v5.20M136.46,417.82h5.20M139.06,415.22v5.20M53.24,483.50h5.20M55.84,480.90v5.20M285.55,381.20h5.20M288.15,378.60v5.20M64.59,466.30h5.20M67.19,463.70v5.20M227.32,387.69h5.20M229.92,385.09v5.20M118.83,423.17h5.20M121.43,420.57v5.20M45.62,514.10h5.20M48.22,511.50v5.20M112.42,427.80h5.20M115.02,425.20v5.20M330.64,372.70h5.20M333.24,370.10v5.20M302.80,379.05h5.20M305.40,376.45v5.20M285.44,381.20h5.20M288.04,378.60v5.20M323.65,374.94h5.20M326.25,372.34v5.20M315.03,375.49h5.20M317.63,372.89v5.20M72.28,457.30h5.20M74.88,454.70v5.20M151.29,413.45h5.20M153.89,410.85v5.20M116.45,423.90h5.20M119.05,421.30v5.20M186.65,401.45h5.20M189.25,398.85v5.20M92.35,442.42h5.20M94.95,439.82v5.20M158.46,411.70h5.20M161.06,409.10v5.20M212.59,396.00h5.20M215.19,393.40v5.20M166.12,407.37h5.20M168.72,404.77v5.20M249.68,386.00h5.20M252.28,383.40v5.20M266.68,385.00h5.20M269.28,382.40v5.20M86.22,448.46h5.20M88.82,445.86v5.20M160.66,411.10h5.20M163.26,408.50v5.20M96.49,439.72h5.20M99.09,437.12v5.20M226.69,388.88h5.20M229.29,386.27v5.20M152.21,413.45h5.20M154.81,410.85v5.20M75.39,454.30h5.20M77.99,451.70v5.20M111.63,427.80h5.20M114.23,425.20v5.20M113.66,426.50h5.20M116.26,423.90v5.20M232.70,386.50h5.20M235.30,383.90v5.20M83.46,449.92h5.20M86.06,447.32v5.20M209.40,396.91h5.20M212.00,394.31v5.20M203.09,398.29h5.20M205.69,395.69v5.20M89.90,443.95h5.20M92.50,441.35v5.20M112.65,426.50h5.20M115.25,423.90v5.20M321.28,375.07h5.20M323.88,372.47v5.20M216.38,394.81h5.20M218.98,392.21v5.20M258.73,385.00h5.20M261.33,382.40v5.20M107.11,431.85h5.20M109.71,429.25v5.20M272.74,385.00h5.20M275.34,382.40v5.20M153.69,412.87h5.20M156.29,410.27v5.20M90.63,443.95h5.20M93.23,441.35v5.20M226.85,388.88h5.20M229.45,386.27v5.20M281.21,385.00h5.20M283.81,382.40v5.20M137.44,417.82h5.20M140.04,415.22v5.20M104.01,436.20h5.20M106.61,433.60v5.20M69.06,460.30h5.20M71.66,457.70v5.20M95.37,440.90h5.20M97.97,438.30v5.20M281.86,383.73h5.20M284.46,381.13v5.20M282.65,383.73h5.20M285.25,381.13v5.20M134.55,418.70h5.20M137.15,416.10v5.20M248.99,386.00h5.20M251.59,383.40v5.20M58.13,475.00h5.20M60.73,472.40v5.20M137.38,417.82h5.20M139.98,415.22v5.20M188.97,401.00h5.20M191.57,398.40v5.20M48.01,508.00h5.20M50.61,505.40v5.20M117.47,423.17h5.20M120.07,420.57v5.20M116.96,423.90h5.20M119.56,421.30v5.20M106.49,433.30h5.20M109.09,430.70v5.20M197.80,399.20h5.20M200.40,396.60v5.20M48.09,508.00h5.20M50.69,505.40v5.20M193.56,400.10h5.20M196.16,397.50v5.20M74.10,455.80h5.20M76.70,453.20v5.20M301.62,379.05h5.20M304.22,376.45v5.20M185.19,401.90h5.20M187.79,399.30v5.20M104.10,434.75h5.20M106.70,432.15v5.20M104.98,434.75h5.20M107.58,432.15v5.20M191.80,400.55h5.20M194.40,397.95v5.20M57.65,475.00h5.20M60.25,472.40v5.20M101.23,437.38h5.20M103.83,434.77v5.20M113.86,426.50h5.20M116.46,423.90v5.20M57.49,476.50h5.20M60.09,473.90v5.20M83.63,449.92h5.20M86.23,447.32v5.20M85.40,448.46h5.20M88.00,445.86v5.20M115.48,423.90h5.20M118.08,421.30v5.20M274.77,385.00h5.20M277.37,382.40v5.20M91.12,443.95h5.20M93.72,441.35v5.20M152.80,413.45h5.20M155.40,410.85v5.20M50.02,496.80h5.20M52.62,494.20v5.20M80.65,451.38h5.20M83.25,448.78v5.20M252.07,385.50h5.20M254.67,382.90v5.20M173.13,404.60h5.20M175.73,402.00v5.20M255.29,385.00h5.20M257.89,382.40v5.20M89.38,445.48h5.20M91.98,442.88v5.20M138.78,417.82h5.20M141.38,415.22v5.20M53.00,483.50h5.20M55.60,480.90v5.20M74.31,454.30h5.20M76.91,451.70v5.20M53.55,482.12h5.20M56.15,479.52v5.20M114.61,425.20h5.20M117.21,422.60v5.20M160.47,411.10h5.20M163.07,408.50v5.20M223.92,390.06h5.20M226.52,387.46v5.20M326.86,373.75h5.20M329.46,371.15v5.20M160.94,411.10h5.20M163.54,408.50v5.20M117.17,423.90h5.20M119.77,421.30v5.20M76.42,454.30h5.20M79.02,451.70v5.20M111.67,427.80h5.20M114.27,425.20v5.20M196.42,399.65h5.20M199.02,397.05v5.20M93.40,440.90h5.20M96.00,438.30v5.20M318.84,375.21h5.20M321.44,372.61v5.20M57.26,476.50h5.20M59.86,473.90v5.20M166.21,407.37h5.20M168.81,404.77v5.20M106.73,433.30h5.20M109.33,430.70v5.20M107.56,431.85h5.20M110.16,429.25v5.20M318.82,375.21h5.20M321.42,372.61v5.20M123.94,421.00h5.20M126.54,418.40v5.20M213.61,396.00h5.20M216.21,393.40v5.20M139.75,416.95h5.20M142.35,414.35v5.20M83.47,449.92h5.20M86.07,447.32v5.20M145.44,415.20h5.20M148.04,412.60v5.20M116.90,423.90h5.20M119.50,421.30v5.20M48.54,504.80h5.20M51.14,502.20v5.20M321.62,375.07h5.20M324.22,372.47v5.20M215.38,394.81h5.20M217.98,392.21v5.20M148.63,414.03h5.20M151.23,411.43v5.20M68.37,461.80h5.20M70.97,459.20v5.20M221.25,391.25h5.20M223.85,388.65v5.20M206.15,397.37h5.20M208.75,394.77v5.20M195.54,399.65h5.20M198.14,397.05v5.20M160.52,411.10h5.20M163.12,408.50v5.20M172.52,404.60h5.20M175.12,402.00v5.20M151.94,413.45h5.20M154.54,410.85v5.20M60.37,470.57h5.20M62.97,467.97v5.20M217.61,393.62h5.20M220.21,391.02v5.20M196.90,399.65h5.20M199.50,397.05v5.20M179.90,402.80h5.20M182.50,400.20v5.20M140.75,416.95h5.20M143.35,414.35v5.20M178.81,403.40h5.20M181.41,400.80v5.20M113.23,426.50h5.20M115.83,423.90v5.20M324.02,374.94h5.20M326.62,372.34v5.20M208.20,396.91h5.20M210.80,394.31v5.20M192.97,400.10h5.20M195.57,397.50v5.20M309.55,375.90h5.20M312.15,373.30v5.20M233.72,386.50h5.20M236.32,383.90v5.20M280.25,385.00h5.20M282.85,382.40v5.20M266.77,385.00h5.20M269.37,382.40v5.20M47.84,509.52h5.20M50.44,506.92v5.20M138.40,417.82h5.20M141.00,415.22v5.20M219.71,392.44h5.20M222.31,389.84v5.20M284.63,381.20h5.20M287.23,378.60v5.20M297.60,380.26h5.20M300.20,377.66v5.20M48.28,506.40h5.20M50.88,503.80v5.20M50.82,492.27h5.20M53.42,489.67v5.20M197.66,399.20h5.20M200.26,396.60v5.20M65.16,464.80h5.20M67.76,462.20v5.20M93.06,442.42h5.20M95.66,439.82v5.20M300.85,380.10h5.20M303.45,377.50v5.20M331.42,372.70h5.20M334.02,370.10v5.20M260.15,385.00h5.20M262.75,382.40v5.20M307.10,376.95h5.20M309.70,374.35v5.20M233.05,386.50h5.20M235.65,383.90v5.20M53.41,483.50h5.20M56.01,480.90v5.20M173.67,404.60h5.20M176.27,402.00v5.20M283.00,382.47h5.20M285.60,379.87v5.20M223.81,390.06h5.20M226.41,387.46v5.20M264.98,385.00h5.20M267.58,382.40v5.20M72.88,457.30h5.20M75.48,454.70v5.20M94.95,440.90h5.20M97.55,438.30v5.20M259.24,385.00h5.20M261.84,382.40v5.20M221.54,391.25h5.20M224.14,388.65v5.20M79.67,451.38h5.20M82.27,448.78v5.20M316.73,375.35h5.20M319.33,372.75v5.20M160.95,411.10h5.20M163.55,408.50v5.20M48.40,506.40h5.20M51.00,503.80v5.20M244.00,386.50h5.20M246.60,383.90v5.20M111.49,427.80h5.20M114.09,425.20v5.20M110.83,429.10h5.20M113.43,426.50v5.20M210.94,396.46h5.20M213.54,393.86v5.20M164.14,408.93h5.20M166.74,406.33v5.20M304.25,378.00h5.20M306.85,375.40v5.20M161.61,411.10h5.20M164.21,408.50v5.20M72.56,457.30h5.20M75.16,454.70v5.20M112.34,427.80h5.20M114.94,425.20v5.20M53.72,482.12h5.20M56.32,479.52v5.20M202.65,398.29h5.20M205.25,395.69v5.20M116.59,423.90h5.20M119.19,421.30v5.20M77.78,452.84h5.20M80.38,450.24v5.20M46.06,514.10h5.20M48.66,511.50v5.20M87.81,447.00h5.20M90.41,444.40v5.20M173.64,404.60h5.20M176.24,402.00v5.20M199.78,398.74h5.20M202.38,396.14v5.20M250.91,385.50h5.20M253.51,382.90v5.20M285.86,381.20h5.20M288.46,378.60v5.20M218.18,393.62h5.20M220.78,391.02v5.20M138.03,417.82h5.20M140.63,415.22v5.20M316.35,375.35h5.20M318.95,372.75v5.20M54.71,480.75h5.20M57.31,478.15v5.20M160.14,411.10h5.20M162.74,408.50v5.20M78.82,452.84h5.20M81.42,450.24v5.20M119.81,422.45h5.20M122.41,419.85v5.20M69.64,460.30h5.20M72.24,457.70v5.20M70.86,458.80h5.20M73.46,456.20v5.20M168.46,405.80h5.20M171.06,403.20v5.20M159.42,411.70h5.20M162.02,409.10v5.20M47.86,509.52h5.20M50.46,506.92v5.20M72.99,455.80h5.20M75.59,453.20v5.20M247.30,386.50h5.20M249.90,383.90v5.20M167.92,405.80h5.20M170.52,403.20v5.20M260.86,385.00h5.20M263.46,382.40v5.20M233.06,386.50h5.20M235.66,383.90v5.20M180.86,402.80h5.20M183.46,400.20v5.20M116.38,423.90h5.20M118.98,421.30v5.20M50.99,492.27h5.20M53.59,489.67v5.20M218.90,392.44h5.20M221.50,389.84v5.20M173.96,404.60h5.20M176.56,402.00v5.20M55.08,480.75h5.20M57.68,478.15v5.20M286.42,381.04h5.20M289.02,378.44v5.20M84.18,448.46h5.20M86.78,445.86v5.20M86.55,447.00h5.20M89.15,444.40v5.20M153.42,412.87h5.20M156.02,410.27v5.20M98.98,438.55h5.20M101.58,435.95v5.20M117.02,423.90h5.20M119.62,421.30v5.20M231.13,386.50h5.20M233.73,383.90v5.20M79.16,451.38h5.20M81.76,448.78v5.20M105.66,433.30h5.20M108.26,430.70v5.20M222.36,391.25h5.20M224.96,388.65v5.20M329.94,372.70h5.20M332.54,370.10v5.20M48.98,503.20h5.20M51.58,500.60v5.20M129.76,420.08h5.20M132.36,417.48v5.20M122.19,421.73h5.20M124.79,419.12v5.20M51.68,489.35h5.20M54.28,486.75v5.20M162.88,410.50h5.20M165.48,407.90v5.20M138.26,417.82h5.20M140.86,415.22v5.20M265.54,385.00h5.20M268.14,382.40v5.20M68.04,461.80h5.20M70.64,459.20v5.20M295.63,380.41h5.20M298.23,377.81v5.20M213.39,396.00h5.20M215.99,393.40v5.20M144.84,415.20h5.20M147.44,412.60v5.20M85.33,448.46h5.20M87.93,445.86v5.20M284.37,381.20h5.20M286.97,378.60v5.20M115.23,425.20h5.20M117.83,422.60v5.20M326.53,373.75h5.20M329.13,371.15v5.20M200.85,398.74h5.20M203.45,396.14v5.20M265.37,385.00h5.20M267.97,382.40v5.20M59.24,472.00h5.20M61.84,469.40v5.20M226.50,388.88h5.20M229.10,386.27v5.20M73.81,455.80h5.20M76.41,453.20v5.20M211.48,396.46h5.20M214.08,393.86v5.20M48.03,508.00h5.20M50.63,505.40v5.20M104.92,434.75h5.20M107.52,432.15v5.20M107.14,431.85h5.20M109.74,429.25v5.20M214.93,394.81h5.20M217.53,392.21v5.20M260.84,385.00h5.20M263.44,382.40v5.20M171.74,405.20h5.20M174.34,402.60v5.20M57.31,476.50h5.20M59.91,473.90v5.20M51.38,490.81h5.20M53.98,488.21v5.20M48.40,506.40h5.20M51.00,503.80v5.20M114.25,425.20h5.20M116.85,422.60v5.20M122.58,421.73h5.20M125.18,419.12v5.20M128.06,420.08h5.20M130.66,417.48v5.20M164.40,408.93h5.20M167.00,406.33v5.20M323.10,374.94h5.20M325.70,372.34v5.20M136.99,417.82h5.20M139.59,415.22v5.20M322.97,374.94h5.20M325.57,372.34v5.20M207.62,397.37h5.20M210.22,394.77v5.20M123.10,421.73h5.20M125.70,419.12v5.20M91.69,442.42h5.20M94.29,439.82v5.20M49.47,500.00h5.20M52.07,497.40v5.20M288.86,380.89h5.20M291.46,378.29v5.20M138.24,417.82h5.20M140.84,415.22v5.20M91.76,442.42h5.20M94.36,439.82v5.20M164.62,408.93h5.20M167.22,406.33v5.20M311.51,375.76h5.20M314.11,373.16v5.20M82.92,449.92h5.20M85.52,447.32v5.20M129.97,419.62h5.20M132.57,417.02v5.20M140.95,416.95h5.20M143.55,414.35v5.20M99.28,438.55h5.20M101.88,435.95v5.20M225.08,388.88h5.20M227.68,386.27v5.20M305.61,376.95h5.20M308.21,374.35v5.20M99.58,438.55h5.20M102.18,435.95v5.20M47.54,509.52h5.20M50.14,506.92v5.20M58.53,473.50h5.20M61.13,470.90v5.20M47.41,509.52h5.20M50.01,506.92v5.20M76.92,452.84h5.20M79.52,450.24v5.20M52.77,483.50h5.20M55.37,480.90v5.20M162.34,410.50h5.20M164.94,407.90v5.20M263.91,385.00h5.20M266.51,382.40v5.20M86.81,447.00h5.20M89.41,444.40v5.20M253.69,385.00h5.20M256.29,382.40v5.20M230.85,386.50h5.20M233.45,383.90v5.20M314.70,375.49h5.20M317.30,372.89v5.20M190.34,401.00h5.20M192.94,398.40v5.20M54.41,480.75h5.20M57.01,478.15v5.20M221.95,391.25h5.20M224.55,388.65v5.20M227.67,387.69h5.20M230.27,385.09v5.20M155.60,412.28h5.20M158.20,409.68v5.20M137.11,417.82h5.20M139.71,415.22v5.20M184.57,401.90h5.20M187.17,399.30v5.20M92.59,442.42h5.20M95.19,439.82v5.20M52.54,484.96h5.20M55.14,482.36v5.20M155.70,412.28h5.20M158.30,409.68v5.20M57.16,476.50h5.20M59.76,473.90v5.20M159.15,411.70h5.20M161.75,409.10v5.20M116.25,423.90h5.20M118.85,421.30v5.20M295.35,380.41h5.20M297.95,377.81v5.20M328.37,373.75h5.20M330.97,371.15v5.20M334.64,372.70h5.20M337.24,370.10v5.20M87.78,447.00h5.20M90.38,444.40v5.20M193.36,400.10h5.20M195.96,397.50v5.20M332.75,372.70h5.20M335.35,370.10v5.20M267.80,385.00h5.20M270.40,382.40v5.20M52.26,486.43h5.20M54.86,483.82v5.20M67.84,461.80h5.20M70.44,459.20v5.20M195.59,399.65h5.20M198.19,397.05v5.20M145.17,415.20h5.20M147.77,412.60v5.20M54.05,482.12h5.20M56.65,479.52v5.20M55.64,479.38h5.20M58.24,476.77v5.20M209.42,396.91h5.20M212.02,394.31v5.20M49.39,500.00h5.20M51.99,497.40v5.20M321.00,375.07h5.20M323.60,372.47v5.20M132.79,419.16h5.20M135.39,416.56v5.20M222.27,391.25h5.20M224.87,388.65v5.20M208.82,396.91h5.20M211.42,394.31v5.20M180.56,402.80h5.20M183.16,400.20v5.20M71.51,458.80h5.20M74.11,456.20v5.20M321.82,375.07h5.20M324.42,372.47v5.20M331.58,372.70h5.20M334.18,370.10v5.20M259.04,385.00h5.20M261.64,382.40v5.20M241.28,386.50h5.20M243.88,383.90v5.20M311.37,375.76h5.20M313.97,373.16v5.20M291.11,380.73h5.20M293.71,378.13v5.20M265.52,385.00h5.20M268.12,382.40v5.20M101.12,437.38h5.20M103.72,434.77v5.20M275.66,385.00h5.20M278.26,382.40v5.20M280.94,385.00h5.20M283.54,382.40v5.20M66.34,463.30h5.20M68.94,460.70v5.20M177.51,403.40h5.20M180.11,400.80v5.20M107.10,431.85h5.20M109.70,429.25v5.20M64.38,466.30h5.20M66.98,463.70v5.20M81.19,451.38h5.20M83.79,448.78v5.20M106.73,433.30h5.20M109.33,430.70v5.20M46.90,510.00h5.20M49.50,507.40v5.20M47.90,506.00h5.20M50.50,503.40v5.20M48.60,502.00h5.20M51.20,499.40v5.20M49.20,499.00h5.20M51.80,496.40v5.20M49.70,496.00h5.20M52.30,493.40v5.20M50.40,493.00h5.20M53.00,490.40v5.20M50.90,490.00h5.20M53.50,487.40v5.20M51.60,487.00h5.20M54.20,484.40v5.20M52.40,484.00h5.20M55.00,481.40v5.20" fill="none" stroke="#DF8F44" stroke-width="1.3"/>
<path d="M393.30,514.30H393.60V512.71H393.90V511.12H394.20V509.53H394.50V507.94H394.80V506.36H395.10V504.77H395.40V503.18H395.70V501.59H396.00V500.00H396.29V498.57H396.58V497.13H396.87V495.70H397.16V494.27H397.44V492.83H397.73V491.40H398.02V489.97H398.31V488.53H398.60V487.10H399.16V485.64H399.73V484.17H400.29V482.71H400.85V481.25H401.42V479.78H401.98V478.32H402.55V476.85H403.11V475.39H403.67V473.93H404.24V472.46H404.80V471.00H405.79V469.51H406.78V468.02H407.77V466.53H408.76V465.04H409.75V463.55H410.74V462.06H411.73V460.57H412.72V459.08H413.71V457.59H414.70V456.10H415.94V454.69H417.19V453.27H418.43V451.86H419.67V450.44H420.91V449.03H422.16V447.61H423.40V446.20H425.57V445.90H427.75V445.60H429.93V445.30H432.10V445.00H433.65V443.75H435.20V442.50H436.75V441.25H438.30V440.00H439.75V438.40H441.20V436.80H442.65V435.20H444.10V433.60H446.30V433.08H448.50V432.55H450.70V432.02H452.90V431.50H453.83V430.09H454.76V428.67H455.69V427.26H456.61V425.84H457.54V424.43H458.47V423.01H459.40V421.60H461.16V420.28H462.92V418.96H464.68V417.64H466.44V416.32H468.20V415.00H470.38V414.63H472.57V414.27H474.75V413.90H476.93V413.53H479.12V413.17H481.30V412.80H483.50V412.27H485.70V411.73H487.90V411.20H490.10V410.67H492.30V410.13H494.50V409.60H496.69V408.78H498.88V407.95H501.06V407.12H503.25V406.30H505.44V405.48H507.62V404.65H509.81V403.82H512.00V403.00H514.18V401.72H516.37V400.43H518.55V399.15H520.73V397.87H522.92V396.58H525.10V395.30H527.34V394.50H529.59V393.70H531.83V392.90H534.07V392.10H536.31V391.30H538.56V390.50H540.80V389.70H543.10V389.20H545.40V388.70H547.70V388.20H550.00V387.70H552.30V387.20H554.60V386.70H556.90V386.20H559.20V385.70H561.49V384.55H563.78V383.40H566.06V382.25H568.35V381.10H570.64V379.95H572.92V378.80H575.21V377.65H577.50V376.50H579.69V376.39H581.88V376.28H584.08V376.18H586.27V376.07H588.46V375.96H590.65V375.85H592.84V375.74H595.03V375.63H597.22V375.52H599.42V375.42H601.61V375.31H603.80V375.20H605.95V375.09H608.11V374.98H610.26V374.87H612.42V374.76H614.57V374.65H616.73V374.55H618.88V374.44H621.04V374.33H623.19V374.22H625.35V374.11H627.50V374.00H629.93V372.77H632.37V371.53H634.80V370.30L671.30,370.30H672.27V368.87H673.23V367.43H674.20V366.00L682.60,366.00" fill="none" stroke="#374E55" stroke-width="1.5"/>
<path d="M442.09,433.60h5.20M444.69,431.00v5.20M463.86,416.32h5.20M466.46,413.72v5.20M479.54,412.80h5.20M482.14,410.20v5.20M391.56,511.12h5.20M394.16,508.52v5.20M458.56,420.28h5.20M461.16,417.68v5.20M640.54,370.30h5.20M643.14,367.70v5.20M429.54,445.00h5.20M432.14,442.40v5.20M399.22,479.78h5.20M401.82,477.18v5.20M525.87,394.50h5.20M528.47,391.90v5.20M427.95,445.30h5.20M430.55,442.70v5.20M670.03,368.87h5.20M672.63,366.27v5.20M679.05,366.00h5.20M681.65,363.40v5.20M402.11,472.46h5.20M404.71,469.86v5.20M392.11,507.94h5.20M394.71,505.34v5.20M607.01,374.98h5.20M609.61,372.38v5.20M517.72,399.15h5.20M520.32,396.55v5.20M407.68,463.55h5.20M410.28,460.95v5.20M433.22,442.50h5.20M435.82,439.90v5.20M414.22,454.69h5.20M416.82,452.09v5.20M522.02,396.58h5.20M524.62,393.98v5.20M541.88,389.20h5.20M544.48,386.60v5.20M661.85,370.30h5.20M664.45,367.70v5.20M521.03,396.58h5.20M523.63,393.98v5.20M645.75,370.30h5.20M648.35,367.70v5.20M399.57,478.32h5.20M402.17,475.72v5.20M567.88,381.10h5.20M570.48,378.50v5.20M546.62,388.20h5.20M549.22,385.60v5.20M660.59,370.30h5.20M663.19,367.70v5.20M481.92,412.27h5.20M484.52,409.67v5.20M584.36,376.07h5.20M586.96,373.47v5.20M400.29,476.85h5.20M402.89,474.25v5.20M603.89,375.09h5.20M606.49,372.49v5.20M560.93,384.55h5.20M563.53,381.95v5.20M402.33,471.00h5.20M404.93,468.40v5.20M499.19,407.12h5.20M501.79,404.52v5.20M668.58,370.30h5.20M671.18,367.70v5.20M484.84,411.73h5.20M487.44,409.13v5.20M540.90,389.20h5.20M543.50,386.60v5.20M669.84,368.87h5.20M672.44,366.27v5.20M396.26,487.10h5.20M398.86,484.50v5.20M392.04,507.94h5.20M394.64,505.34v5.20M472.05,414.27h5.20M474.65,411.67v5.20M471.82,414.27h5.20M474.42,411.67v5.20M593.72,375.63h5.20M596.32,373.03v5.20M425.81,445.60h5.20M428.41,443.00v5.20M499.33,407.12h5.20M501.93,404.52v5.20M546.26,388.20h5.20M548.86,385.60v5.20M449.43,432.02h5.20M452.03,429.42v5.20M673.30,366.00h5.20M675.90,363.40v5.20M451.24,430.09h5.20M453.84,427.49v5.20M398.29,481.25h5.20M400.89,478.65v5.20M476.16,413.53h5.20M478.76,410.93v5.20M565.67,382.25h5.20M568.27,379.65v5.20M617.54,374.44h5.20M620.14,371.84v5.20M524.77,394.50h5.20M527.37,391.90v5.20M460.78,418.96h5.20M463.38,416.36v5.20M536.10,390.50h5.20M538.70,387.90v5.20M514.59,400.43h5.20M517.19,397.83v5.20M499.35,407.12h5.20M501.95,404.52v5.20M399.79,478.32h5.20M402.39,475.72v5.20M602.49,375.20h5.20M605.09,372.60v5.20M400.85,475.39h5.20M403.45,472.79v5.20M629.73,372.77h5.20M632.33,370.17v5.20M583.77,376.07h5.20M586.37,373.47v5.20M631.38,371.53h5.20M633.98,368.93v5.20M437.03,440.00h5.20M439.63,437.40v5.20M613.90,374.65h5.20M616.50,372.05v5.20M430.39,445.00h5.20M432.99,442.40v5.20M460.84,418.96h5.20M463.44,416.36v5.20M585.02,376.07h5.20M587.62,373.47v5.20M451.73,430.09h5.20M454.33,427.49v5.20M652.89,370.30h5.20M655.49,367.70v5.20M652.86,370.30h5.20M655.46,367.70v5.20M671.84,366.00h5.20M674.44,363.40v5.20M488.71,410.67h5.20M491.31,408.07v5.20M572.54,378.80h5.20M575.14,376.20v5.20M539.30,389.70h5.20M541.90,387.10v5.20M541.73,389.20h5.20M544.33,386.60v5.20M567.92,381.10h5.20M570.52,378.50v5.20M391.70,509.53h5.20M394.30,506.93v5.20M629.91,371.53h5.20M632.51,368.93v5.20M596.88,375.42h5.20M599.48,372.82v5.20M549.24,387.70h5.20M551.84,385.10v5.20M425.98,445.60h5.20M428.58,443.00v5.20M422.33,446.20h5.20M424.93,443.60v5.20M510.72,403.00h5.20M513.32,400.40v5.20M450.84,431.50h5.20M453.44,428.90v5.20M660.64,370.30h5.20M663.24,367.70v5.20M641.22,370.30h5.20M643.82,367.70v5.20M505.87,404.65h5.20M508.47,402.05v5.20M453.83,427.26h5.20M456.43,424.66v5.20M410.67,459.08h5.20M413.27,456.48v5.20M592.29,375.74h5.20M594.89,373.14v5.20M391.98,507.94h5.20M394.58,505.34v5.20M500.51,407.12h5.20M503.11,404.52v5.20M408.97,462.06h5.20M411.57,459.46v5.20M464.80,416.32h5.20M467.40,413.72v5.20M634.55,370.30h5.20M637.15,367.70v5.20M450.44,431.50h5.20M453.04,428.90v5.20M403.49,469.51h5.20M406.09,466.91v5.20M564.79,382.25h5.20M567.39,379.65v5.20M402.09,472.46h5.20M404.69,469.86v5.20M503.15,405.48h5.20M505.75,402.88v5.20M611.59,374.76h5.20M614.19,372.16v5.20M419.48,449.03h5.20M422.08,446.43v5.20M606.00,374.98h5.20M608.60,372.38v5.20M390.96,514.30h5.20M393.56,511.70v5.20M612.18,374.65h5.20M614.78,372.05v5.20M587.55,375.96h5.20M590.15,373.36v5.20M542.41,389.20h5.20M545.01,386.60v5.20M674.35,366.00h5.20M676.95,363.40v5.20M616.11,374.55h5.20M618.71,371.95v5.20M447.40,432.55h5.20M450.00,429.95v5.20M560.83,384.55h5.20M563.43,381.95v5.20M520.92,396.58h5.20M523.52,393.98v5.20M430.34,445.00h5.20M432.94,442.40v5.20M404.04,469.51h5.20M406.64,466.91v5.20M641.04,370.30h5.20M643.64,367.70v5.20M565.00,382.25h5.20M567.60,379.65v5.20M402.08,472.46h5.20M404.68,469.86v5.20M586.53,375.96h5.20M589.13,373.36v5.20M398.98,479.78h5.20M401.58,477.18v5.20M589.07,375.85h5.20M591.67,373.25v5.20M608.01,374.87h5.20M610.61,372.27v5.20M399.58,478.32h5.20M402.18,475.72v5.20M630.16,371.53h5.20M632.76,368.93v5.20M395.93,488.53h5.20M398.53,485.93v5.20M398.07,482.71h5.20M400.67,480.11v5.20M396.70,485.64h5.20M399.30,483.04v5.20M554.01,386.70h5.20M556.61,384.10v5.20M468.76,414.63h5.20M471.36,412.03v5.20M392.90,503.18h5.20M395.50,500.58v5.20M429.04,445.30h5.20M431.64,442.70v5.20M569.83,379.95h5.20M572.43,377.35v5.20M510.93,403.00h5.20M513.53,400.40v5.20M402.58,471.00h5.20M405.18,468.40v5.20M439.01,436.80h5.20M441.61,434.20v5.20M575.37,376.50h5.20M577.97,373.90v5.20M448.72,432.02h5.20M451.32,429.42v5.20M626.45,374.00h5.20M629.05,371.40v5.20M494.92,408.78h5.20M497.52,406.18v5.20M666.49,370.30h5.20M669.09,367.70v5.20M484.35,411.73h5.20M486.95,409.13v5.20M625.52,374.00h5.20M628.12,371.40v5.20M431.21,443.75h5.20M433.81,441.15v5.20M502.33,406.30h5.20M504.93,403.70v5.20M407.58,463.55h5.20M410.18,460.95v5.20M675.64,366.00h5.20M678.24,363.40v5.20M461.80,418.96h5.20M464.40,416.36v5.20M645.93,370.30h5.20M648.53,367.70v5.20M402.00,472.46h5.20M404.60,469.86v5.20M576.92,376.50h5.20M579.52,373.90v5.20M550.41,387.20h5.20M553.01,384.60v5.20M505.65,404.65h5.20M508.25,402.05v5.20M484.13,411.73h5.20M486.73,409.13v5.20M665.27,370.30h5.20M667.87,367.70v5.20M649.65,370.30h5.20M652.25,367.70v5.20M668.83,370.30h5.20M671.43,367.70v5.20M655.57,370.30h5.20M658.17,367.70v5.20M628.34,372.77h5.20M630.94,370.17v5.20M671.81,366.00h5.20M674.41,363.40v5.20M622.36,374.22h5.20M624.96,371.62v5.20M460.02,420.28h5.20M462.62,417.68v5.20M419.25,449.03h5.20M421.85,446.43v5.20M490.60,410.13h5.20M493.20,407.53v5.20M415.58,453.27h5.20M418.18,450.67v5.20M572.82,377.65h5.20M575.42,375.05v5.20M670.85,367.43h5.20M673.45,364.83v5.20M459.29,420.28h5.20M461.89,417.68v5.20M524.50,395.30h5.20M527.10,392.70v5.20M655.31,370.30h5.20M657.91,367.70v5.20M456.99,421.60h5.20M459.59,419.00v5.20M395.57,489.97h5.20M398.17,487.37v5.20M525.75,394.50h5.20M528.35,391.90v5.20M675.07,366.00h5.20M677.67,363.40v5.20M454.40,425.84h5.20M457.00,423.24v5.20M411.05,459.08h5.20M413.65,456.48v5.20M528.20,393.70h5.20M530.80,391.10v5.20M474.88,413.53h5.20M477.48,410.93v5.20M446.99,432.55h5.20M449.59,429.95v5.20M485.25,411.73h5.20M487.85,409.13v5.20M518.59,397.87h5.20M521.19,395.27v5.20M394.31,495.70h5.20M396.91,493.10v5.20M453.81,427.26h5.20M456.41,424.66v5.20M640.83,370.30h5.20M643.43,367.70v5.20M593.40,375.63h5.20M596.00,373.03v5.20M512.75,401.72h5.20M515.35,399.12v5.20M393.42,500.00h5.20M396.02,497.40v5.20M555.88,386.20h5.20M558.48,383.60v5.20M461.94,418.96h5.20M464.54,416.36v5.20M610.47,374.76h5.20M613.07,372.16v5.20M395.58,489.97h5.20M398.18,487.37v5.20M550.22,387.20h5.20M552.82,384.60v5.20M393.83,498.57h5.20M396.43,495.97v5.20M393.02,503.18h5.20M395.62,500.58v5.20M538.84,389.70h5.20M541.44,387.10v5.20M483.61,411.73h5.20M486.21,409.13v5.20M412.33,456.10h5.20M414.93,453.50v5.20M608.64,374.87h5.20M611.24,372.27v5.20M568.83,379.95h5.20M571.43,377.35v5.20M604.64,375.09h5.20M607.24,372.49v5.20M550.60,387.20h5.20M553.20,384.60v5.20M518.55,397.87h5.20M521.15,395.27v5.20M670.32,368.87h5.20M672.92,366.27v5.20M510.79,403.00h5.20M513.39,400.40v5.20M399.01,479.78h5.20M401.61,477.18v5.20M424.81,445.90h5.20M427.41,443.30v5.20M391.43,511.12h5.20M394.03,508.52v5.20M629.24,372.77h5.20M631.84,370.17v5.20M568.73,379.95h5.20M571.33,377.35v5.20M424.51,445.90h5.20M427.11,443.30v5.20M441.10,435.20h5.20M443.70,432.60v5.20M454.72,425.84h5.20M457.32,423.24v5.20M522.10,396.58h5.20M524.70,393.98v5.20M674.78,366.00h5.20M677.38,363.40v5.20M671.68,366.00h5.20M674.28,363.40v5.20M629.84,371.53h5.20M632.44,368.93v5.20M514.61,400.43h5.20M517.21,397.83v5.20M588.74,375.85h5.20M591.34,373.25v5.20M418.05,450.44h5.20M420.65,447.84v5.20M517.60,399.15h5.20M520.20,396.55v5.20M496.36,407.95h5.20M498.96,405.35v5.20M588.53,375.85h5.20M591.13,373.25v5.20M491.90,409.60h5.20M494.50,407.00v5.20M432.08,443.75h5.20M434.68,441.15v5.20M587.25,375.96h5.20M589.85,373.36v5.20M482.51,412.27h5.20M485.11,409.67v5.20M554.77,386.20h5.20M557.37,383.60v5.20M512.89,401.72h5.20M515.49,399.12v5.20M573.06,377.65h5.20M575.66,375.05v5.20M444.45,433.08h5.20M447.05,430.48v5.20M398.45,481.25h5.20M401.05,478.65v5.20M573.93,377.65h5.20M576.53,375.05v5.20M410.84,459.08h5.20M413.44,456.48v5.20M401.50,473.93h5.20M404.10,471.33v5.20M405.27,466.53h5.20M407.87,463.93v5.20M430.30,445.00h5.20M432.90,442.40v5.20M435.52,441.25h5.20M438.12,438.65v5.20M642.54,370.30h5.20M645.14,367.70v5.20M580.81,376.28h5.20M583.41,373.68v5.20" fill="none" stroke="#374E55" stroke-width="1.3"/>
<path d="M393.30,514.30H393.60V512.71H393.90V511.12H394.20V509.53H394.50V507.94H394.80V506.36H395.10V504.77H395.40V503.18H395.70V501.59H396.00V500.00H396.24V498.49H396.47V496.98H396.71V495.47H396.95V493.96H397.18V492.45H397.42V490.95H397.65V489.44H397.89V487.93H398.13V486.42H398.36V484.91H398.60V483.40H399.84V481.92H401.08V480.44H402.32V478.96H403.56V477.48H404.80V476.00H406.87V474.75H408.93V473.50H411.00V472.25H413.07V471.00H415.13V469.75H417.20V468.50H419.27V467.47H421.33V466.43H423.40V465.40H425.47V464.37H427.53V463.33H429.60V462.30H431.67V460.85H433.73V459.40H435.80V457.95H437.87V456.50H439.93V455.05H442.00V453.60H443.74V452.02H445.48V450.44H447.22V448.86H448.96V447.28H450.70V445.70H452.88V444.16H455.06V442.62H457.24V441.08H459.42V439.54H461.60V438.00H463.80V436.48H466.00V434.96H468.20V433.44H470.40V431.92H472.60V430.40H474.78V429.74H476.96V429.08H479.14V428.42H481.32V427.76H483.50V427.10H485.69V426.66H487.88V426.22H490.07V425.78H492.26V425.34H494.45V424.90H496.64V424.46H498.83V424.02H501.02V423.58H503.21V423.14H505.40V422.70H507.60V422.04H509.80V421.38H512.00V420.72H514.20V420.06H516.40V419.40H518.73V419.12H521.05V418.85H523.38V418.57H525.70V418.30H528.02V418.02H530.35V417.75H532.67V417.47H535.00V417.20H537.33V416.46H539.66V415.71H541.99V414.97H544.31V414.23H546.64V413.49H548.97V412.74H551.30V412.00H553.48V411.57H555.67V411.13H557.85V410.70H560.03V410.27H562.22V409.83H564.40V409.40H566.50V408.61H568.60V407.82H570.70V407.03H572.80V406.24H574.90V405.45H577.00V404.66H579.10V403.87H581.20V403.08H583.30V402.29H585.40V401.50H587.66V401.13H589.91V400.76H592.17V400.39H594.43V400.01H596.69V399.64H598.94V399.27H601.20V398.90L651.10,398.90H653.20V398.50H655.30V398.10H657.40V397.70H659.50V397.30H661.60V396.90H663.70V396.50H665.80V396.10H667.90V395.70H670.00V395.30H672.10V394.90L682.60,394.90" fill="none" stroke="#DF8F44" stroke-width="1.5"/>
<path d="M523.69,418.30h5.20M526.29,415.70v5.20M661.01,396.90h5.20M663.61,394.30v5.20M391.40,511.12h5.20M394.00,508.52v5.20M450.71,444.16h5.20M453.31,441.56v5.20M480.68,427.76h5.20M483.28,425.16v5.20M392.45,506.36h5.20M395.05,503.76v5.20M448.13,445.70h5.20M450.73,443.10v5.20M612.19,398.90h5.20M614.79,396.30v5.20M425.17,463.33h5.20M427.77,460.73v5.20M461.46,436.48h5.20M464.06,433.88v5.20M417.18,467.47h5.20M419.78,464.87v5.20M531.11,417.47h5.20M533.71,414.87v5.20M447.28,447.28h5.20M449.88,444.68v5.20M593.46,400.01h5.20M596.06,397.41v5.20M456.64,441.08h5.20M459.24,438.48v5.20M626.63,398.90h5.20M629.23,396.30v5.20M494.76,424.46h5.20M497.36,421.86v5.20M406.10,474.75h5.20M408.70,472.15v5.20M539.62,414.97h5.20M542.22,412.37v5.20M654.56,398.10h5.20M657.16,395.50v5.20M393.01,503.18h5.20M395.61,500.58v5.20M432.24,459.40h5.20M434.84,456.80v5.20M616.09,398.90h5.20M618.69,396.30v5.20M502.07,423.14h5.20M504.67,420.54v5.20M420.03,466.43h5.20M422.63,463.83v5.20M478.68,428.42h5.20M481.28,425.82v5.20M420.20,466.43h5.20M422.80,463.83v5.20M393.18,501.59h5.20M395.78,498.99v5.20M401.14,477.48h5.20M403.74,474.88v5.20M511.98,420.06h5.20M514.58,417.46v5.20M603.41,398.90h5.20M606.01,396.30v5.20M546.05,413.49h5.20M548.65,410.89v5.20M402.65,476.00h5.20M405.25,473.40v5.20M588.38,400.76h5.20M590.98,398.16v5.20M655.51,397.70h5.20M658.11,395.10v5.20M469.91,431.92h5.20M472.51,429.32v5.20M456.75,441.08h5.20M459.35,438.48v5.20M608.59,398.90h5.20M611.19,396.30v5.20M518.31,419.12h5.20M520.91,416.52v5.20M402.01,477.48h5.20M404.61,474.88v5.20M593.52,400.01h5.20M596.12,397.41v5.20M537.29,415.71h5.20M539.89,413.11v5.20M663.41,396.10h5.20M666.01,393.50v5.20M595.72,399.64h5.20M598.32,397.04v5.20M451.77,444.16h5.20M454.37,441.56v5.20M473.82,429.74h5.20M476.42,427.14v5.20M393.62,500.00h5.20M396.22,497.40v5.20M467.37,433.44h5.20M469.97,430.84v5.20M493.63,424.90h5.20M496.23,422.30v5.20M447.31,447.28h5.20M449.91,444.68v5.20M392.35,506.36h5.20M394.95,503.76v5.20M395.49,487.93h5.20M398.09,485.33v5.20M562.69,409.40h5.20M565.29,406.80v5.20M669.39,395.30h5.20M671.99,392.70v5.20M663.37,396.10h5.20M665.97,393.50v5.20M571.73,406.24h5.20M574.33,403.64v5.20M537.09,415.71h5.20M539.69,413.11v5.20M651.52,398.50h5.20M654.12,395.90v5.20M536.63,416.46h5.20M539.23,413.86v5.20M439.45,453.60h5.20M442.05,451.00v5.20M651.17,398.50h5.20M653.77,395.90v5.20M393.14,501.59h5.20M395.74,498.99v5.20M677.27,394.90h5.20M679.87,392.30v5.20M425.24,463.33h5.20M427.84,460.73v5.20M631.77,398.90h5.20M634.37,396.30v5.20M530.38,417.47h5.20M532.98,414.87v5.20M476.42,429.08h5.20M479.02,426.48v5.20M390.83,514.30h5.20M393.43,511.70v5.20M394.34,495.47h5.20M396.94,492.87v5.20M399.66,480.44h5.20M402.26,477.84v5.20M635.11,398.90h5.20M637.71,396.30v5.20M393.56,500.00h5.20M396.16,497.40v5.20M501.69,423.14h5.20M504.29,420.54v5.20M407.39,473.50h5.20M409.99,470.90v5.20M605.16,398.90h5.20M607.76,396.30v5.20M619.56,398.90h5.20M622.16,396.30v5.20M437.83,455.05h5.20M440.43,452.45v5.20M488.89,425.78h5.20M491.49,423.18v5.20M527.49,418.02h5.20M530.09,415.42v5.20M506.13,422.04h5.20M508.73,419.44v5.20M671.76,394.90h5.20M674.36,392.30v5.20M391.70,509.53h5.20M394.30,506.93v5.20M448.37,445.70h5.20M450.97,443.10v5.20M474.44,429.08h5.20M477.04,426.48v5.20M651.62,398.50h5.20M654.22,395.90v5.20M633.41,398.90h5.20M636.01,396.30v5.20M578.09,403.87h5.20M580.69,401.27v5.20M447.63,447.28h5.20M450.23,444.68v5.20M424.01,464.37h5.20M426.61,461.77v5.20M536.53,416.46h5.20M539.13,413.86v5.20M413.24,469.75h5.20M415.84,467.15v5.20M638.75,398.90h5.20M641.35,396.30v5.20M670.74,394.90h5.20M673.34,392.30v5.20M425.15,463.33h5.20M427.75,460.73v5.20M575.97,404.66h5.20M578.57,402.06v5.20M552.59,411.57h5.20M555.19,408.97v5.20M508.44,421.38h5.20M511.04,418.78v5.20M651.96,398.50h5.20M654.56,395.90v5.20M554.35,411.13h5.20M556.95,408.53v5.20M502.27,423.14h5.20M504.87,420.54v5.20M528.05,417.75h5.20M530.65,415.15v5.20M477.46,428.42h5.20M480.06,425.82v5.20M479.94,427.76h5.20M482.54,425.16v5.20M459.86,438.00h5.20M462.46,435.40v5.20M477.35,428.42h5.20M479.95,425.82v5.20M667.59,395.30h5.20M670.19,392.70v5.20M391.82,509.53h5.20M394.42,506.93v5.20M468.79,431.92h5.20M471.39,429.32v5.20M535.58,416.46h5.20M538.18,413.86v5.20M431.17,459.40h5.20M433.77,456.80v5.20M645.46,398.90h5.20M648.06,396.30v5.20M443.69,450.44h5.20M446.29,447.84v5.20M450.41,444.16h5.20M453.01,441.56v5.20M640.34,398.90h5.20M642.94,396.30v5.20M431.66,459.40h5.20M434.26,456.80v5.20M569.77,407.03h5.20M572.37,404.43v5.20M492.70,424.90h5.20M495.30,422.30v5.20M432.78,459.40h5.20M435.38,456.80v5.20M641.41,398.90h5.20M644.01,396.30v5.20M400.46,478.96h5.20M403.06,476.36v5.20M677.01,394.90h5.20M679.61,392.30v5.20M487.79,425.78h5.20M490.39,423.18v5.20M394.52,493.96h5.20M397.12,491.36v5.20M395.01,490.95h5.20M397.61,488.35v5.20M558.47,410.27h5.20M561.07,407.67v5.20M645.14,398.90h5.20M647.74,396.30v5.20M541.95,414.23h5.20M544.55,411.63v5.20M533.38,417.20h5.20M535.98,414.60v5.20M435.12,457.95h5.20M437.72,455.35v5.20M576.76,403.87h5.20M579.36,401.27v5.20M429.77,460.85h5.20M432.37,458.25v5.20M528.51,417.75h5.20M531.11,415.15v5.20M482.68,427.10h5.20M485.28,424.50v5.20M418.15,467.47h5.20M420.75,464.87v5.20M454.52,442.62h5.20M457.12,440.02v5.20M661.79,396.50h5.20M664.39,393.90v5.20M537.32,415.71h5.20M539.92,413.11v5.20M473.54,429.74h5.20M476.14,427.14v5.20M549.45,412.00h5.20M552.05,409.40v5.20M392.84,503.18h5.20M395.44,500.58v5.20M523.50,418.30h5.20M526.10,415.70v5.20M447.44,447.28h5.20M450.04,444.68v5.20M624.31,398.90h5.20M626.91,396.30v5.20M436.48,456.50h5.20M439.08,453.90v5.20M440.76,453.60h5.20M443.36,451.00v5.20M411.01,471.00h5.20M413.61,468.40v5.20M482.89,427.10h5.20M485.49,424.50v5.20M412.93,469.75h5.20M415.53,467.15v5.20M404.71,474.75h5.20M407.31,472.15v5.20M453.32,442.62h5.20M455.92,440.02v5.20M588.23,400.76h5.20M590.83,398.16v5.20M494.91,424.46h5.20M497.51,421.86v5.20M593.87,400.01h5.20M596.47,397.41v5.20M478.55,428.42h5.20M481.15,425.82v5.20M437.29,456.50h5.20M439.89,453.90v5.20M510.90,420.72h5.20M513.50,418.12v5.20M466.20,433.44h5.20M468.80,430.84v5.20M406.10,474.75h5.20M408.70,472.15v5.20M460.54,438.00h5.20M463.14,435.40v5.20M490.81,425.34h5.20M493.41,422.74v5.20M423.23,464.37h5.20M425.83,461.77v5.20M456.13,441.08h5.20M458.73,438.48v5.20M516.13,419.12h5.20M518.73,416.52v5.20M573.21,405.45h5.20M575.81,402.85v5.20M394.88,490.95h5.20M397.48,488.35v5.20M426.63,463.33h5.20M429.23,460.73v5.20M519.21,418.85h5.20M521.81,416.25v5.20M433.80,457.95h5.20M436.40,455.35v5.20M441.74,452.02h5.20M444.34,449.42v5.20M598.12,399.27h5.20M600.72,396.67v5.20M569.96,407.03h5.20M572.56,404.43v5.20M553.31,411.13h5.20M555.91,408.53v5.20M393.44,500.00h5.20M396.04,497.40v5.20M436.36,456.50h5.20M438.96,453.90v5.20M627.83,398.90h5.20M630.43,396.30v5.20M479.25,427.76h5.20M481.85,425.16v5.20M677.41,394.90h5.20M680.01,392.30v5.20M454.74,441.08h5.20M457.34,438.48v5.20M672.19,394.90h5.20M674.79,392.30v5.20M604.45,398.90h5.20M607.05,396.30v5.20M553.84,411.13h5.20M556.44,408.53v5.20M613.42,398.90h5.20M616.02,396.30v5.20M397.49,481.92h5.20M400.09,479.32v5.20M647.43,398.90h5.20M650.03,396.30v5.20M550.19,412.00h5.20M552.79,409.40v5.20M441.61,452.02h5.20M444.21,449.42v5.20M396.00,484.91h5.20M398.60,482.31v5.20M393.54,500.00h5.20M396.14,497.40v5.20M457.23,439.54h5.20M459.83,436.94v5.20M482.94,427.10h5.20M485.54,424.50v5.20M433.54,457.95h5.20M436.14,455.35v5.20M547.90,412.74h5.20M550.50,410.14v5.20M505.40,422.04h5.20M508.00,419.44v5.20M604.13,398.90h5.20M606.73,396.30v5.20M415.10,468.50h5.20M417.70,465.90v5.20M508.25,421.38h5.20M510.85,418.78v5.20M522.47,418.57h5.20M525.07,415.97v5.20M621.97,398.90h5.20M624.57,396.30v5.20M393.60,500.00h5.20M396.20,497.40v5.20M391.70,509.53h5.20M394.30,506.93v5.20M407.58,473.50h5.20M410.18,470.90v5.20M594.38,399.64h5.20M596.98,397.04v5.20M446.10,448.86h5.20M448.70,446.26v5.20M564.13,408.61h5.20M566.73,406.01v5.20M565.57,408.61h5.20M568.17,406.01v5.20M472.52,429.74h5.20M475.12,427.14v5.20M555.95,410.70h5.20M558.55,408.10v5.20M404.61,474.75h5.20M407.21,472.15v5.20M470.28,430.40h5.20M472.88,427.80v5.20M466.81,433.44h5.20M469.41,430.84v5.20M519.39,418.85h5.20M521.99,416.25v5.20M602.98,398.90h5.20M605.58,396.30v5.20M454.49,442.62h5.20M457.09,440.02v5.20M644.55,398.90h5.20M647.15,396.30v5.20M588.52,400.76h5.20M591.12,398.16v5.20M597.64,399.27h5.20M600.24,396.67v5.20M401.28,477.48h5.20M403.88,474.88v5.20M398.33,481.92h5.20M400.93,479.32v5.20M451.17,444.16h5.20M453.77,441.56v5.20M514.03,419.40h5.20M516.63,416.80v5.20M571.87,406.24h5.20M574.47,403.64v5.20M642.56,398.90h5.20M645.16,396.30v5.20M448.42,445.70h5.20M451.02,443.10v5.20M588.88,400.76h5.20M591.48,398.16v5.20M461.96,436.48h5.20M464.56,433.88v5.20M410.12,472.25h5.20M412.72,469.65v5.20M491.44,425.34h5.20M494.04,422.74v5.20M455.34,441.08h5.20M457.94,438.48v5.20M508.84,421.38h5.20M511.44,418.78v5.20M616.23,398.90h5.20M618.83,396.30v5.20M566.85,407.82h5.20M569.45,405.22v5.20M636.53,398.90h5.20M639.13,396.30v5.20M521.62,418.57h5.20M524.22,415.97v5.20M440.94,453.60h5.20M443.54,451.00v5.20M613.83,398.90h5.20M616.43,396.30v5.20M395.81,484.91h5.20M398.41,482.31v5.20M665.38,395.70h5.20M667.98,393.10v5.20M624.99,398.90h5.20M627.59,396.30v5.20M522.03,418.57h5.20M524.63,415.97v5.20M473.39,429.74h5.20M475.99,427.14v5.20M397.14,483.40h5.20M399.74,480.80v5.20M398.65,480.44h5.20M401.25,477.84v5.20M561.02,409.83h5.20M563.62,407.23v5.20M633.16,398.90h5.20M635.76,396.30v5.20M652.81,398.10h5.20M655.41,395.50v5.20M391.37,511.12h5.20M393.97,508.52v5.20M594.43,399.64h5.20M597.03,397.04v5.20M513.29,420.06h5.20M515.89,417.46v5.20M411.56,471.00h5.20M414.16,468.40v5.20M635.90,398.90h5.20M638.50,396.30v5.20" fill="none" stroke="#DF8F44" stroke-width="1.3"/>
<path d="M393.30,514.30H393.70V512.90H394.10V511.50H394.50V510.10H394.90V508.70H395.30V507.30H395.70V505.90H396.10V504.50H396.41V502.95H396.73V501.40H397.04V499.85H397.35V498.30H397.66V496.75H397.98V495.20H398.29V493.65H398.60V492.10H399.63V490.65H400.67V489.20H401.70V487.75H402.73V486.30H403.77V484.85H404.80V483.40H406.68V482.17H408.55V480.95H410.43V479.73H412.30V478.50H414.52V477.50H416.74V476.50H418.96V475.50H421.18V474.50H423.40V473.50H425.47V472.67H427.53V471.83H429.60V471.00H431.67V470.17H433.73V469.33H435.80V468.50H437.87V467.47H439.93V466.43H442.00V465.40H444.07V464.37H446.13V463.33H448.20V462.30H450.56V461.28H452.92V460.26H455.28V459.24H457.64V458.22H460.00V457.20H462.10V456.92H464.20V456.63H466.30V456.35H468.40V456.07H470.50V455.78H472.60V455.50H474.79V454.96H476.98V454.42H479.17V453.88H481.36V453.34H483.55V452.80H485.74V452.26H487.93V451.72H490.12V451.18H492.31V450.64H494.50V450.10H496.69V449.66H498.88V449.22H501.07V448.78H503.26V448.34H505.45V447.90H507.64V447.46H509.83V447.02H512.02V446.58H514.21V446.14H516.40V445.70H518.73V445.01H521.05V444.32H523.38V443.64H525.70V442.95H528.02V442.26H530.35V441.57H532.67V440.89H535.00V440.20H537.33V439.74H539.66V439.29H541.99V438.83H544.31V438.37H546.64V437.91H548.97V437.46H551.30V437.00H553.48V436.67H555.67V436.33H557.85V436.00H560.03V435.67H562.22V435.33H564.40V435.00H566.58V434.67H568.77V434.33H570.95V434.00H573.13V433.67H575.32V433.33H577.50V433.00H579.69V432.68H581.88V432.35H584.08V432.02H586.27V431.70H588.46V431.38H590.65V431.05H592.84V430.73H595.03V430.40H597.22V430.08H599.42V429.75H601.61V429.43H603.80V429.10H606.05V428.67H608.30V428.23H610.55V427.80H612.80V427.37H615.05V426.93H617.30V426.50H619.48V426.38H621.67V426.27H623.85V426.15H626.03V426.03H628.22V425.92H630.40V425.80H631.37V424.57H632.33V423.33H633.30V422.10H635.36V421.52H637.42V420.94H639.48V420.36H641.54V419.78H643.60V419.20H645.64V418.04H647.68V416.88H649.72V415.72H651.76V414.56H653.80V413.40H655.62V411.92H657.45V410.45H659.27V408.98H661.10V407.50L682.60,407.50" fill="none" stroke="#00A1D5" stroke-width="1.5"/>
<path d="M486.38,451.72h5.20M488.98,449.12v5.20M447.87,462.30h5.20M450.47,459.70v5.20M613.98,426.93h5.20M616.58,424.33v5.20M456.77,458.22h5.20M459.37,455.62v5.20M515.66,445.70h5.20M518.26,443.10v5.20M476.31,454.42h5.20M478.91,451.82v5.20M580.27,432.35h5.20M582.87,429.75v5.20M538.93,439.29h5.20M541.53,436.69v5.20M527.66,442.26h5.20M530.26,439.66v5.20M391.46,512.90h5.20M394.06,510.30v5.20M589.12,431.05h5.20M591.72,428.45v5.20M633.07,421.52h5.20M635.67,418.92v5.20M467.30,456.07h5.20M469.90,453.47v5.20M628.16,425.80h5.20M630.76,423.20v5.20M672.45,407.50h5.20M675.05,404.90v5.20M394.16,501.40h5.20M396.76,498.80v5.20M397.62,490.65h5.20M400.22,488.05v5.20M460.05,456.92h5.20M462.65,454.32v5.20M500.83,448.34h5.20M503.43,445.74v5.20M650.87,414.56h5.20M653.47,411.96v5.20M535.76,439.74h5.20M538.36,437.14v5.20M456.46,458.22h5.20M459.06,455.62v5.20M469.95,455.78h5.20M472.55,453.18v5.20M674.12,407.50h5.20M676.72,404.90v5.20M627.87,425.80h5.20M630.47,423.20v5.20M406.60,480.95h5.20M409.20,478.35v5.20M406.74,480.95h5.20M409.34,478.35v5.20M676.44,407.50h5.20M679.04,404.90v5.20M663.27,407.50h5.20M665.87,404.90v5.20M431.18,469.33h5.20M433.78,466.73v5.20M445.73,462.30h5.20M448.33,459.70v5.20M526.12,442.26h5.20M528.72,439.66v5.20M576.13,433.00h5.20M578.73,430.40v5.20M549.35,437.00h5.20M551.95,434.40v5.20M598.33,429.75h5.20M600.93,427.15v5.20M589.08,431.05h5.20M591.68,428.45v5.20M505.67,447.46h5.20M508.27,444.86v5.20M393.96,502.95h5.20M396.56,500.35v5.20M555.66,436.00h5.20M558.26,433.40v5.20M638.69,420.36h5.20M641.29,417.76v5.20M636.50,420.94h5.20M639.10,418.34v5.20M514.21,445.70h5.20M516.81,443.10v5.20M447.34,462.30h5.20M449.94,459.70v5.20M660.89,407.50h5.20M663.49,404.90v5.20M391.24,512.90h5.20M393.84,510.30v5.20M471.31,455.50h5.20M473.91,452.90v5.20M403.78,483.40h5.20M406.38,480.80v5.20M467.71,456.07h5.20M470.31,453.47v5.20M462.24,456.63h5.20M464.84,454.03v5.20M420.72,474.50h5.20M423.32,471.90v5.20M548.29,437.46h5.20M550.89,434.86v5.20M395.54,495.20h5.20M398.14,492.60v5.20M596.78,430.08h5.20M599.38,427.48v5.20M655.04,410.45h5.20M657.64,407.85v5.20M478.76,453.88h5.20M481.36,451.28v5.20M529.97,441.57h5.20M532.57,438.97v5.20M439.45,465.40h5.20M442.05,462.80v5.20M664.17,407.50h5.20M666.77,404.90v5.20M537.90,439.29h5.20M540.50,436.69v5.20M543.89,438.37h5.20M546.49,435.77v5.20M677.36,407.50h5.20M679.96,404.90v5.20M443.16,464.37h5.20M445.76,461.77v5.20M392.47,508.70h5.20M395.07,506.10v5.20M657.14,408.98h5.20M659.74,406.38v5.20M475.65,454.42h5.20M478.25,451.82v5.20M436.73,467.47h5.20M439.33,464.87v5.20M568.56,434.00h5.20M571.16,431.40v5.20M651.33,413.40h5.20M653.93,410.80v5.20M584.43,431.70h5.20M587.03,429.10v5.20M409.87,478.50h5.20M412.47,475.90v5.20M675.69,407.50h5.20M678.29,404.90v5.20M506.78,447.46h5.20M509.38,444.86v5.20M678.42,407.50h5.20M681.02,404.90v5.20M528.39,441.57h5.20M530.99,438.97v5.20M525.38,442.95h5.20M527.98,440.35v5.20M596.09,430.08h5.20M598.69,427.48v5.20M631.54,422.10h5.20M634.14,419.50v5.20M539.03,439.29h5.20M541.63,436.69v5.20M426.71,471.83h5.20M429.31,469.23v5.20M392.91,507.30h5.20M395.51,504.70v5.20M542.05,438.37h5.20M544.65,435.77v5.20M653.83,411.92h5.20M656.43,409.32v5.20M421.65,473.50h5.20M424.25,470.90v5.20M547.37,437.46h5.20M549.97,434.86v5.20M390.74,514.30h5.20M393.34,511.70v5.20M588.34,431.05h5.20M590.94,428.45v5.20M443.14,464.37h5.20M445.74,461.77v5.20M638.70,420.36h5.20M641.30,417.76v5.20M418.59,474.50h5.20M421.19,471.90v5.20M604.80,428.67h5.20M607.40,426.07v5.20M474.42,454.42h5.20M477.02,451.82v5.20M496.80,449.22h5.20M499.40,446.62v5.20M548.65,437.46h5.20M551.25,434.86v5.20M429.22,470.17h5.20M431.82,467.57v5.20M581.71,432.02h5.20M584.31,429.42v5.20M434.11,468.50h5.20M436.71,465.90v5.20M665.47,407.50h5.20M668.07,404.90v5.20M458.40,457.20h5.20M461.00,454.60v5.20M415.03,476.50h5.20M417.63,473.90v5.20M584.38,431.70h5.20M586.98,429.10v5.20M617.29,426.38h5.20M619.89,423.78v5.20M401.81,484.85h5.20M404.41,482.25v5.20M504.86,447.90h5.20M507.46,445.30v5.20M401.94,484.85h5.20M404.54,482.25v5.20M573.53,433.33h5.20M576.13,430.73v5.20M407.10,480.95h5.20M409.70,478.35v5.20M604.51,428.67h5.20M607.11,426.07v5.20M510.92,446.58h5.20M513.52,443.98v5.20M553.99,436.33h5.20M556.59,433.73v5.20M421.76,473.50h5.20M424.36,470.90v5.20M534.49,440.20h5.20M537.09,437.60v5.20M670.47,407.50h5.20M673.07,404.90v5.20M462.07,456.63h5.20M464.67,454.03v5.20M561.23,435.33h5.20M563.83,432.73v5.20M440.83,465.40h5.20M443.43,462.80v5.20M666.92,407.50h5.20M669.52,404.90v5.20M657.47,408.98h5.20M660.07,406.38v5.20M570.24,434.00h5.20M572.84,431.40v5.20M427.71,471.00h5.20M430.31,468.40v5.20M659.90,407.50h5.20M662.50,404.90v5.20M456.16,458.22h5.20M458.76,455.62v5.20M600.39,429.43h5.20M602.99,426.82v5.20M656.07,410.45h5.20M658.67,407.85v5.20M390.73,514.30h5.20M393.33,511.70v5.20M393.95,502.95h5.20M396.55,500.35v5.20M392.91,507.30h5.20M395.51,504.70v5.20M562.24,435.00h5.20M564.84,432.40v5.20M635.67,420.94h5.20M638.27,418.34v5.20M666.19,407.50h5.20M668.79,404.90v5.20M558.62,435.67h5.20M561.22,433.07v5.20M445.14,463.33h5.20M447.74,460.73v5.20M390.80,514.30h5.20M393.40,511.70v5.20M461.35,456.92h5.20M463.95,454.32v5.20M518.53,444.32h5.20M521.13,441.72v5.20M454.12,459.24h5.20M456.72,456.64v5.20M621.49,426.15h5.20M624.09,423.55v5.20M611.08,427.37h5.20M613.68,424.77v5.20M526.40,442.26h5.20M529.00,439.66v5.20M500.64,448.78h5.20M503.24,446.18v5.20M652.88,413.40h5.20M655.48,410.80v5.20M598.35,429.75h5.20M600.95,427.15v5.20M409.78,478.50h5.20M412.38,475.90v5.20M629.42,424.57h5.20M632.02,421.97v5.20M560.30,435.33h5.20M562.90,432.73v5.20M445.44,463.33h5.20M448.04,460.73v5.20M527.80,441.57h5.20M530.40,438.97v5.20M466.53,456.07h5.20M469.13,453.47v5.20M395.99,493.65h5.20M398.59,491.05v5.20M648.78,415.72h5.20M651.38,413.12v5.20M390.87,514.30h5.20M393.47,511.70v5.20M403.56,483.40h5.20M406.16,480.80v5.20M622.97,426.15h5.20M625.57,423.55v5.20M614.96,426.50h5.20M617.56,423.90v5.20M391.54,511.50h5.20M394.14,508.90v5.20M632.41,422.10h5.20M635.01,419.50v5.20M523.65,442.95h5.20M526.25,440.35v5.20M635.07,420.94h5.20M637.67,418.34v5.20M461.60,456.63h5.20M464.20,454.03v5.20M667.42,407.50h5.20M670.02,404.90v5.20M609.75,427.80h5.20M612.35,425.20v5.20M546.34,437.91h5.20M548.94,435.31v5.20M612.29,427.37h5.20M614.89,424.77v5.20M660.26,407.50h5.20M662.86,404.90v5.20M601.71,429.10h5.20M604.31,426.50v5.20M462.32,456.63h5.20M464.92,454.03v5.20M659.80,407.50h5.20M662.40,404.90v5.20M496.56,449.22h5.20M499.16,446.62v5.20M669.17,407.50h5.20M671.77,404.90v5.20M584.81,431.70h5.20M587.41,429.10v5.20M608.71,427.80h5.20M611.31,425.20v5.20M491.34,450.64h5.20M493.94,448.04v5.20M587.80,431.38h5.20M590.40,428.77v5.20M457.04,458.22h5.20M459.64,455.62v5.20M598.07,429.75h5.20M600.67,427.15v5.20M488.76,451.18h5.20M491.36,448.58v5.20M397.13,490.65h5.20M399.73,488.05v5.20M455.33,458.22h5.20M457.93,455.62v5.20M394.66,499.85h5.20M397.26,497.25v5.20M595.97,430.08h5.20M598.57,427.48v5.20M428.49,471.00h5.20M431.09,468.40v5.20M628.40,425.80h5.20M631.00,423.20v5.20M434.37,468.50h5.20M436.97,465.90v5.20M483.73,452.26h5.20M486.33,449.66v5.20M413.84,477.50h5.20M416.44,474.90v5.20M563.84,435.00h5.20M566.44,432.40v5.20M419.17,474.50h5.20M421.77,471.90v5.20M520.91,443.64h5.20M523.51,441.04v5.20M453.95,459.24h5.20M456.55,456.64v5.20M513.60,446.14h5.20M516.20,443.54v5.20M543.20,438.37h5.20M545.80,435.77v5.20M545.87,437.91h5.20M548.47,435.31v5.20M474.38,454.42h5.20M476.98,451.82v5.20M675.54,407.50h5.20M678.14,404.90v5.20M406.16,480.95h5.20M408.76,478.35v5.20M432.49,469.33h5.20M435.09,466.73v5.20M407.86,479.73h5.20M410.46,477.12v5.20M516.14,445.01h5.20M518.74,442.41v5.20M442.26,464.37h5.20M444.86,461.77v5.20M427.01,471.00h5.20M429.61,468.40v5.20M441.97,464.37h5.20M444.57,461.77v5.20M460.37,456.92h5.20M462.97,454.32v5.20M472.90,454.96h5.20M475.50,452.36v5.20M392.63,508.70h5.20M395.23,506.10v5.20M597.90,429.75h5.20M600.50,427.15v5.20M390.79,514.30h5.20M393.39,511.70v5.20M648.05,415.72h5.20M650.65,413.12v5.20M428.69,471.00h5.20M431.29,468.40v5.20M645.33,416.88h5.20M647.93,414.28v5.20M519.75,444.32h5.20M522.35,441.72v5.20M404.67,482.17h5.20M407.27,479.57v5.20M556.72,436.00h5.20M559.32,433.40v5.20M560.97,435.33h5.20M563.57,432.73v5.20M478.91,453.34h5.20M481.51,450.74v5.20M392.24,510.10h5.20M394.84,507.50v5.20M638.74,420.36h5.20M641.34,417.76v5.20M397.83,490.65h5.20M400.43,488.05v5.20M419.35,474.50h5.20M421.95,471.90v5.20M426.71,471.83h5.20M429.31,469.23v5.20M627.43,425.92h5.20M630.03,423.32v5.20M480.81,453.34h5.20M483.41,450.74v5.20M442.65,464.37h5.20M445.25,461.77v5.20M575.41,433.00h5.20M578.01,430.40v5.20M478.98,453.34h5.20M481.58,450.74v5.20M617.29,426.38h5.20M619.89,423.78v5.20M408.35,479.73h5.20M410.95,477.12v5.20M565.37,434.67h5.20M567.97,432.07v5.20M527.41,442.26h5.20M530.01,439.66v5.20M601.67,429.10h5.20M604.27,426.50v5.20M528.14,441.57h5.20M530.74,438.97v5.20M437.64,466.43h5.20M440.24,463.83v5.20M397.40,490.65h5.20M400.00,488.05v5.20M644.38,418.04h5.20M646.98,415.44v5.20M398.29,489.20h5.20M400.89,486.60v5.20M547.60,437.46h5.20M550.20,434.86v5.20M392.74,507.30h5.20M395.34,504.70v5.20M540.79,438.83h5.20M543.39,436.23v5.20M397.83,490.65h5.20M400.43,488.05v5.20M438.55,466.43h5.20M441.15,463.83v5.20M528.54,441.57h5.20M531.14,438.97v5.20M667.01,407.50h5.20M669.61,404.90v5.20" fill="none" stroke="#00A1D5" stroke-width="1.3"/>
<path d="M393.30,514.30H394.20V513.20H395.10V512.10H396.00V511.00H397.27V509.67H398.53V508.33H399.80V507.00H400.06V505.52H400.32V504.04H400.58V502.56H400.84V501.08H401.10V499.60H402.08V498.20H403.05V496.80H404.02V495.40H405.00V494.00H407.00V492.53H409.00V491.07H411.00V489.60H413.07V488.37H415.13V487.13H417.20V485.90H419.27V484.67H421.33V483.43H423.40V482.20H425.47V481.37H427.53V480.53H429.60V479.70H431.67V478.87H433.73V478.03H435.80V477.20H437.87V476.58H439.93V475.97H442.00V475.35H444.07V474.73H446.13V474.12H448.20V473.50H450.43V472.52H452.67V471.53H454.90V470.55H457.13V469.57H459.37V468.58H461.60V467.60H463.80V467.29H466.00V466.97H468.20V466.66H470.40V466.34H472.60V466.03H474.80V465.71H477.00V465.40H479.19V464.99H481.38V464.57H483.56V464.16H485.75V463.75H487.94V463.34H490.12V462.93H492.31V462.51H494.50V462.10H496.69V461.83H498.88V461.55H501.06V461.27H503.25V461.00H505.44V460.73H507.62V460.45H509.81V460.17H512.00V459.90H514.30V459.79H516.60V459.68H518.90V459.57H521.20V459.46H523.50V459.35H525.80V459.24H528.10V459.13H530.40V459.02H532.70V458.91H535.00V458.80H537.15V458.72H539.30V458.64H541.45V458.56H543.60V458.48H545.75V458.40H547.90V458.32H550.05V458.24H552.20V458.16H554.35V458.08H556.50V458.00H558.70V457.03H560.90V456.07H563.10V455.10H565.30V454.13H567.50V453.17H569.70V452.20L598.60,452.20H600.78V451.20H602.97V450.20H605.15V449.20H607.33V448.20H609.52V447.20H611.70V446.20H614.00V446.02H616.30V445.85H618.60V445.68H620.90V445.50H623.20V445.32H625.50V445.15H627.80V444.98H630.10V444.80H632.08V444.48H634.05V444.15H636.02V443.82H638.00V443.50H640.23V443.54H642.46V443.58H644.69V443.62H646.92V443.66H649.15V443.70H651.38V443.74H653.61V443.78H655.84V443.82H658.07V443.86H660.30V443.90H662.53V443.94H664.76V443.98H666.99V444.02H669.22V444.06H671.45V444.10H673.68V444.14H675.91V444.18H678.14V444.22H680.37V444.26H682.60V444.30" fill="none" stroke="#B24745" stroke-width="1.5"/>
<path d="M490.89,462.51h5.20M493.49,459.91v5.20M625.17,445.15h5.20M627.77,442.55v5.20M603.73,449.20h5.20M606.33,446.60v5.20M585.54,452.20h5.20M588.14,449.60v5.20M666.55,444.02h5.20M669.15,441.42v5.20M600.84,450.20h5.20M603.44,447.60v5.20M539.79,458.56h5.20M542.39,455.96v5.20M436.88,476.58h5.20M439.48,473.98v5.20M434.67,477.20h5.20M437.27,474.60v5.20M512.68,459.79h5.20M515.28,457.19v5.20M588.05,452.20h5.20M590.65,449.60v5.20M677.77,444.22h5.20M680.37,441.62v5.20M609.71,446.20h5.20M612.31,443.60v5.20M581.42,452.20h5.20M584.02,449.60v5.20M658.70,443.90h5.20M661.30,441.30v5.20M470.06,466.03h5.20M472.66,463.43v5.20M506.19,460.45h5.20M508.79,457.85v5.20M454.77,469.57h5.20M457.37,466.97v5.20M509.56,459.90h5.20M512.16,457.30v5.20M419.65,483.43h5.20M422.25,480.83v5.20M468.90,466.34h5.20M471.50,463.74v5.20M526.39,459.13h5.20M528.99,456.53v5.20M410.50,488.37h5.20M413.10,485.77v5.20M538.79,458.64h5.20M541.39,456.04v5.20M448.62,472.52h5.20M451.22,469.92v5.20M460.63,467.60h5.20M463.23,465.00v5.20M515.83,459.68h5.20M518.43,457.08v5.20M390.82,514.30h5.20M393.42,511.70v5.20M429.83,478.87h5.20M432.43,476.27v5.20M483.99,463.75h5.20M486.59,461.15v5.20M667.60,444.06h5.20M670.20,441.46v5.20M543.07,458.48h5.20M545.67,455.88v5.20M561.81,455.10h5.20M564.41,452.50v5.20M621.37,445.32h5.20M623.97,442.72v5.20M397.15,508.33h5.20M399.75,505.73v5.20M529.14,459.02h5.20M531.74,456.42v5.20M399.23,499.60h5.20M401.83,497.00v5.20M475.81,465.40h5.20M478.41,462.80v5.20M452.12,471.53h5.20M454.72,468.93v5.20M475.00,465.40h5.20M477.60,462.80v5.20M642.59,443.62h5.20M645.19,441.02v5.20M446.69,473.50h5.20M449.29,470.90v5.20M671.34,444.14h5.20M673.94,441.54v5.20M430.71,478.87h5.20M433.31,476.27v5.20M399.88,498.20h5.20M402.48,495.60v5.20M606.29,448.20h5.20M608.89,445.60v5.20M607.17,447.20h5.20M609.77,444.60v5.20M640.66,443.58h5.20M643.26,440.98v5.20M614.78,445.85h5.20M617.38,443.25v5.20M640.93,443.58h5.20M643.53,440.98v5.20M443.84,474.12h5.20M446.44,471.52v5.20M514.11,459.68h5.20M516.71,457.08v5.20M420.54,483.43h5.20M423.14,480.83v5.20M542.86,458.48h5.20M545.46,455.88v5.20M415.59,485.90h5.20M418.19,483.30v5.20M505.26,460.45h5.20M507.86,457.85v5.20M445.44,474.12h5.20M448.04,471.52v5.20M581.81,452.20h5.20M584.41,449.60v5.20M555.79,458.00h5.20M558.39,455.40v5.20M663.49,443.98h5.20M666.09,441.38v5.20M397.95,504.04h5.20M400.55,501.44v5.20M419.23,483.43h5.20M421.83,480.83v5.20M413.59,487.13h5.20M416.19,484.53v5.20M544.14,458.40h5.20M546.74,455.80v5.20M505.33,460.45h5.20M507.93,457.85v5.20M582.63,452.20h5.20M585.23,449.60v5.20M456.40,469.57h5.20M459.00,466.97v5.20M659.76,443.90h5.20M662.36,441.30v5.20M673.46,444.18h5.20M676.06,441.58v5.20M479.76,464.57h5.20M482.36,461.97v5.20M443.00,474.73h5.20M445.60,472.13v5.20M644.63,443.66h5.20M647.23,441.06v5.20M518.53,459.57h5.20M521.13,456.97v5.20M640.87,443.58h5.20M643.47,440.98v5.20M405.31,492.53h5.20M407.91,489.93v5.20M522.71,459.35h5.20M525.31,456.75v5.20M423.44,481.37h5.20M426.04,478.77v5.20M673.34,444.18h5.20M675.94,441.58v5.20M554.11,458.00h5.20M556.71,455.40v5.20M599.11,451.20h5.20M601.71,448.60v5.20M653.74,443.82h5.20M656.34,441.22v5.20M635.91,443.50h5.20M638.51,440.90v5.20M397.48,505.52h5.20M400.08,502.92v5.20M400.83,496.80h5.20M403.43,494.20v5.20M669.64,444.10h5.20M672.24,441.50v5.20M568.09,452.20h5.20M570.69,449.60v5.20M522.14,459.35h5.20M524.74,456.75v5.20M403.56,494.00h5.20M406.16,491.40v5.20M499.18,461.27h5.20M501.78,458.67v5.20M622.19,445.32h5.20M624.79,442.72v5.20M408.62,489.60h5.20M411.22,487.00v5.20M397.79,504.04h5.20M400.39,501.44v5.20M562.63,455.10h5.20M565.23,452.50v5.20M670.78,444.10h5.20M673.38,441.50v5.20M410.04,489.60h5.20M412.64,487.00v5.20M601.40,450.20h5.20M604.00,447.60v5.20M679.11,444.26h5.20M681.71,441.66v5.20M408.85,489.60h5.20M411.45,487.00v5.20M411.73,488.37h5.20M414.33,485.77v5.20M557.99,457.03h5.20M560.59,454.43v5.20M391.61,513.20h5.20M394.21,510.60v5.20M669.43,444.10h5.20M672.03,441.50v5.20M445.32,474.12h5.20M447.92,471.52v5.20M407.99,491.07h5.20M410.59,488.47v5.20M643.34,443.62h5.20M645.94,441.02v5.20M553.91,458.00h5.20M556.51,455.40v5.20M553.07,458.08h5.20M555.67,455.48v5.20M603.68,449.20h5.20M606.28,446.60v5.20M406.85,491.07h5.20M409.45,488.47v5.20M565.07,453.17h5.20M567.67,450.57v5.20M404.90,492.53h5.20M407.50,489.93v5.20M610.36,446.20h5.20M612.96,443.60v5.20M472.12,466.03h5.20M474.72,463.43v5.20M543.66,458.40h5.20M546.26,455.80v5.20M540.69,458.56h5.20M543.29,455.96v5.20M475.35,465.40h5.20M477.95,462.80v5.20M545.27,458.40h5.20M547.87,455.80v5.20M560.90,455.10h5.20M563.50,452.50v5.20M543.84,458.40h5.20M546.44,455.80v5.20M508.77,460.17h5.20M511.37,457.57v5.20M394.04,511.00h5.20M396.64,508.40v5.20M458.10,468.58h5.20M460.70,465.98v5.20M617.07,445.68h5.20M619.67,443.07v5.20M558.94,456.07h5.20M561.54,453.47v5.20M442.52,474.73h5.20M445.12,472.13v5.20M526.01,459.13h5.20M528.61,456.53v5.20M601.46,450.20h5.20M604.06,447.60v5.20M470.56,466.03h5.20M473.16,463.43v5.20M624.97,445.15h5.20M627.57,442.55v5.20M658.25,443.90h5.20M660.85,441.30v5.20M400.09,498.20h5.20M402.69,495.60v5.20M395.75,509.67h5.20M398.35,507.07v5.20M576.84,452.20h5.20M579.44,449.60v5.20M497.77,461.55h5.20M500.37,458.95v5.20M417.42,484.67h5.20M420.02,482.07v5.20M608.40,447.20h5.20M611.00,444.60v5.20M545.52,458.32h5.20M548.12,455.72v5.20M431.66,478.03h5.20M434.26,475.43v5.20M396.74,508.33h5.20M399.34,505.73v5.20M542.99,458.48h5.20M545.59,455.88v5.20M536.52,458.72h5.20M539.12,456.12v5.20M506.16,460.45h5.20M508.76,457.85v5.20M448.87,472.52h5.20M451.47,469.92v5.20M656.56,443.86h5.20M659.16,441.26v5.20M391.02,514.30h5.20M393.62,511.70v5.20M428.29,479.70h5.20M430.89,477.10v5.20M519.69,459.46h5.20M522.29,456.86v5.20M654.94,443.82h5.20M657.54,441.22v5.20M401.45,495.40h5.20M404.05,492.80v5.20M584.35,452.20h5.20M586.95,449.60v5.20M566.00,453.17h5.20M568.60,450.57v5.20M396.51,508.33h5.20M399.11,505.73v5.20M624.28,445.15h5.20M626.88,442.55v5.20M397.49,505.52h5.20M400.09,502.92v5.20M645.54,443.66h5.20M648.14,441.06v5.20M420.19,483.43h5.20M422.79,480.83v5.20M655.17,443.82h5.20M657.77,441.22v5.20M564.48,454.13h5.20M567.08,451.53v5.20M401.88,495.40h5.20M404.48,492.80v5.20M614.49,445.85h5.20M617.09,443.25v5.20M414.32,487.13h5.20M416.92,484.53v5.20M567.32,452.20h5.20M569.92,449.60v5.20M399.04,499.60h5.20M401.64,497.00v5.20M663.54,443.98h5.20M666.14,441.38v5.20M635.63,443.50h5.20M638.23,440.90v5.20M541.39,458.48h5.20M543.99,455.88v5.20M461.53,467.29h5.20M464.13,464.69v5.20M502.94,460.73h5.20M505.54,458.12v5.20M566.32,453.17h5.20M568.92,450.57v5.20M646.03,443.66h5.20M648.63,441.06v5.20M401.30,496.80h5.20M403.90,494.20v5.20M532.25,458.91h5.20M534.85,456.31v5.20M511.89,459.79h5.20M514.49,457.19v5.20M572.11,452.20h5.20M574.71,449.60v5.20M674.51,444.18h5.20M677.11,441.58v5.20M645.42,443.66h5.20M648.02,441.06v5.20M462.66,467.29h5.20M465.26,464.69v5.20M580.40,452.20h5.20M583.00,449.60v5.20M448.77,472.52h5.20M451.37,469.92v5.20M573.70,452.20h5.20M576.30,449.60v5.20M417.67,484.67h5.20M420.27,482.07v5.20M565.05,453.17h5.20M567.65,450.57v5.20M447.77,473.50h5.20M450.37,470.90v5.20M447.32,473.50h5.20M449.92,470.90v5.20M454.72,469.57h5.20M457.32,466.97v5.20M511.40,459.90h5.20M514.00,457.30v5.20M604.84,448.20h5.20M607.44,445.60v5.20M585.04,452.20h5.20M587.64,449.60v5.20M510.93,459.90h5.20M513.53,457.30v5.20M523.62,459.24h5.20M526.22,456.64v5.20M570.83,452.20h5.20M573.43,449.60v5.20M458.67,468.58h5.20M461.27,465.98v5.20M539.95,458.56h5.20M542.55,455.96v5.20M581.33,452.20h5.20M583.93,449.60v5.20M479.98,464.57h5.20M482.58,461.97v5.20M393.85,511.00h5.20M396.45,508.40v5.20M397.46,507.00h5.20M400.06,504.40v5.20M648.01,443.70h5.20M650.61,441.10v5.20M418.43,484.67h5.20M421.03,482.07v5.20M449.63,472.52h5.20M452.23,469.92v5.20M564.03,454.13h5.20M566.63,451.53v5.20M596.58,452.20h5.20M599.18,449.60v5.20M621.85,445.32h5.20M624.45,442.72v5.20M600.02,451.20h5.20M602.62,448.60v5.20M442.32,474.73h5.20M444.92,472.13v5.20M472.37,465.71h5.20M474.97,463.11v5.20M636.93,443.50h5.20M639.53,440.90v5.20M512.95,459.79h5.20M515.55,457.19v5.20M635.56,443.50h5.20M638.16,440.90v5.20M471.51,466.03h5.20M474.11,463.43v5.20M528.94,459.02h5.20M531.54,456.42v5.20M443.99,474.12h5.20M446.59,471.52v5.20M576.95,452.20h5.20M579.55,449.60v5.20M659.71,443.90h5.20M662.31,441.30v5.20M669.47,444.10h5.20M672.07,441.50v5.20M521.14,459.35h5.20M523.74,456.75v5.20M470.16,466.03h5.20M472.76,463.43v5.20M518.50,459.57h5.20M521.10,456.97v5.20M601.16,450.20h5.20M603.76,447.60v5.20M449.91,472.52h5.20M452.51,469.92v5.20M397.94,504.04h5.20M400.54,501.44v5.20M629.61,444.48h5.20M632.21,441.88v5.20M663.60,443.98h5.20M666.20,441.38v5.20M479.71,464.57h5.20M482.31,461.97v5.20M555.06,458.00h5.20M557.66,455.40v5.20M635.19,443.82h5.20M637.79,441.22v5.20M461.22,467.29h5.20M463.82,464.69v5.20M606.15,448.20h5.20M608.75,445.60v5.20M565.06,453.17h5.20M567.66,450.57v5.20M401.33,496.80h5.20M403.93,494.20v5.20M473.24,465.71h5.20M475.84,463.11v5.20M669.28,444.10h5.20M671.88,441.50v5.20M560.64,455.10h5.20M563.24,452.50v5.20M538.29,458.64h5.20M540.89,456.04v5.20M418.24,484.67h5.20M420.84,482.07v5.20M670.69,444.10h5.20M673.29,441.50v5.20M608.99,447.20h5.20M611.59,444.60v5.20M582.92,452.20h5.20M585.52,449.60v5.20M620.15,445.50h5.20M622.75,442.90v5.20M559.77,456.07h5.20M562.37,453.47v5.20M421.50,482.20h5.20M424.10,479.60v5.20M460.89,467.60h5.20M463.49,465.00v5.20M605.37,448.20h5.20M607.97,445.60v5.20M677.90,444.26h5.20M680.50,441.66v5.20M398.33,501.08h5.20M400.93,498.48v5.20M401.38,496.80h5.20M403.98,494.20v5.20M470.85,466.03h5.20M473.45,463.43v5.20M628.55,444.80h5.20M631.15,442.20v5.20M559.27,456.07h5.20M561.87,453.47v5.20M504.93,460.73h5.20M507.53,458.12v5.20" fill="none" stroke="#B24745" stroke-width="1.3"/>
<line x1="92.80" y1="221.30" x2="92.80" y2="314.90" stroke="#444" stroke-width="1.35"/>
<line x1="92.20" y1="314.30" x2="338.70" y2="314.30" stroke="#444" stroke-width="1.35"/>
<text x="93.20" y="215.30" font-size="10.9" text-anchor="start" fill="#111" font-weight="normal" stroke="#111" stroke-width="0.25" >Number at risk</text>
<line x1="104.40" y1="314.30" x2="104.40" y2="316.50" stroke="#444" stroke-width="1.35"/>
<text transform="translate(104.40,324.65) scale(1,1.07)" x="0" y="0" font-size="8.2" text-anchor="middle" fill="#222" font-weight="normal" stroke="#222" stroke-width="0.22" >0</text>
<line x1="148.92" y1="314.30" x2="148.92" y2="316.50" stroke="#444" stroke-width="1.35"/>
<text transform="translate(148.92,324.65) scale(1,1.07)" x="0" y="0" font-size="8.2" text-anchor="middle" fill="#222" font-weight="normal" stroke="#222" stroke-width="0.22" >50</text>
<line x1="193.44" y1="314.30" x2="193.44" y2="316.50" stroke="#444" stroke-width="1.35"/>
<text transform="translate(193.44,324.65) scale(1,1.07)" x="0" y="0" font-size="8.2" text-anchor="middle" fill="#222" font-weight="normal" stroke="#222" stroke-width="0.22" >100</text>
<line x1="237.96" y1="314.30" x2="237.96" y2="316.50" stroke="#444" stroke-width="1.35"/>
<text transform="translate(237.96,324.65) scale(1,1.07)" x="0" y="0" font-size="8.2" text-anchor="middle" fill="#222" font-weight="normal" stroke="#222" stroke-width="0.22" >150</text>
<line x1="282.48" y1="314.30" x2="282.48" y2="316.50" stroke="#444" stroke-width="1.35"/>
<text transform="translate(282.48,324.65) scale(1,1.07)" x="0" y="0" font-size="8.2" text-anchor="middle" fill="#222" font-weight="normal" stroke="#222" stroke-width="0.22" >200</text>
<line x1="327.00" y1="314.30" x2="327.00" y2="316.50" stroke="#444" stroke-width="1.35"/>
<text transform="translate(327.00,324.65) scale(1,1.07)" x="0" y="0" font-size="8.2" text-anchor="middle" fill="#222" font-weight="normal" stroke="#222" stroke-width="0.22" >250</text>
<line x1="90.60" y1="229.20" x2="92.80" y2="229.20" stroke="#444" stroke-width="1.35"/>
<text x="90.00" y="232.10" font-size="8.2" text-anchor="end" fill="#374E55" font-weight="normal" stroke="#374E55" stroke-width="0.1" >NOS</text>
<text transform="translate(104.40,232.80) scale(1,1.12)" x="0" y="0" font-size="8.7" text-anchor="middle" fill="#1a1a1a" font-weight="normal" stroke="#1a1a1a" stroke-width="0.18" >59</text>
<text transform="translate(148.92,232.80) scale(1,1.12)" x="0" y="0" font-size="8.7" text-anchor="middle" fill="#1a1a1a" font-weight="normal" stroke="#1a1a1a" stroke-width="0.18" >32</text>
<text transform="translate(193.44,232.80) scale(1,1.12)" x="0" y="0" font-size="8.7" text-anchor="middle" fill="#1a1a1a" font-weight="normal" stroke="#1a1a1a" stroke-width="0.18" >20</text>
<text transform="translate(237.96,232.80) scale(1,1.12)" x="0" y="0" font-size="8.7" text-anchor="middle" fill="#1a1a1a" font-weight="normal" stroke="#1a1a1a" stroke-width="0.18" >16</text>
<text transform="translate(282.48,232.80) scale(1,1.12)" x="0" y="0" font-size="8.7" text-anchor="middle" fill="#1a1a1a" font-weight="normal" stroke="#1a1a1a" stroke-width="0.18" >8</text>
<text transform="translate(327.00,232.80) scale(1,1.12)" x="0" y="0" font-size="8.7" text-anchor="middle" fill="#1a1a1a" font-weight="normal" stroke="#1a1a1a" stroke-width="0.18" >6</text>
<line x1="90.60" y1="242.17" x2="92.80" y2="242.17" stroke="#444" stroke-width="1.35"/>
<text x="91.80" y="245.07" font-size="8.2" text-anchor="end" fill="#DF8F44" font-weight="normal" stroke="#DF8F44" stroke-width="0.1" >HPV+ Oropharynx</text>
<text transform="translate(104.40,245.77) scale(1,1.12)" x="0" y="0" font-size="8.7" text-anchor="middle" fill="#1a1a1a" font-weight="normal" stroke="#1a1a1a" stroke-width="0.18" >518</text>
<text transform="translate(148.92,245.77) scale(1,1.12)" x="0" y="0" font-size="8.7" text-anchor="middle" fill="#1a1a1a" font-weight="normal" stroke="#1a1a1a" stroke-width="0.18" >263</text>
<text transform="translate(193.44,245.77) scale(1,1.12)" x="0" y="0" font-size="8.7" text-anchor="middle" fill="#1a1a1a" font-weight="normal" stroke="#1a1a1a" stroke-width="0.18" >179</text>
<text transform="translate(237.96,245.77) scale(1,1.12)" x="0" y="0" font-size="8.7" text-anchor="middle" fill="#1a1a1a" font-weight="normal" stroke="#1a1a1a" stroke-width="0.18" >123</text>
<text transform="translate(282.48,245.77) scale(1,1.12)" x="0" y="0" font-size="8.7" text-anchor="middle" fill="#1a1a1a" font-weight="normal" stroke="#1a1a1a" stroke-width="0.18" >84</text>
<text transform="translate(327.00,245.77) scale(1,1.12)" x="0" y="0" font-size="8.7" text-anchor="middle" fill="#1a1a1a" font-weight="normal" stroke="#1a1a1a" stroke-width="0.18" >43</text>
<line x1="90.60" y1="255.14" x2="92.80" y2="255.14" stroke="#444" stroke-width="1.35"/>
<text x="93.30" y="258.04" font-size="8.2" text-anchor="end" fill="#00A1D5" font-weight="normal" stroke="#00A1D5" stroke-width="0.1" >Larynx/hypopharynx</text>
<text transform="translate(104.40,258.74) scale(1,1.12)" x="0" y="0" font-size="8.7" text-anchor="middle" fill="#1a1a1a" font-weight="normal" stroke="#1a1a1a" stroke-width="0.18" >533</text>
<text transform="translate(148.92,258.74) scale(1,1.12)" x="0" y="0" font-size="8.7" text-anchor="middle" fill="#1a1a1a" font-weight="normal" stroke="#1a1a1a" stroke-width="0.18" >259</text>
<text transform="translate(193.44,258.74) scale(1,1.12)" x="0" y="0" font-size="8.7" text-anchor="middle" fill="#1a1a1a" font-weight="normal" stroke="#1a1a1a" stroke-width="0.18" >165</text>
<text transform="translate(237.96,258.74) scale(1,1.12)" x="0" y="0" font-size="8.7" text-anchor="middle" fill="#1a1a1a" font-weight="normal" stroke="#1a1a1a" stroke-width="0.18" >106</text>
<text transform="translate(282.48,258.74) scale(1,1.12)" x="0" y="0" font-size="8.7" text-anchor="middle" fill="#1a1a1a" font-weight="normal" stroke="#1a1a1a" stroke-width="0.18" >61</text>
<text transform="translate(327.00,258.74) scale(1,1.12)" x="0" y="0" font-size="8.7" text-anchor="middle" fill="#1a1a1a" font-weight="normal" stroke="#1a1a1a" stroke-width="0.18" >38</text>
<line x1="90.60" y1="268.11" x2="92.80" y2="268.11" stroke="#444" stroke-width="1.35"/>
<text x="91.80" y="271.01" font-size="8.2" text-anchor="end" fill="#B24745" font-weight="normal" stroke="#B24745" stroke-width="0.1" >Nasopharynx/Cavity</text>
<text transform="translate(104.40,271.71) scale(1,1.12)" x="0" y="0" font-size="8.7" text-anchor="middle" fill="#1a1a1a" font-weight="normal" stroke="#1a1a1a" stroke-width="0.18" >171</text>
<text transform="translate(148.92,271.71) scale(1,1.12)" x="0" y="0" font-size="8.7" text-anchor="middle" fill="#1a1a1a" font-weight="normal" stroke="#1a1a1a" stroke-width="0.18" >94</text>
<text transform="translate(193.44,271.71) scale(1,1.12)" x="0" y="0" font-size="8.7" text-anchor="middle" fill="#1a1a1a" font-weight="normal" stroke="#1a1a1a" stroke-width="0.18" >65</text>
<text transform="translate(237.96,271.71) scale(1,1.12)" x="0" y="0" font-size="8.7" text-anchor="middle" fill="#1a1a1a" font-weight="normal" stroke="#1a1a1a" stroke-width="0.18" >42</text>
<text transform="translate(282.48,271.71) scale(1,1.12)" x="0" y="0" font-size="8.7" text-anchor="middle" fill="#1a1a1a" font-weight="normal" stroke="#1a1a1a" stroke-width="0.18" >29</text>
<text transform="translate(327.00,271.71) scale(1,1.12)" x="0" y="0" font-size="8.7" text-anchor="middle" fill="#1a1a1a" font-weight="normal" stroke="#1a1a1a" stroke-width="0.18" >22</text>
<line x1="90.60" y1="281.08" x2="92.80" y2="281.08" stroke="#444" stroke-width="1.35"/>
<text x="90.00" y="283.98" font-size="8.2" text-anchor="end" fill="#79AF97" font-weight="normal" stroke="#79AF97" stroke-width="0.1" >Oral Cavity</text>
<text transform="translate(104.40,284.68) scale(1,1.12)" x="0" y="0" font-size="8.7" text-anchor="middle" fill="#1a1a1a" font-weight="normal" stroke="#1a1a1a" stroke-width="0.18" >709</text>
<text transform="translate(148.92,284.68) scale(1,1.12)" x="0" y="0" font-size="8.7" text-anchor="middle" fill="#1a1a1a" font-weight="normal" stroke="#1a1a1a" stroke-width="0.18" >383</text>
<text transform="translate(193.44,284.68) scale(1,1.12)" x="0" y="0" font-size="8.7" text-anchor="middle" fill="#1a1a1a" font-weight="normal" stroke="#1a1a1a" stroke-width="0.18" >271</text>
<text transform="translate(237.96,284.68) scale(1,1.12)" x="0" y="0" font-size="8.7" text-anchor="middle" fill="#1a1a1a" font-weight="normal" stroke="#1a1a1a" stroke-width="0.18" >174</text>
<text transform="translate(282.48,284.68) scale(1,1.12)" x="0" y="0" font-size="8.7" text-anchor="middle" fill="#1a1a1a" font-weight="normal" stroke="#1a1a1a" stroke-width="0.18" >115</text>
<text transform="translate(327.00,284.68) scale(1,1.12)" x="0" y="0" font-size="8.7" text-anchor="middle" fill="#1a1a1a" font-weight="normal" stroke="#1a1a1a" stroke-width="0.18" >65</text>
<line x1="90.60" y1="294.05" x2="92.80" y2="294.05" stroke="#444" stroke-width="1.35"/>
<text x="91.80" y="296.95" font-size="8.2" text-anchor="end" fill="#6A6599" font-weight="normal" stroke="#6A6599" stroke-width="0.1" >Oropharynx</text>
<text transform="translate(104.40,297.65) scale(1,1.12)" x="0" y="0" font-size="8.7" text-anchor="middle" fill="#1a1a1a" font-weight="normal" stroke="#1a1a1a" stroke-width="0.18" >150</text>
<text transform="translate(148.92,297.65) scale(1,1.12)" x="0" y="0" font-size="8.7" text-anchor="middle" fill="#1a1a1a" font-weight="normal" stroke="#1a1a1a" stroke-width="0.18" >54</text>
<text transform="translate(193.44,297.65) scale(1,1.12)" x="0" y="0" font-size="8.7" text-anchor="middle" fill="#1a1a1a" font-weight="normal" stroke="#1a1a1a" stroke-width="0.18" >28</text>
<text transform="translate(237.96,297.65) scale(1,1.12)" x="0" y="0" font-size="8.7" text-anchor="middle" fill="#1a1a1a" font-weight="normal" stroke="#1a1a1a" stroke-width="0.18" >20</text>
<text transform="translate(282.48,297.65) scale(1,1.12)" x="0" y="0" font-size="8.7" text-anchor="middle" fill="#1a1a1a" font-weight="normal" stroke="#1a1a1a" stroke-width="0.18" >15</text>
<text transform="translate(327.00,297.65) scale(1,1.12)" x="0" y="0" font-size="8.7" text-anchor="middle" fill="#1a1a1a" font-weight="normal" stroke="#1a1a1a" stroke-width="0.18" >9</text>
<line x1="90.60" y1="307.02" x2="92.80" y2="307.02" stroke="#444" stroke-width="1.35"/>
<text x="90.30" y="309.92" font-size="8.2" text-anchor="end" fill="#80796B" font-weight="normal" stroke="#80796B" stroke-width="0.1" >Salivary/Parotid</text>
<text transform="translate(104.40,310.62) scale(1,1.12)" x="0" y="0" font-size="8.7" text-anchor="middle" fill="#1a1a1a" font-weight="normal" stroke="#1a1a1a" stroke-width="0.18" >112</text>
<text transform="translate(148.92,310.62) scale(1,1.12)" x="0" y="0" font-size="8.7" text-anchor="middle" fill="#1a1a1a" font-weight="normal" stroke="#1a1a1a" stroke-width="0.18" >65</text>
<text transform="translate(193.44,310.62) scale(1,1.12)" x="0" y="0" font-size="8.7" text-anchor="middle" fill="#1a1a1a" font-weight="normal" stroke="#1a1a1a" stroke-width="0.18" >49</text>
<text transform="translate(237.96,310.62) scale(1,1.12)" x="0" y="0" font-size="8.7" text-anchor="middle" fill="#1a1a1a" font-weight="normal" stroke="#1a1a1a" stroke-width="0.18" >32</text>
<text transform="translate(282.48,310.62) scale(1,1.12)" x="0" y="0" font-size="8.7" text-anchor="middle" fill="#1a1a1a" font-weight="normal" stroke="#1a1a1a" stroke-width="0.18" >21</text>
<text transform="translate(327.00,310.62) scale(1,1.12)" x="0" y="0" font-size="8.7" text-anchor="middle" fill="#1a1a1a" font-weight="normal" stroke="#1a1a1a" stroke-width="0.18" >11</text>
<text x="215.75" y="335.90" font-size="9.7" text-anchor="middle" fill="#111" font-weight="normal" stroke="#111" stroke-width="0.25" >Time since diagnosis (weeks)</text>
<text x="15.00" y="267.80" font-size="9.8" text-anchor="middle" fill="#111" font-weight="normal" stroke="#111" stroke-width="0.25" transform="rotate(-90 15.00 267.80)">Site</text>
<line x1="404.90" y1="221.30" x2="404.90" y2="315.00" stroke="#444" stroke-width="1.35"/>
<line x1="404.30" y1="314.40" x2="683.70" y2="314.40" stroke="#444" stroke-width="1.35"/>
<text x="405.30" y="215.30" font-size="10.9" text-anchor="start" fill="#111" font-weight="normal" stroke="#111" stroke-width="0.25" >Number at risk</text>
<line x1="417.50" y1="314.40" x2="417.50" y2="316.60" stroke="#444" stroke-width="1.35"/>
<text transform="translate(417.50,324.75) scale(1,1.07)" x="0" y="0" font-size="8.2" text-anchor="middle" fill="#222" font-weight="normal" stroke="#222" stroke-width="0.22" >0</text>
<line x1="468.10" y1="314.40" x2="468.10" y2="316.60" stroke="#444" stroke-width="1.35"/>
<text transform="translate(468.10,324.75) scale(1,1.07)" x="0" y="0" font-size="8.2" text-anchor="middle" fill="#222" font-weight="normal" stroke="#222" stroke-width="0.22" >50</text>
<line x1="518.70" y1="314.40" x2="518.70" y2="316.60" stroke="#444" stroke-width="1.35"/>
<text transform="translate(518.70,324.75) scale(1,1.07)" x="0" y="0" font-size="8.2" text-anchor="middle" fill="#222" font-weight="normal" stroke="#222" stroke-width="0.22" >100</text>
<line x1="569.30" y1="314.40" x2="569.30" y2="316.60" stroke="#444" stroke-width="1.35"/>
<text transform="translate(569.30,324.75) scale(1,1.07)" x="0" y="0" font-size="8.2" text-anchor="middle" fill="#222" font-weight="normal" stroke="#222" stroke-width="0.22" >150</text>
<line x1="619.90" y1="314.40" x2="619.90" y2="316.60" stroke="#444" stroke-width="1.35"/>
<text transform="translate(619.90,324.75) scale(1,1.07)" x="0" y="0" font-size="8.2" text-anchor="middle" fill="#222" font-weight="normal" stroke="#222" stroke-width="0.22" >200</text>
<line x1="670.50" y1="314.40" x2="670.50" y2="316.60" stroke="#444" stroke-width="1.35"/>
<text transform="translate(670.50,324.75) scale(1,1.07)" x="0" y="0" font-size="8.2" text-anchor="middle" fill="#222" font-weight="normal" stroke="#222" stroke-width="0.22" >250</text>
<line x1="402.70" y1="232.60" x2="404.90" y2="232.60" stroke="#444" stroke-width="1.35"/>
<text x="401.60" y="235.50" font-size="8.2" text-anchor="end" fill="#374E55" font-weight="normal" stroke="#374E55" stroke-width="0.1" >Stage I</text>
<text transform="translate(417.50,236.20) scale(1,1.12)" x="0" y="0" font-size="8.7" text-anchor="middle" fill="#1a1a1a" font-weight="normal" stroke="#1a1a1a" stroke-width="0.18" >678</text>
<text transform="translate(468.10,236.20) scale(1,1.12)" x="0" y="0" font-size="8.7" text-anchor="middle" fill="#1a1a1a" font-weight="normal" stroke="#1a1a1a" stroke-width="0.18" >412</text>
<text transform="translate(518.70,236.20) scale(1,1.12)" x="0" y="0" font-size="8.7" text-anchor="middle" fill="#1a1a1a" font-weight="normal" stroke="#1a1a1a" stroke-width="0.18" >287</text>
<text transform="translate(569.30,236.20) scale(1,1.12)" x="0" y="0" font-size="8.7" text-anchor="middle" fill="#1a1a1a" font-weight="normal" stroke="#1a1a1a" stroke-width="0.18" >190</text>
<text transform="translate(619.90,236.20) scale(1,1.12)" x="0" y="0" font-size="8.7" text-anchor="middle" fill="#1a1a1a" font-weight="normal" stroke="#1a1a1a" stroke-width="0.18" >126</text>
<text transform="translate(670.50,236.20) scale(1,1.12)" x="0" y="0" font-size="8.7" text-anchor="middle" fill="#1a1a1a" font-weight="normal" stroke="#1a1a1a" stroke-width="0.18" >70</text>
<line x1="402.70" y1="250.32" x2="404.90" y2="250.32" stroke="#444" stroke-width="1.35"/>
<text x="402.10" y="253.22" font-size="8.2" text-anchor="end" fill="#DF8F44" font-weight="normal" stroke="#DF8F44" stroke-width="0.1" >II</text>
<text transform="translate(417.50,253.92) scale(1,1.12)" x="0" y="0" font-size="8.7" text-anchor="middle" fill="#1a1a1a" font-weight="normal" stroke="#1a1a1a" stroke-width="0.18" >412</text>
<text transform="translate(468.10,253.92) scale(1,1.12)" x="0" y="0" font-size="8.7" text-anchor="middle" fill="#1a1a1a" font-weight="normal" stroke="#1a1a1a" stroke-width="0.18" >229</text>
<text transform="translate(518.70,253.92) scale(1,1.12)" x="0" y="0" font-size="8.7" text-anchor="middle" fill="#1a1a1a" font-weight="normal" stroke="#1a1a1a" stroke-width="0.18" >169</text>
<text transform="translate(569.30,253.92) scale(1,1.12)" x="0" y="0" font-size="8.7" text-anchor="middle" fill="#1a1a1a" font-weight="normal" stroke="#1a1a1a" stroke-width="0.18" >119</text>
<text transform="translate(619.90,253.92) scale(1,1.12)" x="0" y="0" font-size="8.7" text-anchor="middle" fill="#1a1a1a" font-weight="normal" stroke="#1a1a1a" stroke-width="0.18" >76</text>
<text transform="translate(670.50,253.92) scale(1,1.12)" x="0" y="0" font-size="8.7" text-anchor="middle" fill="#1a1a1a" font-weight="normal" stroke="#1a1a1a" stroke-width="0.18" >46</text>
<line x1="402.70" y1="268.04" x2="404.90" y2="268.04" stroke="#444" stroke-width="1.35"/>
<text x="402.10" y="270.94" font-size="8.2" text-anchor="end" fill="#00A1D5" font-weight="normal" stroke="#00A1D5" stroke-width="0.1" >III</text>
<text transform="translate(417.50,271.64) scale(1,1.12)" x="0" y="0" font-size="8.7" text-anchor="middle" fill="#1a1a1a" font-weight="normal" stroke="#1a1a1a" stroke-width="0.18" >311</text>
<text transform="translate(468.10,271.64) scale(1,1.12)" x="0" y="0" font-size="8.7" text-anchor="middle" fill="#1a1a1a" font-weight="normal" stroke="#1a1a1a" stroke-width="0.18" >151</text>
<text transform="translate(518.70,271.64) scale(1,1.12)" x="0" y="0" font-size="8.7" text-anchor="middle" fill="#1a1a1a" font-weight="normal" stroke="#1a1a1a" stroke-width="0.18" >107</text>
<text transform="translate(569.30,271.64) scale(1,1.12)" x="0" y="0" font-size="8.7" text-anchor="middle" fill="#1a1a1a" font-weight="normal" stroke="#1a1a1a" stroke-width="0.18" >71</text>
<text transform="translate(619.90,271.64) scale(1,1.12)" x="0" y="0" font-size="8.7" text-anchor="middle" fill="#1a1a1a" font-weight="normal" stroke="#1a1a1a" stroke-width="0.18" >45</text>
<text transform="translate(670.50,271.64) scale(1,1.12)" x="0" y="0" font-size="8.7" text-anchor="middle" fill="#1a1a1a" font-weight="normal" stroke="#1a1a1a" stroke-width="0.18" >25</text>
<line x1="402.70" y1="285.76" x2="404.90" y2="285.76" stroke="#444" stroke-width="1.35"/>
<text x="401.60" y="288.66" font-size="8.2" text-anchor="end" fill="#B24745" font-weight="normal" stroke="#B24745" stroke-width="0.1" >IV</text>
<text transform="translate(417.50,289.36) scale(1,1.12)" x="0" y="0" font-size="8.7" text-anchor="middle" fill="#1a1a1a" font-weight="normal" stroke="#1a1a1a" stroke-width="0.18" >701</text>
<text transform="translate(468.10,289.36) scale(1,1.12)" x="0" y="0" font-size="8.7" text-anchor="middle" fill="#1a1a1a" font-weight="normal" stroke="#1a1a1a" stroke-width="0.18" >289</text>
<text transform="translate(518.70,289.36) scale(1,1.12)" x="0" y="0" font-size="8.7" text-anchor="middle" fill="#1a1a1a" font-weight="normal" stroke="#1a1a1a" stroke-width="0.18" >168</text>
<text transform="translate(569.30,289.36) scale(1,1.12)" x="0" y="0" font-size="8.7" text-anchor="middle" fill="#1a1a1a" font-weight="normal" stroke="#1a1a1a" stroke-width="0.18" >98</text>
<text transform="translate(619.90,289.36) scale(1,1.12)" x="0" y="0" font-size="8.7" text-anchor="middle" fill="#1a1a1a" font-weight="normal" stroke="#1a1a1a" stroke-width="0.18" >65</text>
<text transform="translate(670.50,289.36) scale(1,1.12)" x="0" y="0" font-size="8.7" text-anchor="middle" fill="#1a1a1a" font-weight="normal" stroke="#1a1a1a" stroke-width="0.18" >38</text>
<line x1="402.70" y1="303.48" x2="404.90" y2="303.48" stroke="#444" stroke-width="1.35"/>
<text x="401.10" y="306.38" font-size="8.2" text-anchor="end" fill="#79AF97" font-weight="normal" stroke="#79AF97" stroke-width="0.1" >Metastatic</text>
<text transform="translate(417.50,307.08) scale(1,1.12)" x="0" y="0" font-size="8.7" text-anchor="middle" fill="#1a1a1a" font-weight="normal" stroke="#1a1a1a" stroke-width="0.18" >57</text>
<text transform="translate(468.10,307.08) scale(1,1.12)" x="0" y="0" font-size="8.7" text-anchor="middle" fill="#1a1a1a" font-weight="normal" stroke="#1a1a1a" stroke-width="0.18" >16</text>
<text transform="translate(518.70,307.08) scale(1,1.12)" x="0" y="0" font-size="8.7" text-anchor="middle" fill="#1a1a1a" font-weight="normal" stroke="#1a1a1a" stroke-width="0.18" >11</text>
<text transform="translate(569.30,307.08) scale(1,1.12)" x="0" y="0" font-size="8.7" text-anchor="middle" fill="#1a1a1a" font-weight="normal" stroke="#1a1a1a" stroke-width="0.18" >5</text>
<text transform="translate(619.90,307.08) scale(1,1.12)" x="0" y="0" font-size="8.7" text-anchor="middle" fill="#1a1a1a" font-weight="normal" stroke="#1a1a1a" stroke-width="0.18" >3</text>
<text transform="translate(670.50,307.08) scale(1,1.12)" x="0" y="0" font-size="8.7" text-anchor="middle" fill="#1a1a1a" font-weight="normal" stroke="#1a1a1a" stroke-width="0.18" >2</text>
<text x="544.30" y="335.40" font-size="9.7" text-anchor="middle" fill="#111" font-weight="normal" stroke="#111" stroke-width="0.25" >Time since diagnosis (weeks)</text>
<text x="360.80" y="268.60" font-size="9.8" text-anchor="middle" fill="#111" font-weight="normal" stroke="#111" stroke-width="0.25" transform="rotate(-90 360.80 268.60)">Stage</text>
<line x1="36.80" y1="566.80" x2="36.80" y2="660.20" stroke="#444" stroke-width="1.35"/>
<line x1="36.20" y1="659.60" x2="338.10" y2="659.60" stroke="#444" stroke-width="1.35"/>
<text x="37.20" y="560.80" font-size="10.9" text-anchor="start" fill="#111" font-weight="normal" stroke="#111" stroke-width="0.25" >Number at risk</text>
<line x1="49.80" y1="659.60" x2="49.80" y2="661.80" stroke="#444" stroke-width="1.35"/>
<text transform="translate(49.80,669.85) scale(1,1.07)" x="0" y="0" font-size="8.2" text-anchor="middle" fill="#222" font-weight="normal" stroke="#222" stroke-width="0.22" >0</text>
<line x1="104.76" y1="659.60" x2="104.76" y2="661.80" stroke="#444" stroke-width="1.35"/>
<text transform="translate(104.76,669.85) scale(1,1.07)" x="0" y="0" font-size="8.2" text-anchor="middle" fill="#222" font-weight="normal" stroke="#222" stroke-width="0.22" >50</text>
<line x1="159.72" y1="659.60" x2="159.72" y2="661.80" stroke="#444" stroke-width="1.35"/>
<text transform="translate(159.72,669.85) scale(1,1.07)" x="0" y="0" font-size="8.2" text-anchor="middle" fill="#222" font-weight="normal" stroke="#222" stroke-width="0.22" >100</text>
<line x1="214.68" y1="659.60" x2="214.68" y2="661.80" stroke="#444" stroke-width="1.35"/>
<text transform="translate(214.68,669.85) scale(1,1.07)" x="0" y="0" font-size="8.2" text-anchor="middle" fill="#222" font-weight="normal" stroke="#222" stroke-width="0.22" >150</text>
<line x1="269.64" y1="659.60" x2="269.64" y2="661.80" stroke="#444" stroke-width="1.35"/>
<text transform="translate(269.64,669.85) scale(1,1.07)" x="0" y="0" font-size="8.2" text-anchor="middle" fill="#222" font-weight="normal" stroke="#222" stroke-width="0.22" >200</text>
<line x1="324.60" y1="659.60" x2="324.60" y2="661.80" stroke="#444" stroke-width="1.35"/>
<text transform="translate(324.60,669.85) scale(1,1.07)" x="0" y="0" font-size="8.2" text-anchor="middle" fill="#222" font-weight="normal" stroke="#222" stroke-width="0.22" >250</text>
<line x1="34.60" y1="592.50" x2="36.80" y2="592.50" stroke="#444" stroke-width="1.35"/>
<text x="33.00" y="595.40" font-size="8.2" text-anchor="end" fill="#374E55" font-weight="normal" stroke="#374E55" stroke-width="0.1" >No</text>
<text transform="translate(49.80,596.10) scale(1,1.12)" x="0" y="0" font-size="8.7" text-anchor="middle" fill="#1a1a1a" font-weight="normal" stroke="#1a1a1a" stroke-width="0.18" >847</text>
<text transform="translate(104.76,596.10) scale(1,1.12)" x="0" y="0" font-size="8.7" text-anchor="middle" fill="#1a1a1a" font-weight="normal" stroke="#1a1a1a" stroke-width="0.18" >489</text>
<text transform="translate(159.72,596.10) scale(1,1.12)" x="0" y="0" font-size="8.7" text-anchor="middle" fill="#1a1a1a" font-weight="normal" stroke="#1a1a1a" stroke-width="0.18" >362</text>
<text transform="translate(214.68,596.10) scale(1,1.12)" x="0" y="0" font-size="8.7" text-anchor="middle" fill="#1a1a1a" font-weight="normal" stroke="#1a1a1a" stroke-width="0.18" >254</text>
<text transform="translate(269.64,596.10) scale(1,1.12)" x="0" y="0" font-size="8.7" text-anchor="middle" fill="#1a1a1a" font-weight="normal" stroke="#1a1a1a" stroke-width="0.18" >165</text>
<text transform="translate(324.60,596.10) scale(1,1.12)" x="0" y="0" font-size="8.7" text-anchor="middle" fill="#1a1a1a" font-weight="normal" stroke="#1a1a1a" stroke-width="0.18" >96</text>
<line x1="34.60" y1="635.10" x2="36.80" y2="635.10" stroke="#444" stroke-width="1.35"/>
<text x="33.00" y="638.00" font-size="8.2" text-anchor="end" fill="#DF8F44" font-weight="normal" stroke="#DF8F44" stroke-width="0.1" >Yes</text>
<text transform="translate(49.80,638.70) scale(1,1.12)" x="0" y="0" font-size="8.7" text-anchor="middle" fill="#1a1a1a" font-weight="normal" stroke="#1a1a1a" stroke-width="0.18" >1405</text>
<text transform="translate(104.76,638.70) scale(1,1.12)" x="0" y="0" font-size="8.7" text-anchor="middle" fill="#1a1a1a" font-weight="normal" stroke="#1a1a1a" stroke-width="0.18" >661</text>
<text transform="translate(159.72,638.70) scale(1,1.12)" x="0" y="0" font-size="8.7" text-anchor="middle" fill="#1a1a1a" font-weight="normal" stroke="#1a1a1a" stroke-width="0.18" >415</text>
<text transform="translate(214.68,638.70) scale(1,1.12)" x="0" y="0" font-size="8.7" text-anchor="middle" fill="#1a1a1a" font-weight="normal" stroke="#1a1a1a" stroke-width="0.18" >259</text>
<text transform="translate(269.64,638.70) scale(1,1.12)" x="0" y="0" font-size="8.7" text-anchor="middle" fill="#1a1a1a" font-weight="normal" stroke="#1a1a1a" stroke-width="0.18" >168</text>
<text transform="translate(324.60,638.70) scale(1,1.12)" x="0" y="0" font-size="8.7" text-anchor="middle" fill="#1a1a1a" font-weight="normal" stroke="#1a1a1a" stroke-width="0.18" >98</text>
<text x="187.45" y="681.30" font-size="9.7" text-anchor="middle" fill="#111" font-weight="normal" stroke="#111" stroke-width="0.25" >Time since diagnosis (weeks)</text>
<text x="15.00" y="613.60" font-size="9.8" text-anchor="middle" fill="#111" font-weight="normal" stroke="#111" stroke-width="0.25" transform="rotate(-90 15.00 613.60)">Radiation</text>
<line x1="412.00" y1="566.80" x2="412.00" y2="660.20" stroke="#444" stroke-width="1.35"/>
<line x1="411.40" y1="659.60" x2="683.70" y2="659.60" stroke="#444" stroke-width="1.35"/>
<text x="412.40" y="560.80" font-size="10.9" text-anchor="start" fill="#111" font-weight="normal" stroke="#111" stroke-width="0.25" >Number at risk</text>
<line x1="423.70" y1="659.60" x2="423.70" y2="661.80" stroke="#444" stroke-width="1.35"/>
<text transform="translate(423.70,669.85) scale(1,1.07)" x="0" y="0" font-size="8.2" text-anchor="middle" fill="#222" font-weight="normal" stroke="#222" stroke-width="0.22" >0</text>
<line x1="473.18" y1="659.60" x2="473.18" y2="661.80" stroke="#444" stroke-width="1.35"/>
<text transform="translate(473.18,669.85) scale(1,1.07)" x="0" y="0" font-size="8.2" text-anchor="middle" fill="#222" font-weight="normal" stroke="#222" stroke-width="0.22" >50</text>
<line x1="522.66" y1="659.60" x2="522.66" y2="661.80" stroke="#444" stroke-width="1.35"/>
<text transform="translate(522.66,669.85) scale(1,1.07)" x="0" y="0" font-size="8.2" text-anchor="middle" fill="#222" font-weight="normal" stroke="#222" stroke-width="0.22" >100</text>
<line x1="572.14" y1="659.60" x2="572.14" y2="661.80" stroke="#444" stroke-width="1.35"/>
<text transform="translate(572.14,669.85) scale(1,1.07)" x="0" y="0" font-size="8.2" text-anchor="middle" fill="#222" font-weight="normal" stroke="#222" stroke-width="0.22" >150</text>
<line x1="621.62" y1="659.60" x2="621.62" y2="661.80" stroke="#444" stroke-width="1.35"/>
<text transform="translate(621.62,669.85) scale(1,1.07)" x="0" y="0" font-size="8.2" text-anchor="middle" fill="#222" font-weight="normal" stroke="#222" stroke-width="0.22" >200</text>
<line x1="671.10" y1="659.60" x2="671.10" y2="661.80" stroke="#444" stroke-width="1.35"/>
<text transform="translate(671.10,669.85) scale(1,1.07)" x="0" y="0" font-size="8.2" text-anchor="middle" fill="#222" font-weight="normal" stroke="#222" stroke-width="0.22" >250</text>
<line x1="409.80" y1="580.40" x2="412.00" y2="580.40" stroke="#444" stroke-width="1.35"/>
<text x="408.40" y="583.30" font-size="8.2" text-anchor="end" fill="#374E55" font-weight="normal" stroke="#374E55" stroke-width="0.1" >(0, 11] miles</text>
<text transform="translate(423.70,584.00) scale(1,1.12)" x="0" y="0" font-size="8.7" text-anchor="middle" fill="#1a1a1a" font-weight="normal" stroke="#1a1a1a" stroke-width="0.18" >551</text>
<text transform="translate(473.18,584.00) scale(1,1.12)" x="0" y="0" font-size="8.7" text-anchor="middle" fill="#1a1a1a" font-weight="normal" stroke="#1a1a1a" stroke-width="0.18" >262</text>
<text transform="translate(522.66,584.00) scale(1,1.12)" x="0" y="0" font-size="8.7" text-anchor="middle" fill="#1a1a1a" font-weight="normal" stroke="#1a1a1a" stroke-width="0.18" >171</text>
<text transform="translate(572.14,584.00) scale(1,1.12)" x="0" y="0" font-size="8.7" text-anchor="middle" fill="#1a1a1a" font-weight="normal" stroke="#1a1a1a" stroke-width="0.18" >109</text>
<text transform="translate(621.62,584.00) scale(1,1.12)" x="0" y="0" font-size="8.7" text-anchor="middle" fill="#1a1a1a" font-weight="normal" stroke="#1a1a1a" stroke-width="0.18" >71</text>
<text transform="translate(671.10,584.00) scale(1,1.12)" x="0" y="0" font-size="8.7" text-anchor="middle" fill="#1a1a1a" font-weight="normal" stroke="#1a1a1a" stroke-width="0.18" >49</text>
<line x1="409.80" y1="602.47" x2="412.00" y2="602.47" stroke="#444" stroke-width="1.35"/>
<text x="408.00" y="605.37" font-size="8.2" text-anchor="end" fill="#DF8F44" font-weight="normal" stroke="#DF8F44" stroke-width="0.1" >(11, 30]</text>
<text transform="translate(423.70,606.07) scale(1,1.12)" x="0" y="0" font-size="8.7" text-anchor="middle" fill="#1a1a1a" font-weight="normal" stroke="#1a1a1a" stroke-width="0.18" >553</text>
<text transform="translate(473.18,606.07) scale(1,1.12)" x="0" y="0" font-size="8.7" text-anchor="middle" fill="#1a1a1a" font-weight="normal" stroke="#1a1a1a" stroke-width="0.18" >288</text>
<text transform="translate(522.66,606.07) scale(1,1.12)" x="0" y="0" font-size="8.7" text-anchor="middle" fill="#1a1a1a" font-weight="normal" stroke="#1a1a1a" stroke-width="0.18" >196</text>
<text transform="translate(572.14,606.07) scale(1,1.12)" x="0" y="0" font-size="8.7" text-anchor="middle" fill="#1a1a1a" font-weight="normal" stroke="#1a1a1a" stroke-width="0.18" >131</text>
<text transform="translate(621.62,606.07) scale(1,1.12)" x="0" y="0" font-size="8.7" text-anchor="middle" fill="#1a1a1a" font-weight="normal" stroke="#1a1a1a" stroke-width="0.18" >83</text>
<text transform="translate(671.10,606.07) scale(1,1.12)" x="0" y="0" font-size="8.7" text-anchor="middle" fill="#1a1a1a" font-weight="normal" stroke="#1a1a1a" stroke-width="0.18" >52</text>
<line x1="409.80" y1="624.54" x2="412.00" y2="624.54" stroke="#444" stroke-width="1.35"/>
<text x="408.20" y="627.44" font-size="8.2" text-anchor="end" fill="#00A1D5" font-weight="normal" stroke="#00A1D5" stroke-width="0.1" >(30, 60]</text>
<text transform="translate(423.70,628.14) scale(1,1.12)" x="0" y="0" font-size="8.7" text-anchor="middle" fill="#1a1a1a" font-weight="normal" stroke="#1a1a1a" stroke-width="0.18" >523</text>
<text transform="translate(473.18,628.14) scale(1,1.12)" x="0" y="0" font-size="8.7" text-anchor="middle" fill="#1a1a1a" font-weight="normal" stroke="#1a1a1a" stroke-width="0.18" >267</text>
<text transform="translate(522.66,628.14) scale(1,1.12)" x="0" y="0" font-size="8.7" text-anchor="middle" fill="#1a1a1a" font-weight="normal" stroke="#1a1a1a" stroke-width="0.18" >187</text>
<text transform="translate(572.14,628.14) scale(1,1.12)" x="0" y="0" font-size="8.7" text-anchor="middle" fill="#1a1a1a" font-weight="normal" stroke="#1a1a1a" stroke-width="0.18" >129</text>
<text transform="translate(621.62,628.14) scale(1,1.12)" x="0" y="0" font-size="8.7" text-anchor="middle" fill="#1a1a1a" font-weight="normal" stroke="#1a1a1a" stroke-width="0.18" >87</text>
<text transform="translate(671.10,628.14) scale(1,1.12)" x="0" y="0" font-size="8.7" text-anchor="middle" fill="#1a1a1a" font-weight="normal" stroke="#1a1a1a" stroke-width="0.18" >35</text>
<line x1="409.80" y1="646.61" x2="412.00" y2="646.61" stroke="#444" stroke-width="1.35"/>
<text x="408.20" y="649.51" font-size="8.2" text-anchor="end" fill="#B24745" font-weight="normal" stroke="#B24745" stroke-width="0.1" >60+</text>
<text transform="translate(423.70,650.21) scale(1,1.12)" x="0" y="0" font-size="8.7" text-anchor="middle" fill="#1a1a1a" font-weight="normal" stroke="#1a1a1a" stroke-width="0.18" >543</text>
<text transform="translate(473.18,650.21) scale(1,1.12)" x="0" y="0" font-size="8.7" text-anchor="middle" fill="#1a1a1a" font-weight="normal" stroke="#1a1a1a" stroke-width="0.18" >289</text>
<text transform="translate(522.66,650.21) scale(1,1.12)" x="0" y="0" font-size="8.7" text-anchor="middle" fill="#1a1a1a" font-weight="normal" stroke="#1a1a1a" stroke-width="0.18" >191</text>
<text transform="translate(572.14,650.21) scale(1,1.12)" x="0" y="0" font-size="8.7" text-anchor="middle" fill="#1a1a1a" font-weight="normal" stroke="#1a1a1a" stroke-width="0.18" >123</text>
<text transform="translate(621.62,650.21) scale(1,1.12)" x="0" y="0" font-size="8.7" text-anchor="middle" fill="#1a1a1a" font-weight="normal" stroke="#1a1a1a" stroke-width="0.18" >78</text>
<text transform="translate(671.10,650.21) scale(1,1.12)" x="0" y="0" font-size="8.7" text-anchor="middle" fill="#1a1a1a" font-weight="normal" stroke="#1a1a1a" stroke-width="0.18" >50</text>
<text x="547.85" y="681.20" font-size="9.7" text-anchor="middle" fill="#111" font-weight="normal" stroke="#111" stroke-width="0.25" >Time since diagnosis (weeks)</text>
<text x="360.80" y="613.60" font-size="9.8" text-anchor="middle" fill="#111" font-weight="normal" stroke="#111" stroke-width="0.25" transform="rotate(-90 360.80 613.60)">Distance</text>
</g>
</svg></body></html>
